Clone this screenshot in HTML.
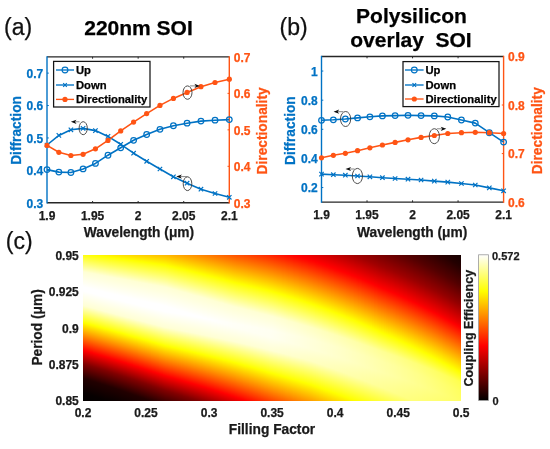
<!DOCTYPE html>
<html><head><meta charset="utf-8"><title>Grating coupler figure</title>
<style>html,body{margin:0;padding:0;background:#fff;}body{width:550px;height:449px;overflow:hidden;font-family:"Liberation Sans", sans-serif;}svg{display:block;will-change:transform;}</style>
</head><body>
<svg width="550" height="449" viewBox="0 0 550 449" font-family='"Liberation Sans", sans-serif'><rect width="550" height="449" fill="#fff"/>
<text x="4.00" y="34.70" font-size="23" font-weight="normal" text-anchor="start" fill="#111" stroke="#111" stroke-width="0.25">(a)</text>
<text x="138.50" y="35.00" font-size="21" font-weight="bold" text-anchor="middle" fill="#000" stroke="#000" stroke-width="0.25">220nm SOI</text>
<text x="279.60" y="34.70" font-size="23" font-weight="normal" text-anchor="start" fill="#111" stroke="#111" stroke-width="0.25">(b)</text>
<text x="411.50" y="22.60" font-size="21" font-weight="bold" text-anchor="middle" fill="#000" stroke="#000" stroke-width="0.25">Polysilicon</text>
<text x="411.00" y="47.20" font-size="21" font-weight="bold" text-anchor="middle" fill="#000" stroke="#000" stroke-width="0.25">overlay&#160; SOI</text>
<text x="5.80" y="248.60" font-size="23" font-weight="normal" text-anchor="start" fill="#111" stroke="#111" stroke-width="0.25">(c)</text>
<line x1="47.00" y1="56.90" x2="229.30" y2="56.90" stroke="#262626" stroke-width="1.4"/>
<line x1="47.00" y1="202.80" x2="229.30" y2="202.80" stroke="#262626" stroke-width="1.4"/>
<line x1="47.00" y1="56.20" x2="47.00" y2="203.50" stroke="#0072C4" stroke-width="1.4"/>
<line x1="229.30" y1="56.20" x2="229.30" y2="203.50" stroke="#FF5414" stroke-width="1.4"/>
<text x="47.00" y="219.70" font-size="12" font-weight="bold" text-anchor="middle" fill="#1a1a1a" stroke="#1a1a1a" stroke-width="0.25">1.9</text>
<line x1="92.58" y1="202.80" x2="92.58" y2="201.00" stroke="#262626" stroke-width="1.0"/>
<line x1="92.58" y1="56.90" x2="92.58" y2="58.70" stroke="#262626" stroke-width="1.0"/>
<text x="92.58" y="219.70" font-size="12" font-weight="bold" text-anchor="middle" fill="#1a1a1a" stroke="#1a1a1a" stroke-width="0.25">1.95</text>
<line x1="138.15" y1="202.80" x2="138.15" y2="201.00" stroke="#262626" stroke-width="1.0"/>
<line x1="138.15" y1="56.90" x2="138.15" y2="58.70" stroke="#262626" stroke-width="1.0"/>
<text x="138.15" y="219.70" font-size="12" font-weight="bold" text-anchor="middle" fill="#1a1a1a" stroke="#1a1a1a" stroke-width="0.25">2</text>
<line x1="183.72" y1="202.80" x2="183.72" y2="201.00" stroke="#262626" stroke-width="1.0"/>
<line x1="183.72" y1="56.90" x2="183.72" y2="58.70" stroke="#262626" stroke-width="1.0"/>
<text x="183.72" y="219.70" font-size="12" font-weight="bold" text-anchor="middle" fill="#1a1a1a" stroke="#1a1a1a" stroke-width="0.25">2.05</text>
<text x="229.30" y="219.70" font-size="12" font-weight="bold" text-anchor="middle" fill="#1a1a1a" stroke="#1a1a1a" stroke-width="0.25">2.1</text>
<text x="43.20" y="207.60" font-size="12" font-weight="bold" text-anchor="end" fill="#0072C4" stroke="#0072C4" stroke-width="0.25">0.3</text>
<line x1="47.00" y1="170.38" x2="48.80" y2="170.38" stroke="#0072C4" stroke-width="1.0"/>
<text x="43.20" y="175.18" font-size="12" font-weight="bold" text-anchor="end" fill="#0072C4" stroke="#0072C4" stroke-width="0.25">0.4</text>
<line x1="47.00" y1="137.96" x2="48.80" y2="137.96" stroke="#0072C4" stroke-width="1.0"/>
<text x="43.20" y="142.76" font-size="12" font-weight="bold" text-anchor="end" fill="#0072C4" stroke="#0072C4" stroke-width="0.25">0.5</text>
<line x1="47.00" y1="105.53" x2="48.80" y2="105.53" stroke="#0072C4" stroke-width="1.0"/>
<text x="43.20" y="110.33" font-size="12" font-weight="bold" text-anchor="end" fill="#0072C4" stroke="#0072C4" stroke-width="0.25">0.6</text>
<line x1="47.00" y1="73.11" x2="48.80" y2="73.11" stroke="#0072C4" stroke-width="1.0"/>
<text x="43.20" y="77.91" font-size="12" font-weight="bold" text-anchor="end" fill="#0072C4" stroke="#0072C4" stroke-width="0.25">0.7</text>
<text x="233.80" y="207.60" font-size="12" font-weight="bold" text-anchor="start" fill="#FF5414" stroke="#FF5414" stroke-width="0.25">0.3</text>
<line x1="229.30" y1="166.32" x2="227.50" y2="166.32" stroke="#FF5414" stroke-width="1.0"/>
<text x="233.80" y="171.12" font-size="12" font-weight="bold" text-anchor="start" fill="#FF5414" stroke="#FF5414" stroke-width="0.25">0.4</text>
<line x1="229.30" y1="129.85" x2="227.50" y2="129.85" stroke="#FF5414" stroke-width="1.0"/>
<text x="233.80" y="134.65" font-size="12" font-weight="bold" text-anchor="start" fill="#FF5414" stroke="#FF5414" stroke-width="0.25">0.5</text>
<line x1="229.30" y1="93.38" x2="227.50" y2="93.38" stroke="#FF5414" stroke-width="1.0"/>
<text x="233.80" y="98.17" font-size="12" font-weight="bold" text-anchor="start" fill="#FF5414" stroke="#FF5414" stroke-width="0.25">0.6</text>
<text x="233.80" y="61.70" font-size="12" font-weight="bold" text-anchor="start" fill="#FF5414" stroke="#FF5414" stroke-width="0.25">0.7</text>
<polyline points="47.00,145.00 58.86,135.40 70.89,129.80 83.08,128.40 95.44,130.60 107.98,136.40 120.70,144.30 133.59,153.20 146.67,161.30 159.95,169.00 173.41,176.80 187.08,183.20 200.94,189.20 215.02,193.50 229.30,197.30" fill="none" stroke="#0072C4" stroke-width="1.6" stroke-linejoin="round"/>
<polyline points="47.00,169.60 58.86,172.10 70.89,172.50 83.08,168.90 95.44,163.40 107.98,155.20 120.70,147.80 133.59,140.30 146.67,134.50 159.95,129.30 173.41,125.70 187.08,123.20 200.94,121.10 215.02,120.20 229.30,119.60" fill="none" stroke="#0072C4" stroke-width="1.6" stroke-linejoin="round"/>
<polyline points="47.00,145.40 58.86,152.30 70.89,155.50 83.08,154.30 95.44,148.80 107.98,140.40 120.70,130.90 133.59,122.10 146.67,113.60 159.95,105.40 173.41,98.40 187.08,92.40 200.94,86.70 215.02,82.50 229.30,79.20" fill="none" stroke="#FF5414" stroke-width="1.6" stroke-linejoin="round"/>
<circle cx="47.00" cy="169.60" r="2.8" fill="none" stroke="#0072C4" stroke-width="1.25"/>
<circle cx="58.86" cy="172.10" r="2.8" fill="none" stroke="#0072C4" stroke-width="1.25"/>
<circle cx="70.89" cy="172.50" r="2.8" fill="none" stroke="#0072C4" stroke-width="1.25"/>
<circle cx="83.08" cy="168.90" r="2.8" fill="none" stroke="#0072C4" stroke-width="1.25"/>
<circle cx="95.44" cy="163.40" r="2.8" fill="none" stroke="#0072C4" stroke-width="1.25"/>
<circle cx="107.98" cy="155.20" r="2.8" fill="none" stroke="#0072C4" stroke-width="1.25"/>
<circle cx="120.70" cy="147.80" r="2.8" fill="none" stroke="#0072C4" stroke-width="1.25"/>
<circle cx="133.59" cy="140.30" r="2.8" fill="none" stroke="#0072C4" stroke-width="1.25"/>
<circle cx="146.67" cy="134.50" r="2.8" fill="none" stroke="#0072C4" stroke-width="1.25"/>
<circle cx="159.95" cy="129.30" r="2.8" fill="none" stroke="#0072C4" stroke-width="1.25"/>
<circle cx="173.41" cy="125.70" r="2.8" fill="none" stroke="#0072C4" stroke-width="1.25"/>
<circle cx="187.08" cy="123.20" r="2.8" fill="none" stroke="#0072C4" stroke-width="1.25"/>
<circle cx="200.94" cy="121.10" r="2.8" fill="none" stroke="#0072C4" stroke-width="1.25"/>
<circle cx="215.02" cy="120.20" r="2.8" fill="none" stroke="#0072C4" stroke-width="1.25"/>
<circle cx="229.30" cy="119.60" r="2.8" fill="none" stroke="#0072C4" stroke-width="1.25"/>
<path d="M44.80 142.80L49.20 147.20M44.80 147.20L49.20 142.80" stroke="#0072C4" stroke-width="1.2" fill="none"/>
<path d="M56.66 133.20L61.06 137.60M56.66 137.60L61.06 133.20" stroke="#0072C4" stroke-width="1.2" fill="none"/>
<path d="M68.69 127.60L73.09 132.00M68.69 132.00L73.09 127.60" stroke="#0072C4" stroke-width="1.2" fill="none"/>
<path d="M80.88 126.20L85.28 130.60M80.88 130.60L85.28 126.20" stroke="#0072C4" stroke-width="1.2" fill="none"/>
<path d="M93.24 128.40L97.64 132.80M93.24 132.80L97.64 128.40" stroke="#0072C4" stroke-width="1.2" fill="none"/>
<path d="M105.78 134.20L110.18 138.60M105.78 138.60L110.18 134.20" stroke="#0072C4" stroke-width="1.2" fill="none"/>
<path d="M118.50 142.10L122.90 146.50M118.50 146.50L122.90 142.10" stroke="#0072C4" stroke-width="1.2" fill="none"/>
<path d="M131.39 151.00L135.79 155.40M131.39 155.40L135.79 151.00" stroke="#0072C4" stroke-width="1.2" fill="none"/>
<path d="M144.47 159.10L148.87 163.50M144.47 163.50L148.87 159.10" stroke="#0072C4" stroke-width="1.2" fill="none"/>
<path d="M157.75 166.80L162.15 171.20M157.75 171.20L162.15 166.80" stroke="#0072C4" stroke-width="1.2" fill="none"/>
<path d="M171.21 174.60L175.61 179.00M171.21 179.00L175.61 174.60" stroke="#0072C4" stroke-width="1.2" fill="none"/>
<path d="M184.88 181.00L189.28 185.40M184.88 185.40L189.28 181.00" stroke="#0072C4" stroke-width="1.2" fill="none"/>
<path d="M198.74 187.00L203.14 191.40M198.74 191.40L203.14 187.00" stroke="#0072C4" stroke-width="1.2" fill="none"/>
<path d="M212.82 191.30L217.22 195.70M212.82 195.70L217.22 191.30" stroke="#0072C4" stroke-width="1.2" fill="none"/>
<path d="M227.10 195.10L231.50 199.50M227.10 199.50L231.50 195.10" stroke="#0072C4" stroke-width="1.2" fill="none"/>
<circle cx="47.00" cy="145.40" r="2.6" fill="#FF5414"/>
<circle cx="58.86" cy="152.30" r="2.6" fill="#FF5414"/>
<circle cx="70.89" cy="155.50" r="2.6" fill="#FF5414"/>
<circle cx="83.08" cy="154.30" r="2.6" fill="#FF5414"/>
<circle cx="95.44" cy="148.80" r="2.6" fill="#FF5414"/>
<circle cx="107.98" cy="140.40" r="2.6" fill="#FF5414"/>
<circle cx="120.70" cy="130.90" r="2.6" fill="#FF5414"/>
<circle cx="133.59" cy="122.10" r="2.6" fill="#FF5414"/>
<circle cx="146.67" cy="113.60" r="2.6" fill="#FF5414"/>
<circle cx="159.95" cy="105.40" r="2.6" fill="#FF5414"/>
<circle cx="173.41" cy="98.40" r="2.6" fill="#FF5414"/>
<circle cx="187.08" cy="92.40" r="2.6" fill="#FF5414"/>
<circle cx="200.94" cy="86.70" r="2.6" fill="#FF5414"/>
<circle cx="215.02" cy="82.50" r="2.6" fill="#FF5414"/>
<circle cx="229.30" cy="79.20" r="2.6" fill="#FF5414"/>
<rect x="53.6" y="61.4" width="96.4" height="45.6" fill="#fff" stroke="#151515" stroke-width="1.25"/>
<line x1="56.00" y1="70.00" x2="74.00" y2="70.00" stroke="#0072C4" stroke-width="1.35"/>
<circle cx="65.00" cy="70.00" r="2.9" fill="none" stroke="#0072C4" stroke-width="1.15"/>
<line x1="56.00" y1="85.00" x2="74.00" y2="85.00" stroke="#0072C4" stroke-width="1.35"/>
<path d="M63.20 83.20L66.80 86.80M63.20 86.80L66.80 83.20" stroke="#0072C4" stroke-width="1.2" fill="none"/>
<line x1="56.00" y1="99.40" x2="74.00" y2="99.40" stroke="#FF5414" stroke-width="1.35"/>
<circle cx="65.00" cy="99.40" r="2.6" fill="#FF5414"/>
<text x="76.00" y="74.00" font-size="11.25" font-weight="bold" text-anchor="start" fill="#000" stroke="#000" stroke-width="0.25">Up</text>
<text x="76.00" y="89.00" font-size="11.25" font-weight="bold" text-anchor="start" fill="#000" stroke="#000" stroke-width="0.25">Down</text>
<text x="76.00" y="103.40" font-size="11.25" font-weight="bold" text-anchor="start" fill="#000" stroke="#000" stroke-width="0.25">Directionality</text>
<ellipse cx="83.2" cy="128.2" rx="4.1" ry="6.5" fill="none" stroke="#3a3a3a" stroke-width="0.9"/>
<line x1="79.50" y1="121.80" x2="74.82" y2="121.80" stroke="#7a7a7a" stroke-width="0.9"/>
<path d="M70.90 121.80L76.50 119.70L74.93 121.80L76.50 123.90Z" fill="#0a0a0a"/>
<ellipse cx="187.5" cy="92.6" rx="4.5" ry="6.7" fill="none" stroke="#3a3a3a" stroke-width="0.9"/>
<line x1="190.00" y1="85.90" x2="196.08" y2="85.90" stroke="#7a7a7a" stroke-width="0.9"/>
<path d="M200.00 85.90L194.40 83.80L195.97 85.90L194.40 88.00Z" fill="#0a0a0a"/>
<ellipse cx="187.5" cy="183.7" rx="4.3" ry="6.9" fill="none" stroke="#3a3a3a" stroke-width="0.9"/>
<line x1="187.50" y1="176.60" x2="180.22" y2="176.60" stroke="#7a7a7a" stroke-width="0.9"/>
<path d="M176.30 176.60L181.90 174.50L180.33 176.60L181.90 178.70Z" fill="#0a0a0a"/>
<text x="139.00" y="236.50" font-size="13.75" font-weight="bold" text-anchor="middle" fill="#1a1a1a" stroke="#1a1a1a" stroke-width="0.25">Wavelength (μm)</text>
<text x="20.70" y="130.45" font-size="13.75" font-weight="bold" text-anchor="middle" fill="#0072C4" stroke="#0072C4" stroke-width="0.25" transform="rotate(-90 20.7 130.45)">Diffraction</text>
<text x="267.50" y="130.90" font-size="13.75" font-weight="bold" text-anchor="middle" fill="#FF5414" stroke="#FF5414" stroke-width="0.25" transform="rotate(-90 267.5 130.9)">Directionality</text>
<line x1="321.50" y1="56.50" x2="503.60" y2="56.50" stroke="#262626" stroke-width="1.4"/>
<line x1="321.50" y1="202.10" x2="503.60" y2="202.10" stroke="#262626" stroke-width="1.4"/>
<line x1="321.50" y1="55.80" x2="321.50" y2="202.80" stroke="#0072C4" stroke-width="1.4"/>
<line x1="503.60" y1="55.80" x2="503.60" y2="202.80" stroke="#FF5414" stroke-width="1.4"/>
<text x="321.50" y="219.00" font-size="12" font-weight="bold" text-anchor="middle" fill="#1a1a1a" stroke="#1a1a1a" stroke-width="0.25">1.9</text>
<line x1="367.03" y1="202.10" x2="367.03" y2="200.30" stroke="#262626" stroke-width="1.0"/>
<line x1="367.03" y1="56.50" x2="367.03" y2="58.30" stroke="#262626" stroke-width="1.0"/>
<text x="367.03" y="219.00" font-size="12" font-weight="bold" text-anchor="middle" fill="#1a1a1a" stroke="#1a1a1a" stroke-width="0.25">1.95</text>
<line x1="412.55" y1="202.10" x2="412.55" y2="200.30" stroke="#262626" stroke-width="1.0"/>
<line x1="412.55" y1="56.50" x2="412.55" y2="58.30" stroke="#262626" stroke-width="1.0"/>
<text x="412.55" y="219.00" font-size="12" font-weight="bold" text-anchor="middle" fill="#1a1a1a" stroke="#1a1a1a" stroke-width="0.25">2</text>
<line x1="458.07" y1="202.10" x2="458.07" y2="200.30" stroke="#262626" stroke-width="1.0"/>
<line x1="458.07" y1="56.50" x2="458.07" y2="58.30" stroke="#262626" stroke-width="1.0"/>
<text x="458.07" y="219.00" font-size="12" font-weight="bold" text-anchor="middle" fill="#1a1a1a" stroke="#1a1a1a" stroke-width="0.25">2.05</text>
<text x="503.60" y="219.00" font-size="12" font-weight="bold" text-anchor="middle" fill="#1a1a1a" stroke="#1a1a1a" stroke-width="0.25">2.1</text>
<line x1="321.50" y1="187.54" x2="323.30" y2="187.54" stroke="#0072C4" stroke-width="1.0"/>
<text x="317.70" y="192.34" font-size="12" font-weight="bold" text-anchor="end" fill="#0072C4" stroke="#0072C4" stroke-width="0.25">0.2</text>
<line x1="321.50" y1="158.42" x2="323.30" y2="158.42" stroke="#0072C4" stroke-width="1.0"/>
<text x="317.70" y="163.22" font-size="12" font-weight="bold" text-anchor="end" fill="#0072C4" stroke="#0072C4" stroke-width="0.25">0.4</text>
<line x1="321.50" y1="129.30" x2="323.30" y2="129.30" stroke="#0072C4" stroke-width="1.0"/>
<text x="317.70" y="134.10" font-size="12" font-weight="bold" text-anchor="end" fill="#0072C4" stroke="#0072C4" stroke-width="0.25">0.6</text>
<line x1="321.50" y1="100.18" x2="323.30" y2="100.18" stroke="#0072C4" stroke-width="1.0"/>
<text x="317.70" y="104.98" font-size="12" font-weight="bold" text-anchor="end" fill="#0072C4" stroke="#0072C4" stroke-width="0.25">0.8</text>
<line x1="321.50" y1="71.06" x2="323.30" y2="71.06" stroke="#0072C4" stroke-width="1.0"/>
<text x="317.70" y="75.86" font-size="12" font-weight="bold" text-anchor="end" fill="#0072C4" stroke="#0072C4" stroke-width="0.25">1</text>
<text x="508.10" y="206.90" font-size="12" font-weight="bold" text-anchor="start" fill="#FF5414" stroke="#FF5414" stroke-width="0.25">0.6</text>
<line x1="503.60" y1="153.57" x2="501.80" y2="153.57" stroke="#FF5414" stroke-width="1.0"/>
<text x="508.10" y="158.37" font-size="12" font-weight="bold" text-anchor="start" fill="#FF5414" stroke="#FF5414" stroke-width="0.25">0.7</text>
<line x1="503.60" y1="105.03" x2="501.80" y2="105.03" stroke="#FF5414" stroke-width="1.0"/>
<text x="508.10" y="109.83" font-size="12" font-weight="bold" text-anchor="start" fill="#FF5414" stroke="#FF5414" stroke-width="0.25">0.8</text>
<text x="508.10" y="61.30" font-size="12" font-weight="bold" text-anchor="start" fill="#FF5414" stroke="#FF5414" stroke-width="0.25">0.9</text>
<polyline points="321.50,174.10 333.35,174.70 345.36,175.20 357.54,176.00 369.89,176.80 382.41,177.70 395.11,178.50 408.00,179.20 421.07,180.00 434.32,181.10 447.77,182.10 461.42,183.50 475.27,185.00 489.33,187.90 503.60,190.80" fill="none" stroke="#0072C4" stroke-width="1.6" stroke-linejoin="round"/>
<polyline points="321.50,120.30 333.35,119.80 345.36,119.00 357.54,117.90 369.89,116.80 382.41,115.90 395.11,115.60 408.00,115.30 421.07,115.60 434.32,115.90 447.77,117.00 461.42,120.00 475.27,123.10 489.33,132.70 503.60,142.10" fill="none" stroke="#0072C4" stroke-width="1.6" stroke-linejoin="round"/>
<polyline points="321.50,157.80 333.35,155.30 345.36,153.30 357.54,150.70 369.89,147.80 382.41,145.00 395.11,142.40 408.00,139.80 421.07,137.40 434.32,135.50 447.77,133.50 461.42,132.70 475.27,132.30 489.33,132.70 503.60,133.50" fill="none" stroke="#FF5414" stroke-width="1.6" stroke-linejoin="round"/>
<circle cx="321.50" cy="120.30" r="2.8" fill="none" stroke="#0072C4" stroke-width="1.25"/>
<circle cx="333.35" cy="119.80" r="2.8" fill="none" stroke="#0072C4" stroke-width="1.25"/>
<circle cx="345.36" cy="119.00" r="2.8" fill="none" stroke="#0072C4" stroke-width="1.25"/>
<circle cx="357.54" cy="117.90" r="2.8" fill="none" stroke="#0072C4" stroke-width="1.25"/>
<circle cx="369.89" cy="116.80" r="2.8" fill="none" stroke="#0072C4" stroke-width="1.25"/>
<circle cx="382.41" cy="115.90" r="2.8" fill="none" stroke="#0072C4" stroke-width="1.25"/>
<circle cx="395.11" cy="115.60" r="2.8" fill="none" stroke="#0072C4" stroke-width="1.25"/>
<circle cx="408.00" cy="115.30" r="2.8" fill="none" stroke="#0072C4" stroke-width="1.25"/>
<circle cx="421.07" cy="115.60" r="2.8" fill="none" stroke="#0072C4" stroke-width="1.25"/>
<circle cx="434.32" cy="115.90" r="2.8" fill="none" stroke="#0072C4" stroke-width="1.25"/>
<circle cx="447.77" cy="117.00" r="2.8" fill="none" stroke="#0072C4" stroke-width="1.25"/>
<circle cx="461.42" cy="120.00" r="2.8" fill="none" stroke="#0072C4" stroke-width="1.25"/>
<circle cx="475.27" cy="123.10" r="2.8" fill="none" stroke="#0072C4" stroke-width="1.25"/>
<circle cx="489.33" cy="132.70" r="2.8" fill="none" stroke="#0072C4" stroke-width="1.25"/>
<circle cx="503.60" cy="142.10" r="2.8" fill="none" stroke="#0072C4" stroke-width="1.25"/>
<path d="M319.30 171.90L323.70 176.30M319.30 176.30L323.70 171.90" stroke="#0072C4" stroke-width="1.2" fill="none"/>
<path d="M331.15 172.50L335.55 176.90M331.15 176.90L335.55 172.50" stroke="#0072C4" stroke-width="1.2" fill="none"/>
<path d="M343.16 173.00L347.56 177.40M343.16 177.40L347.56 173.00" stroke="#0072C4" stroke-width="1.2" fill="none"/>
<path d="M355.34 173.80L359.74 178.20M355.34 178.20L359.74 173.80" stroke="#0072C4" stroke-width="1.2" fill="none"/>
<path d="M367.69 174.60L372.09 179.00M367.69 179.00L372.09 174.60" stroke="#0072C4" stroke-width="1.2" fill="none"/>
<path d="M380.21 175.50L384.61 179.90M380.21 179.90L384.61 175.50" stroke="#0072C4" stroke-width="1.2" fill="none"/>
<path d="M392.91 176.30L397.31 180.70M392.91 180.70L397.31 176.30" stroke="#0072C4" stroke-width="1.2" fill="none"/>
<path d="M405.80 177.00L410.20 181.40M405.80 181.40L410.20 177.00" stroke="#0072C4" stroke-width="1.2" fill="none"/>
<path d="M418.87 177.80L423.27 182.20M418.87 182.20L423.27 177.80" stroke="#0072C4" stroke-width="1.2" fill="none"/>
<path d="M432.12 178.90L436.52 183.30M432.12 183.30L436.52 178.90" stroke="#0072C4" stroke-width="1.2" fill="none"/>
<path d="M445.57 179.90L449.97 184.30M445.57 184.30L449.97 179.90" stroke="#0072C4" stroke-width="1.2" fill="none"/>
<path d="M459.22 181.30L463.62 185.70M459.22 185.70L463.62 181.30" stroke="#0072C4" stroke-width="1.2" fill="none"/>
<path d="M473.07 182.80L477.47 187.20M473.07 187.20L477.47 182.80" stroke="#0072C4" stroke-width="1.2" fill="none"/>
<path d="M487.13 185.70L491.53 190.10M487.13 190.10L491.53 185.70" stroke="#0072C4" stroke-width="1.2" fill="none"/>
<path d="M501.40 188.60L505.80 193.00M501.40 193.00L505.80 188.60" stroke="#0072C4" stroke-width="1.2" fill="none"/>
<circle cx="321.50" cy="157.80" r="2.6" fill="#FF5414"/>
<circle cx="333.35" cy="155.30" r="2.6" fill="#FF5414"/>
<circle cx="345.36" cy="153.30" r="2.6" fill="#FF5414"/>
<circle cx="357.54" cy="150.70" r="2.6" fill="#FF5414"/>
<circle cx="369.89" cy="147.80" r="2.6" fill="#FF5414"/>
<circle cx="382.41" cy="145.00" r="2.6" fill="#FF5414"/>
<circle cx="395.11" cy="142.40" r="2.6" fill="#FF5414"/>
<circle cx="408.00" cy="139.80" r="2.6" fill="#FF5414"/>
<circle cx="421.07" cy="137.40" r="2.6" fill="#FF5414"/>
<circle cx="434.32" cy="135.50" r="2.6" fill="#FF5414"/>
<circle cx="447.77" cy="133.50" r="2.6" fill="#FF5414"/>
<circle cx="461.42" cy="132.70" r="2.6" fill="#FF5414"/>
<circle cx="475.27" cy="132.30" r="2.6" fill="#FF5414"/>
<circle cx="489.33" cy="132.70" r="2.6" fill="#FF5414"/>
<circle cx="503.60" cy="133.50" r="2.6" fill="#FF5414"/>
<rect x="403.0" y="61.6" width="96.0" height="44.99999999999999" fill="#fff" stroke="#151515" stroke-width="1.25"/>
<line x1="405.00" y1="70.00" x2="423.60" y2="70.00" stroke="#0072C4" stroke-width="1.35"/>
<circle cx="414.30" cy="70.00" r="2.9" fill="none" stroke="#0072C4" stroke-width="1.15"/>
<line x1="405.00" y1="85.00" x2="423.60" y2="85.00" stroke="#0072C4" stroke-width="1.35"/>
<path d="M412.50 83.20L416.10 86.80M412.50 86.80L416.10 83.20" stroke="#0072C4" stroke-width="1.2" fill="none"/>
<line x1="405.00" y1="99.00" x2="423.60" y2="99.00" stroke="#FF5414" stroke-width="1.35"/>
<circle cx="414.30" cy="99.00" r="2.6" fill="#FF5414"/>
<text x="425.40" y="74.00" font-size="11.25" font-weight="bold" text-anchor="start" fill="#000" stroke="#000" stroke-width="0.25">Up</text>
<text x="425.40" y="89.00" font-size="11.25" font-weight="bold" text-anchor="start" fill="#000" stroke="#000" stroke-width="0.25">Down</text>
<text x="425.40" y="103.00" font-size="11.25" font-weight="bold" text-anchor="start" fill="#000" stroke="#000" stroke-width="0.25">Directionality</text>
<ellipse cx="345.6" cy="119.0" rx="5.1" ry="7.5" fill="none" stroke="#3a3a3a" stroke-width="0.9"/>
<line x1="343.00" y1="111.70" x2="337.52" y2="111.70" stroke="#7a7a7a" stroke-width="0.9"/>
<path d="M333.60 111.70L339.20 109.60L337.63 111.70L339.20 113.80Z" fill="#0a0a0a"/>
<ellipse cx="434.3" cy="136.2" rx="5.1" ry="7.5" fill="none" stroke="#3a3a3a" stroke-width="0.9"/>
<line x1="436.90" y1="128.80" x2="442.38" y2="128.80" stroke="#7a7a7a" stroke-width="0.9"/>
<path d="M446.30 128.80L440.70 126.70L442.27 128.80L440.70 130.90Z" fill="#0a0a0a"/>
<ellipse cx="357.4" cy="176.0" rx="5.1" ry="7.6" fill="none" stroke="#3a3a3a" stroke-width="0.9"/>
<line x1="354.50" y1="169.00" x2="349.42" y2="169.00" stroke="#7a7a7a" stroke-width="0.9"/>
<path d="M345.50 169.00L351.10 166.90L349.53 169.00L351.10 171.10Z" fill="#0a0a0a"/>
<text x="412.20" y="236.50" font-size="13.75" font-weight="bold" text-anchor="middle" fill="#1a1a1a" stroke="#1a1a1a" stroke-width="0.25">Wavelength (μm)</text>
<text x="294.70" y="130.60" font-size="13.75" font-weight="bold" text-anchor="middle" fill="#0072C4" stroke="#0072C4" stroke-width="0.25" transform="rotate(-90 294.7 130.6)">Diffraction</text>
<text x="541.70" y="130.70" font-size="13.75" font-weight="bold" text-anchor="middle" fill="#FF5414" stroke="#FF5414" stroke-width="0.25" transform="rotate(-90 541.7 130.7)">Directionality</text>
<defs><linearGradient id="g0" x2="0" y2="1"><stop offset="0.000" stop-color="#ffff0b"/><stop offset="0.011" stop-color="#ffff21"/><stop offset="0.116" stop-color="#ffffd4"/><stop offset="0.221" stop-color="#ffffff"/><stop offset="0.249" stop-color="#ffffff"/><stop offset="0.349" stop-color="#ffffd4"/><stop offset="0.449" stop-color="#ffff21"/><stop offset="0.465" stop-color="#ffff00"/><stop offset="0.548" stop-color="#ff9200"/><stop offset="0.655" stop-color="#ff0000"/><stop offset="0.748" stop-color="#810000"/><stop offset="0.848" stop-color="#220000"/><stop offset="0.948" stop-color="#070000"/><stop offset="1.000" stop-color="#030000"/></linearGradient><linearGradient id="g1" x2="0" y2="1"><stop offset="0.000" stop-color="#ffff0a"/><stop offset="0.012" stop-color="#ffff21"/><stop offset="0.118" stop-color="#ffffd4"/><stop offset="0.223" stop-color="#ffffff"/><stop offset="0.251" stop-color="#ffffff"/><stop offset="0.351" stop-color="#ffffd4"/><stop offset="0.451" stop-color="#ffff21"/><stop offset="0.467" stop-color="#ffff00"/><stop offset="0.550" stop-color="#ff9200"/><stop offset="0.657" stop-color="#ff0000"/><stop offset="0.750" stop-color="#810000"/><stop offset="0.850" stop-color="#220000"/><stop offset="0.950" stop-color="#070000"/><stop offset="1.000" stop-color="#030000"/></linearGradient><linearGradient id="g2" x2="0" y2="1"><stop offset="0.000" stop-color="#ffff08"/><stop offset="0.013" stop-color="#ffff21"/><stop offset="0.119" stop-color="#ffffd4"/><stop offset="0.225" stop-color="#ffffff"/><stop offset="0.253" stop-color="#ffffff"/><stop offset="0.353" stop-color="#ffffd4"/><stop offset="0.452" stop-color="#ffff21"/><stop offset="0.469" stop-color="#ffff00"/><stop offset="0.552" stop-color="#ff9200"/><stop offset="0.659" stop-color="#ff0000"/><stop offset="0.752" stop-color="#810000"/><stop offset="0.852" stop-color="#220000"/><stop offset="0.952" stop-color="#070000"/><stop offset="1.000" stop-color="#040000"/></linearGradient><linearGradient id="g3" x2="0" y2="1"><stop offset="0.000" stop-color="#ffff06"/><stop offset="0.014" stop-color="#ffff21"/><stop offset="0.120" stop-color="#ffffd4"/><stop offset="0.227" stop-color="#ffffff"/><stop offset="0.254" stop-color="#ffffff"/><stop offset="0.354" stop-color="#ffffd4"/><stop offset="0.454" stop-color="#ffff21"/><stop offset="0.471" stop-color="#ffff00"/><stop offset="0.554" stop-color="#ff9200"/><stop offset="0.661" stop-color="#ff0000"/><stop offset="0.754" stop-color="#810000"/><stop offset="0.854" stop-color="#220000"/><stop offset="0.954" stop-color="#070000"/><stop offset="1.000" stop-color="#040000"/></linearGradient><linearGradient id="g4" x2="0" y2="1"><stop offset="0.000" stop-color="#ffff05"/><stop offset="0.015" stop-color="#ffff21"/><stop offset="0.122" stop-color="#ffffd4"/><stop offset="0.228" stop-color="#ffffff"/><stop offset="0.256" stop-color="#ffffff"/><stop offset="0.356" stop-color="#ffffd4"/><stop offset="0.456" stop-color="#ffff21"/><stop offset="0.473" stop-color="#ffff00"/><stop offset="0.556" stop-color="#ff9200"/><stop offset="0.663" stop-color="#ff0000"/><stop offset="0.756" stop-color="#810000"/><stop offset="0.856" stop-color="#220000"/><stop offset="0.956" stop-color="#070000"/><stop offset="1.000" stop-color="#040000"/></linearGradient><linearGradient id="g5" x2="0" y2="1"><stop offset="0.000" stop-color="#ffff03"/><stop offset="0.016" stop-color="#ffff21"/><stop offset="0.123" stop-color="#ffffd4"/><stop offset="0.230" stop-color="#ffffff"/><stop offset="0.258" stop-color="#ffffff"/><stop offset="0.358" stop-color="#ffffd4"/><stop offset="0.458" stop-color="#ffff21"/><stop offset="0.475" stop-color="#ffff00"/><stop offset="0.558" stop-color="#ff9200"/><stop offset="0.665" stop-color="#ff0000"/><stop offset="0.758" stop-color="#810000"/><stop offset="0.858" stop-color="#220000"/><stop offset="0.959" stop-color="#070000"/><stop offset="1.000" stop-color="#040000"/></linearGradient><linearGradient id="g6" x2="0" y2="1"><stop offset="0.000" stop-color="#ffff01"/><stop offset="0.017" stop-color="#ffff21"/><stop offset="0.124" stop-color="#ffffd4"/><stop offset="0.232" stop-color="#ffffff"/><stop offset="0.260" stop-color="#ffffff"/><stop offset="0.360" stop-color="#ffffd4"/><stop offset="0.460" stop-color="#ffff21"/><stop offset="0.477" stop-color="#ffff00"/><stop offset="0.560" stop-color="#ff9200"/><stop offset="0.667" stop-color="#ff0000"/><stop offset="0.760" stop-color="#810000"/><stop offset="0.861" stop-color="#220000"/><stop offset="0.961" stop-color="#070000"/><stop offset="1.000" stop-color="#040000"/></linearGradient><linearGradient id="g7" x2="0" y2="1"><stop offset="0.000" stop-color="#ffff00"/><stop offset="0.018" stop-color="#ffff21"/><stop offset="0.126" stop-color="#ffffd4"/><stop offset="0.233" stop-color="#ffffff"/><stop offset="0.262" stop-color="#ffffff"/><stop offset="0.362" stop-color="#ffffd4"/><stop offset="0.462" stop-color="#ffff21"/><stop offset="0.479" stop-color="#ffff00"/><stop offset="0.562" stop-color="#ff9200"/><stop offset="0.669" stop-color="#ff0000"/><stop offset="0.763" stop-color="#810000"/><stop offset="0.863" stop-color="#220000"/><stop offset="0.963" stop-color="#070000"/><stop offset="1.000" stop-color="#040000"/></linearGradient><linearGradient id="g8" x2="0" y2="1"><stop offset="0.000" stop-color="#fffe00"/><stop offset="0.001" stop-color="#ffff00"/><stop offset="0.019" stop-color="#ffff21"/><stop offset="0.127" stop-color="#ffffd4"/><stop offset="0.235" stop-color="#ffffff"/><stop offset="0.263" stop-color="#ffffff"/><stop offset="0.364" stop-color="#ffffd4"/><stop offset="0.464" stop-color="#ffff21"/><stop offset="0.481" stop-color="#ffff00"/><stop offset="0.564" stop-color="#ff9200"/><stop offset="0.671" stop-color="#ff0000"/><stop offset="0.765" stop-color="#810000"/><stop offset="0.865" stop-color="#220000"/><stop offset="0.965" stop-color="#070000"/><stop offset="1.000" stop-color="#040000"/></linearGradient><linearGradient id="g9" x2="0" y2="1"><stop offset="0.000" stop-color="#fffc00"/><stop offset="0.002" stop-color="#ffff00"/><stop offset="0.020" stop-color="#ffff21"/><stop offset="0.128" stop-color="#ffffd4"/><stop offset="0.237" stop-color="#ffffff"/><stop offset="0.265" stop-color="#ffffff"/><stop offset="0.366" stop-color="#ffffd4"/><stop offset="0.466" stop-color="#ffff21"/><stop offset="0.483" stop-color="#ffff00"/><stop offset="0.566" stop-color="#ff9200"/><stop offset="0.673" stop-color="#ff0000"/><stop offset="0.767" stop-color="#810000"/><stop offset="0.867" stop-color="#220000"/><stop offset="0.967" stop-color="#070000"/><stop offset="1.000" stop-color="#050000"/></linearGradient><linearGradient id="g10" x2="0" y2="1"><stop offset="0.000" stop-color="#fffb00"/><stop offset="0.003" stop-color="#ffff00"/><stop offset="0.021" stop-color="#ffff21"/><stop offset="0.130" stop-color="#ffffd4"/><stop offset="0.238" stop-color="#ffffff"/><stop offset="0.267" stop-color="#ffffff"/><stop offset="0.367" stop-color="#ffffd4"/><stop offset="0.468" stop-color="#ffff21"/><stop offset="0.484" stop-color="#ffff00"/><stop offset="0.568" stop-color="#ff9200"/><stop offset="0.676" stop-color="#ff0000"/><stop offset="0.769" stop-color="#810000"/><stop offset="0.869" stop-color="#220000"/><stop offset="0.970" stop-color="#070000"/><stop offset="1.000" stop-color="#050000"/></linearGradient><linearGradient id="g11" x2="0" y2="1"><stop offset="0.000" stop-color="#fffa00"/><stop offset="0.004" stop-color="#ffff00"/><stop offset="0.022" stop-color="#ffff21"/><stop offset="0.131" stop-color="#ffffd4"/><stop offset="0.240" stop-color="#ffffff"/><stop offset="0.269" stop-color="#ffffff"/><stop offset="0.369" stop-color="#ffffd4"/><stop offset="0.470" stop-color="#ffff21"/><stop offset="0.486" stop-color="#ffff00"/><stop offset="0.570" stop-color="#ff9200"/><stop offset="0.678" stop-color="#ff0000"/><stop offset="0.771" stop-color="#810000"/><stop offset="0.871" stop-color="#220000"/><stop offset="0.972" stop-color="#070000"/><stop offset="1.000" stop-color="#050000"/></linearGradient><linearGradient id="g12" x2="0" y2="1"><stop offset="0.000" stop-color="#fff900"/><stop offset="0.005" stop-color="#ffff00"/><stop offset="0.023" stop-color="#ffff21"/><stop offset="0.132" stop-color="#ffffd4"/><stop offset="0.242" stop-color="#ffffff"/><stop offset="0.271" stop-color="#ffffff"/><stop offset="0.371" stop-color="#ffffd4"/><stop offset="0.472" stop-color="#ffff21"/><stop offset="0.488" stop-color="#ffff00"/><stop offset="0.572" stop-color="#ff9200"/><stop offset="0.680" stop-color="#ff0000"/><stop offset="0.773" stop-color="#810000"/><stop offset="0.873" stop-color="#220000"/><stop offset="0.974" stop-color="#070000"/><stop offset="1.000" stop-color="#050000"/></linearGradient><linearGradient id="g13" x2="0" y2="1"><stop offset="0.000" stop-color="#fff800"/><stop offset="0.006" stop-color="#ffff00"/><stop offset="0.024" stop-color="#ffff21"/><stop offset="0.134" stop-color="#ffffd4"/><stop offset="0.243" stop-color="#ffffff"/><stop offset="0.272" stop-color="#ffffff"/><stop offset="0.373" stop-color="#ffffd4"/><stop offset="0.473" stop-color="#ffff21"/><stop offset="0.490" stop-color="#ffff00"/><stop offset="0.574" stop-color="#ff9200"/><stop offset="0.682" stop-color="#ff0000"/><stop offset="0.775" stop-color="#810000"/><stop offset="0.876" stop-color="#220000"/><stop offset="0.976" stop-color="#070000"/><stop offset="1.000" stop-color="#050000"/></linearGradient><linearGradient id="g14" x2="0" y2="1"><stop offset="0.000" stop-color="#fff700"/><stop offset="0.007" stop-color="#ffff00"/><stop offset="0.025" stop-color="#ffff21"/><stop offset="0.135" stop-color="#ffffd4"/><stop offset="0.245" stop-color="#ffffff"/><stop offset="0.274" stop-color="#ffffff"/><stop offset="0.375" stop-color="#ffffd4"/><stop offset="0.475" stop-color="#ffff21"/><stop offset="0.492" stop-color="#ffff00"/><stop offset="0.576" stop-color="#ff9200"/><stop offset="0.684" stop-color="#ff0000"/><stop offset="0.777" stop-color="#810000"/><stop offset="0.878" stop-color="#220000"/><stop offset="0.978" stop-color="#070000"/><stop offset="1.000" stop-color="#050000"/></linearGradient><linearGradient id="g15" x2="0" y2="1"><stop offset="0.000" stop-color="#fff600"/><stop offset="0.008" stop-color="#ffff00"/><stop offset="0.026" stop-color="#ffff21"/><stop offset="0.136" stop-color="#ffffd4"/><stop offset="0.247" stop-color="#ffffff"/><stop offset="0.276" stop-color="#ffffff"/><stop offset="0.377" stop-color="#ffffd4"/><stop offset="0.477" stop-color="#ffff21"/><stop offset="0.494" stop-color="#ffff00"/><stop offset="0.578" stop-color="#ff9200"/><stop offset="0.686" stop-color="#ff0000"/><stop offset="0.779" stop-color="#810000"/><stop offset="0.880" stop-color="#220000"/><stop offset="0.981" stop-color="#070000"/><stop offset="1.000" stop-color="#050000"/></linearGradient><linearGradient id="g16" x2="0" y2="1"><stop offset="0.000" stop-color="#fff500"/><stop offset="0.008" stop-color="#ffff00"/><stop offset="0.027" stop-color="#ffff21"/><stop offset="0.138" stop-color="#ffffd4"/><stop offset="0.248" stop-color="#ffffff"/><stop offset="0.278" stop-color="#ffffff"/><stop offset="0.378" stop-color="#ffffd4"/><stop offset="0.479" stop-color="#ffff21"/><stop offset="0.496" stop-color="#ffff00"/><stop offset="0.580" stop-color="#ff9200"/><stop offset="0.688" stop-color="#ff0000"/><stop offset="0.781" stop-color="#810000"/><stop offset="0.882" stop-color="#220000"/><stop offset="0.983" stop-color="#070000"/><stop offset="1.000" stop-color="#060000"/></linearGradient><linearGradient id="g17" x2="0" y2="1"><stop offset="0.000" stop-color="#fff400"/><stop offset="0.009" stop-color="#ffff00"/><stop offset="0.028" stop-color="#ffff21"/><stop offset="0.139" stop-color="#ffffd4"/><stop offset="0.250" stop-color="#ffffff"/><stop offset="0.280" stop-color="#ffffff"/><stop offset="0.380" stop-color="#ffffd4"/><stop offset="0.481" stop-color="#ffff21"/><stop offset="0.498" stop-color="#ffff00"/><stop offset="0.582" stop-color="#ff9200"/><stop offset="0.690" stop-color="#ff0000"/><stop offset="0.784" stop-color="#810000"/><stop offset="0.884" stop-color="#220000"/><stop offset="0.985" stop-color="#070000"/><stop offset="1.000" stop-color="#060000"/></linearGradient><linearGradient id="g18" x2="0" y2="1"><stop offset="0.000" stop-color="#fff300"/><stop offset="0.010" stop-color="#ffff00"/><stop offset="0.029" stop-color="#ffff21"/><stop offset="0.140" stop-color="#ffffd4"/><stop offset="0.252" stop-color="#ffffff"/><stop offset="0.281" stop-color="#ffffff"/><stop offset="0.382" stop-color="#ffffd4"/><stop offset="0.483" stop-color="#ffff21"/><stop offset="0.500" stop-color="#ffff00"/><stop offset="0.584" stop-color="#ff9200"/><stop offset="0.692" stop-color="#ff0000"/><stop offset="0.786" stop-color="#810000"/><stop offset="0.887" stop-color="#220000"/><stop offset="0.987" stop-color="#070000"/><stop offset="1.000" stop-color="#060000"/></linearGradient><linearGradient id="g19" x2="0" y2="1"><stop offset="0.000" stop-color="#fff200"/><stop offset="0.011" stop-color="#ffff00"/><stop offset="0.030" stop-color="#ffff21"/><stop offset="0.141" stop-color="#ffffd4"/><stop offset="0.253" stop-color="#ffffff"/><stop offset="0.283" stop-color="#ffffff"/><stop offset="0.384" stop-color="#ffffd4"/><stop offset="0.485" stop-color="#ffff21"/><stop offset="0.502" stop-color="#ffff00"/><stop offset="0.586" stop-color="#ff9200"/><stop offset="0.694" stop-color="#ff0000"/><stop offset="0.788" stop-color="#810000"/><stop offset="0.889" stop-color="#220000"/><stop offset="0.990" stop-color="#070000"/><stop offset="1.000" stop-color="#060000"/></linearGradient><linearGradient id="g20" x2="0" y2="1"><stop offset="0.000" stop-color="#fff100"/><stop offset="0.012" stop-color="#ffff00"/><stop offset="0.031" stop-color="#ffff21"/><stop offset="0.143" stop-color="#ffffd4"/><stop offset="0.255" stop-color="#ffffff"/><stop offset="0.285" stop-color="#ffffff"/><stop offset="0.386" stop-color="#ffffd4"/><stop offset="0.487" stop-color="#ffff21"/><stop offset="0.504" stop-color="#ffff00"/><stop offset="0.588" stop-color="#ff9200"/><stop offset="0.696" stop-color="#ff0000"/><stop offset="0.790" stop-color="#810000"/><stop offset="0.891" stop-color="#220000"/><stop offset="0.992" stop-color="#070000"/><stop offset="1.000" stop-color="#060000"/></linearGradient><linearGradient id="g21" x2="0" y2="1"><stop offset="0.000" stop-color="#fff000"/><stop offset="0.013" stop-color="#ffff00"/><stop offset="0.032" stop-color="#ffff21"/><stop offset="0.144" stop-color="#ffffd4"/><stop offset="0.256" stop-color="#ffffff"/><stop offset="0.287" stop-color="#ffffff"/><stop offset="0.388" stop-color="#ffffd4"/><stop offset="0.489" stop-color="#ffff21"/><stop offset="0.506" stop-color="#ffff00"/><stop offset="0.590" stop-color="#ff9200"/><stop offset="0.698" stop-color="#ff0000"/><stop offset="0.792" stop-color="#810000"/><stop offset="0.893" stop-color="#220000"/><stop offset="1.000" stop-color="#060000"/></linearGradient><linearGradient id="g22" x2="0" y2="1"><stop offset="0.000" stop-color="#ffef00"/><stop offset="0.014" stop-color="#ffff00"/><stop offset="0.033" stop-color="#ffff21"/><stop offset="0.145" stop-color="#ffffd4"/><stop offset="0.258" stop-color="#ffffff"/><stop offset="0.288" stop-color="#ffffff"/><stop offset="0.390" stop-color="#ffffd4"/><stop offset="0.491" stop-color="#ffff21"/><stop offset="0.508" stop-color="#ffff00"/><stop offset="0.592" stop-color="#ff9200"/><stop offset="0.700" stop-color="#ff0000"/><stop offset="0.794" stop-color="#810000"/><stop offset="0.895" stop-color="#220000"/><stop offset="1.000" stop-color="#070000"/></linearGradient><linearGradient id="g23" x2="0" y2="1"><stop offset="0.000" stop-color="#ffee00"/><stop offset="0.015" stop-color="#ffff00"/><stop offset="0.034" stop-color="#ffff21"/><stop offset="0.147" stop-color="#ffffd4"/><stop offset="0.260" stop-color="#ffffff"/><stop offset="0.290" stop-color="#ffffff"/><stop offset="0.391" stop-color="#ffffd4"/><stop offset="0.493" stop-color="#ffff21"/><stop offset="0.509" stop-color="#ffff00"/><stop offset="0.594" stop-color="#ff9200"/><stop offset="0.702" stop-color="#ff0000"/><stop offset="0.796" stop-color="#810000"/><stop offset="0.898" stop-color="#220000"/><stop offset="1.000" stop-color="#070000"/></linearGradient><linearGradient id="g24" x2="0" y2="1"><stop offset="0.000" stop-color="#ffed00"/><stop offset="0.016" stop-color="#ffff00"/><stop offset="0.035" stop-color="#ffff21"/><stop offset="0.148" stop-color="#ffffd4"/><stop offset="0.261" stop-color="#ffffff"/><stop offset="0.292" stop-color="#ffffff"/><stop offset="0.393" stop-color="#ffffd4"/><stop offset="0.494" stop-color="#ffff21"/><stop offset="0.511" stop-color="#ffff00"/><stop offset="0.596" stop-color="#ff9200"/><stop offset="0.704" stop-color="#ff0000"/><stop offset="0.798" stop-color="#810000"/><stop offset="0.900" stop-color="#220000"/><stop offset="1.000" stop-color="#070000"/></linearGradient><linearGradient id="g25" x2="0" y2="1"><stop offset="0.000" stop-color="#ffec00"/><stop offset="0.017" stop-color="#ffff00"/><stop offset="0.036" stop-color="#ffff21"/><stop offset="0.149" stop-color="#ffffd4"/><stop offset="0.263" stop-color="#ffffff"/><stop offset="0.294" stop-color="#ffffff"/><stop offset="0.395" stop-color="#ffffd4"/><stop offset="0.496" stop-color="#ffff21"/><stop offset="0.513" stop-color="#ffff00"/><stop offset="0.598" stop-color="#ff9200"/><stop offset="0.706" stop-color="#ff0000"/><stop offset="0.801" stop-color="#810000"/><stop offset="0.902" stop-color="#220000"/><stop offset="1.000" stop-color="#080000"/></linearGradient><linearGradient id="g26" x2="0" y2="1"><stop offset="0.000" stop-color="#ffeb00"/><stop offset="0.018" stop-color="#ffff00"/><stop offset="0.037" stop-color="#ffff21"/><stop offset="0.151" stop-color="#ffffd4"/><stop offset="0.264" stop-color="#ffffff"/><stop offset="0.295" stop-color="#ffffff"/><stop offset="0.397" stop-color="#ffffd4"/><stop offset="0.498" stop-color="#ffff21"/><stop offset="0.515" stop-color="#ffff00"/><stop offset="0.600" stop-color="#ff9200"/><stop offset="0.708" stop-color="#ff0000"/><stop offset="0.803" stop-color="#810000"/><stop offset="0.904" stop-color="#220000"/><stop offset="1.000" stop-color="#080000"/></linearGradient><linearGradient id="g27" x2="0" y2="1"><stop offset="0.000" stop-color="#ffea00"/><stop offset="0.019" stop-color="#ffff00"/><stop offset="0.038" stop-color="#ffff21"/><stop offset="0.152" stop-color="#ffffd4"/><stop offset="0.266" stop-color="#ffffff"/><stop offset="0.297" stop-color="#ffffff"/><stop offset="0.399" stop-color="#ffffd4"/><stop offset="0.500" stop-color="#ffff21"/><stop offset="0.517" stop-color="#ffff00"/><stop offset="0.602" stop-color="#ff9200"/><stop offset="0.711" stop-color="#ff0000"/><stop offset="0.805" stop-color="#810000"/><stop offset="0.907" stop-color="#220000"/><stop offset="1.000" stop-color="#090000"/></linearGradient><linearGradient id="g28" x2="0" y2="1"><stop offset="0.000" stop-color="#ffe900"/><stop offset="0.019" stop-color="#ffff00"/><stop offset="0.038" stop-color="#ffff21"/><stop offset="0.153" stop-color="#ffffd4"/><stop offset="0.268" stop-color="#ffffff"/><stop offset="0.299" stop-color="#ffffff"/><stop offset="0.400" stop-color="#ffffd4"/><stop offset="0.502" stop-color="#ffff21"/><stop offset="0.519" stop-color="#ffff00"/><stop offset="0.604" stop-color="#ff9200"/><stop offset="0.713" stop-color="#ff0000"/><stop offset="0.807" stop-color="#810000"/><stop offset="0.909" stop-color="#220000"/><stop offset="1.000" stop-color="#0a0000"/></linearGradient><linearGradient id="g29" x2="0" y2="1"><stop offset="0.000" stop-color="#ffe800"/><stop offset="0.020" stop-color="#ffff00"/><stop offset="0.040" stop-color="#ffff21"/><stop offset="0.154" stop-color="#ffffd4"/><stop offset="0.269" stop-color="#ffffff"/><stop offset="0.301" stop-color="#ffffff"/><stop offset="0.402" stop-color="#ffffd4"/><stop offset="0.504" stop-color="#ffff21"/><stop offset="0.521" stop-color="#ffff00"/><stop offset="0.606" stop-color="#ff9200"/><stop offset="0.715" stop-color="#ff0000"/><stop offset="0.809" stop-color="#810000"/><stop offset="0.911" stop-color="#220000"/><stop offset="1.000" stop-color="#0a0000"/></linearGradient><linearGradient id="g30" x2="0" y2="1"><stop offset="0.000" stop-color="#ffe700"/><stop offset="0.021" stop-color="#ffff00"/><stop offset="0.040" stop-color="#ffff21"/><stop offset="0.156" stop-color="#ffffd4"/><stop offset="0.271" stop-color="#ffffff"/><stop offset="0.302" stop-color="#ffffff"/><stop offset="0.404" stop-color="#ffffd4"/><stop offset="0.506" stop-color="#ffff21"/><stop offset="0.523" stop-color="#ffff00"/><stop offset="0.608" stop-color="#ff9200"/><stop offset="0.717" stop-color="#ff0000"/><stop offset="0.812" stop-color="#810000"/><stop offset="0.913" stop-color="#220000"/><stop offset="1.000" stop-color="#0b0000"/></linearGradient><linearGradient id="g31" x2="0" y2="1"><stop offset="0.000" stop-color="#ffe600"/><stop offset="0.022" stop-color="#ffff00"/><stop offset="0.041" stop-color="#ffff21"/><stop offset="0.157" stop-color="#ffffd4"/><stop offset="0.273" stop-color="#ffffff"/><stop offset="0.304" stop-color="#ffffff"/><stop offset="0.406" stop-color="#ffffd4"/><stop offset="0.508" stop-color="#ffff21"/><stop offset="0.525" stop-color="#ffff00"/><stop offset="0.610" stop-color="#ff9200"/><stop offset="0.719" stop-color="#ff0000"/><stop offset="0.814" stop-color="#810000"/><stop offset="0.916" stop-color="#220000"/><stop offset="1.000" stop-color="#0b0000"/></linearGradient><linearGradient id="g32" x2="0" y2="1"><stop offset="0.000" stop-color="#ffe500"/><stop offset="0.023" stop-color="#ffff00"/><stop offset="0.042" stop-color="#ffff21"/><stop offset="0.158" stop-color="#ffffd4"/><stop offset="0.274" stop-color="#ffffff"/><stop offset="0.306" stop-color="#ffffff"/><stop offset="0.408" stop-color="#ffffd4"/><stop offset="0.510" stop-color="#ffff21"/><stop offset="0.527" stop-color="#ffff00"/><stop offset="0.612" stop-color="#ff9200"/><stop offset="0.721" stop-color="#ff0000"/><stop offset="0.816" stop-color="#810000"/><stop offset="0.918" stop-color="#220000"/><stop offset="1.000" stop-color="#0c0000"/></linearGradient><linearGradient id="g33" x2="0" y2="1"><stop offset="0.000" stop-color="#ffe400"/><stop offset="0.024" stop-color="#ffff00"/><stop offset="0.043" stop-color="#ffff21"/><stop offset="0.160" stop-color="#ffffd4"/><stop offset="0.276" stop-color="#ffffff"/><stop offset="0.307" stop-color="#ffffff"/><stop offset="0.410" stop-color="#ffffd4"/><stop offset="0.512" stop-color="#ffff21"/><stop offset="0.529" stop-color="#ffff00"/><stop offset="0.614" stop-color="#ff9200"/><stop offset="0.723" stop-color="#ff0000"/><stop offset="0.818" stop-color="#810000"/><stop offset="0.920" stop-color="#220000"/><stop offset="1.000" stop-color="#0d0000"/></linearGradient><linearGradient id="g34" x2="0" y2="1"><stop offset="0.000" stop-color="#ffe300"/><stop offset="0.025" stop-color="#ffff00"/><stop offset="0.044" stop-color="#ffff21"/><stop offset="0.161" stop-color="#ffffd4"/><stop offset="0.277" stop-color="#ffffff"/><stop offset="0.309" stop-color="#ffffff"/><stop offset="0.411" stop-color="#ffffd4"/><stop offset="0.514" stop-color="#ffff21"/><stop offset="0.531" stop-color="#ffff00"/><stop offset="0.616" stop-color="#ff9200"/><stop offset="0.725" stop-color="#ff0000"/><stop offset="0.820" stop-color="#810000"/><stop offset="0.923" stop-color="#220000"/><stop offset="1.000" stop-color="#0d0000"/></linearGradient><linearGradient id="g35" x2="0" y2="1"><stop offset="0.000" stop-color="#ffe200"/><stop offset="0.026" stop-color="#ffff00"/><stop offset="0.045" stop-color="#ffff21"/><stop offset="0.162" stop-color="#ffffd4"/><stop offset="0.279" stop-color="#ffffff"/><stop offset="0.311" stop-color="#ffffff"/><stop offset="0.413" stop-color="#ffffd4"/><stop offset="0.516" stop-color="#ffff21"/><stop offset="0.533" stop-color="#ffff00"/><stop offset="0.618" stop-color="#ff9200"/><stop offset="0.727" stop-color="#ff0000"/><stop offset="0.823" stop-color="#810000"/><stop offset="0.925" stop-color="#220000"/><stop offset="1.000" stop-color="#0e0000"/></linearGradient><linearGradient id="g36" x2="0" y2="1"><stop offset="0.000" stop-color="#ffe100"/><stop offset="0.027" stop-color="#ffff00"/><stop offset="0.046" stop-color="#ffff21"/><stop offset="0.163" stop-color="#ffffd4"/><stop offset="0.281" stop-color="#ffffff"/><stop offset="0.313" stop-color="#ffffff"/><stop offset="0.415" stop-color="#ffffd4"/><stop offset="0.517" stop-color="#ffff21"/><stop offset="0.534" stop-color="#ffff00"/><stop offset="0.620" stop-color="#ff9200"/><stop offset="0.729" stop-color="#ff0000"/><stop offset="0.825" stop-color="#810000"/><stop offset="0.927" stop-color="#220000"/><stop offset="1.000" stop-color="#0f0000"/></linearGradient><linearGradient id="g37" x2="0" y2="1"><stop offset="0.000" stop-color="#ffe000"/><stop offset="0.028" stop-color="#ffff00"/><stop offset="0.047" stop-color="#ffff21"/><stop offset="0.165" stop-color="#ffffd4"/><stop offset="0.282" stop-color="#ffffff"/><stop offset="0.314" stop-color="#ffffff"/><stop offset="0.417" stop-color="#ffffd4"/><stop offset="0.519" stop-color="#ffff21"/><stop offset="0.536" stop-color="#ffff00"/><stop offset="0.622" stop-color="#ff9200"/><stop offset="0.732" stop-color="#ff0000"/><stop offset="0.827" stop-color="#810000"/><stop offset="0.929" stop-color="#220000"/><stop offset="1.000" stop-color="#0f0000"/></linearGradient><linearGradient id="g38" x2="0" y2="1"><stop offset="0.000" stop-color="#ffdf00"/><stop offset="0.029" stop-color="#ffff00"/><stop offset="0.048" stop-color="#ffff21"/><stop offset="0.166" stop-color="#ffffd4"/><stop offset="0.284" stop-color="#ffffff"/><stop offset="0.316" stop-color="#ffffff"/><stop offset="0.419" stop-color="#ffffd4"/><stop offset="0.521" stop-color="#ffff21"/><stop offset="0.538" stop-color="#ffff00"/><stop offset="0.624" stop-color="#ff9200"/><stop offset="0.734" stop-color="#ff0000"/><stop offset="0.829" stop-color="#810000"/><stop offset="0.932" stop-color="#220000"/><stop offset="1.000" stop-color="#100000"/></linearGradient><linearGradient id="g39" x2="0" y2="1"><stop offset="0.000" stop-color="#ffde00"/><stop offset="0.030" stop-color="#ffff00"/><stop offset="0.049" stop-color="#ffff21"/><stop offset="0.167" stop-color="#ffffd4"/><stop offset="0.285" stop-color="#ffffff"/><stop offset="0.318" stop-color="#ffffff"/><stop offset="0.420" stop-color="#ffffd4"/><stop offset="0.523" stop-color="#ffff21"/><stop offset="0.540" stop-color="#ffff00"/><stop offset="0.626" stop-color="#ff9200"/><stop offset="0.736" stop-color="#ff0000"/><stop offset="0.831" stop-color="#810000"/><stop offset="0.934" stop-color="#220000"/><stop offset="1.000" stop-color="#110000"/></linearGradient><linearGradient id="g40" x2="0" y2="1"><stop offset="0.000" stop-color="#ffdd00"/><stop offset="0.030" stop-color="#ffff00"/><stop offset="0.050" stop-color="#ffff21"/><stop offset="0.169" stop-color="#ffffd4"/><stop offset="0.287" stop-color="#ffffff"/><stop offset="0.319" stop-color="#ffffff"/><stop offset="0.422" stop-color="#ffffd4"/><stop offset="0.525" stop-color="#ffff21"/><stop offset="0.542" stop-color="#ffff00"/><stop offset="0.628" stop-color="#ff9200"/><stop offset="0.738" stop-color="#ff0000"/><stop offset="0.834" stop-color="#810000"/><stop offset="0.936" stop-color="#220000"/><stop offset="1.000" stop-color="#110000"/></linearGradient><linearGradient id="g41" x2="0" y2="1"><stop offset="0.000" stop-color="#ffdc00"/><stop offset="0.031" stop-color="#ffff00"/><stop offset="0.051" stop-color="#ffff21"/><stop offset="0.170" stop-color="#ffffd4"/><stop offset="0.289" stop-color="#ffffff"/><stop offset="0.321" stop-color="#ffffff"/><stop offset="0.424" stop-color="#ffffd4"/><stop offset="0.527" stop-color="#ffff21"/><stop offset="0.544" stop-color="#ffff00"/><stop offset="0.630" stop-color="#ff9200"/><stop offset="0.740" stop-color="#ff0000"/><stop offset="0.836" stop-color="#810000"/><stop offset="0.939" stop-color="#220000"/><stop offset="1.000" stop-color="#120000"/></linearGradient><linearGradient id="g42" x2="0" y2="1"><stop offset="0.000" stop-color="#ffdb00"/><stop offset="0.032" stop-color="#ffff00"/><stop offset="0.052" stop-color="#ffff21"/><stop offset="0.171" stop-color="#ffffd4"/><stop offset="0.290" stop-color="#ffffff"/><stop offset="0.323" stop-color="#ffffff"/><stop offset="0.426" stop-color="#ffffd4"/><stop offset="0.529" stop-color="#ffff21"/><stop offset="0.546" stop-color="#ffff00"/><stop offset="0.632" stop-color="#ff9200"/><stop offset="0.742" stop-color="#ff0000"/><stop offset="0.838" stop-color="#810000"/><stop offset="0.941" stop-color="#220000"/><stop offset="1.000" stop-color="#120000"/></linearGradient><linearGradient id="g43" x2="0" y2="1"><stop offset="0.000" stop-color="#ffdb00"/><stop offset="0.033" stop-color="#ffff00"/><stop offset="0.053" stop-color="#ffff21"/><stop offset="0.172" stop-color="#ffffd4"/><stop offset="0.292" stop-color="#ffffff"/><stop offset="0.325" stop-color="#ffffff"/><stop offset="0.428" stop-color="#ffffd4"/><stop offset="0.531" stop-color="#ffff21"/><stop offset="0.548" stop-color="#ffff00"/><stop offset="0.634" stop-color="#ff9200"/><stop offset="0.744" stop-color="#ff0000"/><stop offset="0.840" stop-color="#810000"/><stop offset="0.943" stop-color="#220000"/><stop offset="1.000" stop-color="#130000"/></linearGradient><linearGradient id="g44" x2="0" y2="1"><stop offset="0.000" stop-color="#ffda00"/><stop offset="0.034" stop-color="#ffff00"/><stop offset="0.054" stop-color="#ffff21"/><stop offset="0.174" stop-color="#ffffd4"/><stop offset="0.293" stop-color="#ffffff"/><stop offset="0.326" stop-color="#ffffff"/><stop offset="0.430" stop-color="#ffffd4"/><stop offset="0.533" stop-color="#ffff21"/><stop offset="0.550" stop-color="#ffff00"/><stop offset="0.636" stop-color="#ff9200"/><stop offset="0.747" stop-color="#ff0000"/><stop offset="0.843" stop-color="#810000"/><stop offset="0.946" stop-color="#220000"/><stop offset="1.000" stop-color="#140000"/></linearGradient><linearGradient id="g45" x2="0" y2="1"><stop offset="0.000" stop-color="#ffd900"/><stop offset="0.035" stop-color="#ffff00"/><stop offset="0.055" stop-color="#ffff21"/><stop offset="0.175" stop-color="#ffffd4"/><stop offset="0.295" stop-color="#ffffff"/><stop offset="0.328" stop-color="#ffffff"/><stop offset="0.431" stop-color="#ffffd4"/><stop offset="0.535" stop-color="#ffff21"/><stop offset="0.552" stop-color="#ffff00"/><stop offset="0.638" stop-color="#ff9200"/><stop offset="0.749" stop-color="#ff0000"/><stop offset="0.845" stop-color="#810000"/><stop offset="0.948" stop-color="#220000"/><stop offset="1.000" stop-color="#140000"/></linearGradient><linearGradient id="g46" x2="0" y2="1"><stop offset="0.000" stop-color="#ffd800"/><stop offset="0.036" stop-color="#ffff00"/><stop offset="0.056" stop-color="#ffff21"/><stop offset="0.176" stop-color="#ffffd4"/><stop offset="0.296" stop-color="#ffffff"/><stop offset="0.330" stop-color="#ffffff"/><stop offset="0.433" stop-color="#ffffd4"/><stop offset="0.537" stop-color="#ffff21"/><stop offset="0.554" stop-color="#ffff00"/><stop offset="0.640" stop-color="#ff9200"/><stop offset="0.751" stop-color="#ff0000"/><stop offset="0.847" stop-color="#810000"/><stop offset="0.951" stop-color="#220000"/><stop offset="1.000" stop-color="#150000"/></linearGradient><linearGradient id="g47" x2="0" y2="1"><stop offset="0.000" stop-color="#ffd700"/><stop offset="0.037" stop-color="#ffff00"/><stop offset="0.057" stop-color="#ffff21"/><stop offset="0.177" stop-color="#ffffd4"/><stop offset="0.298" stop-color="#ffffff"/><stop offset="0.331" stop-color="#ffffff"/><stop offset="0.435" stop-color="#ffffd4"/><stop offset="0.539" stop-color="#ffff21"/><stop offset="0.556" stop-color="#ffff00"/><stop offset="0.642" stop-color="#ff9200"/><stop offset="0.753" stop-color="#ff0000"/><stop offset="0.849" stop-color="#810000"/><stop offset="0.953" stop-color="#220000"/><stop offset="1.000" stop-color="#160000"/></linearGradient><linearGradient id="g48" x2="0" y2="1"><stop offset="0.000" stop-color="#ffd600"/><stop offset="0.038" stop-color="#ffff00"/><stop offset="0.058" stop-color="#ffff21"/><stop offset="0.179" stop-color="#ffffd4"/><stop offset="0.299" stop-color="#ffffff"/><stop offset="0.333" stop-color="#ffffff"/><stop offset="0.437" stop-color="#ffffd4"/><stop offset="0.540" stop-color="#ffff21"/><stop offset="0.558" stop-color="#ffff00"/><stop offset="0.644" stop-color="#ff9200"/><stop offset="0.755" stop-color="#ff0000"/><stop offset="0.852" stop-color="#810000"/><stop offset="0.955" stop-color="#220000"/><stop offset="1.000" stop-color="#160000"/></linearGradient><linearGradient id="g49" x2="0" y2="1"><stop offset="0.000" stop-color="#ffd500"/><stop offset="0.039" stop-color="#ffff00"/><stop offset="0.059" stop-color="#ffff21"/><stop offset="0.180" stop-color="#ffffd4"/><stop offset="0.301" stop-color="#ffffff"/><stop offset="0.335" stop-color="#ffffff"/><stop offset="0.439" stop-color="#ffffd4"/><stop offset="0.542" stop-color="#ffff21"/><stop offset="0.560" stop-color="#ffff00"/><stop offset="0.646" stop-color="#ff9200"/><stop offset="0.757" stop-color="#ff0000"/><stop offset="0.854" stop-color="#810000"/><stop offset="0.958" stop-color="#220000"/><stop offset="1.000" stop-color="#170000"/></linearGradient><linearGradient id="g50" x2="0" y2="1"><stop offset="0.000" stop-color="#ffd400"/><stop offset="0.040" stop-color="#ffff00"/><stop offset="0.060" stop-color="#ffff21"/><stop offset="0.181" stop-color="#ffffd4"/><stop offset="0.303" stop-color="#ffffff"/><stop offset="0.336" stop-color="#ffffff"/><stop offset="0.440" stop-color="#ffffd4"/><stop offset="0.544" stop-color="#ffff21"/><stop offset="0.562" stop-color="#ffff00"/><stop offset="0.648" stop-color="#ff9200"/><stop offset="0.760" stop-color="#ff0000"/><stop offset="0.856" stop-color="#810000"/><stop offset="0.960" stop-color="#220000"/><stop offset="1.000" stop-color="#180000"/></linearGradient><linearGradient id="g51" x2="0" y2="1"><stop offset="0.000" stop-color="#ffd300"/><stop offset="0.041" stop-color="#ffff00"/><stop offset="0.061" stop-color="#ffff21"/><stop offset="0.183" stop-color="#ffffd4"/><stop offset="0.304" stop-color="#ffffff"/><stop offset="0.338" stop-color="#ffffff"/><stop offset="0.442" stop-color="#ffffd4"/><stop offset="0.546" stop-color="#ffff21"/><stop offset="0.564" stop-color="#ffff00"/><stop offset="0.650" stop-color="#ff9200"/><stop offset="0.762" stop-color="#ff0000"/><stop offset="0.858" stop-color="#810000"/><stop offset="0.963" stop-color="#220000"/><stop offset="1.000" stop-color="#180000"/></linearGradient><linearGradient id="g52" x2="0" y2="1"><stop offset="0.000" stop-color="#ffd200"/><stop offset="0.042" stop-color="#ffff00"/><stop offset="0.062" stop-color="#ffff21"/><stop offset="0.184" stop-color="#ffffd4"/><stop offset="0.306" stop-color="#ffffff"/><stop offset="0.340" stop-color="#ffffff"/><stop offset="0.444" stop-color="#ffffd4"/><stop offset="0.548" stop-color="#ffff21"/><stop offset="0.566" stop-color="#ffff00"/><stop offset="0.652" stop-color="#ff9200"/><stop offset="0.764" stop-color="#ff0000"/><stop offset="0.861" stop-color="#810000"/><stop offset="0.965" stop-color="#220000"/><stop offset="1.000" stop-color="#190000"/></linearGradient><linearGradient id="g53" x2="0" y2="1"><stop offset="0.000" stop-color="#ffd100"/><stop offset="0.043" stop-color="#ffff00"/><stop offset="0.063" stop-color="#ffff21"/><stop offset="0.185" stop-color="#ffffd4"/><stop offset="0.307" stop-color="#ffffff"/><stop offset="0.341" stop-color="#ffffff"/><stop offset="0.446" stop-color="#ffffd4"/><stop offset="0.550" stop-color="#ffff21"/><stop offset="0.567" stop-color="#ffff00"/><stop offset="0.654" stop-color="#ff9200"/><stop offset="0.766" stop-color="#ff0000"/><stop offset="0.863" stop-color="#810000"/><stop offset="0.967" stop-color="#220000"/><stop offset="1.000" stop-color="#190000"/></linearGradient><linearGradient id="g54" x2="0" y2="1"><stop offset="0.000" stop-color="#ffd000"/><stop offset="0.044" stop-color="#ffff00"/><stop offset="0.064" stop-color="#ffff21"/><stop offset="0.186" stop-color="#ffffd4"/><stop offset="0.309" stop-color="#ffffff"/><stop offset="0.343" stop-color="#ffffff"/><stop offset="0.448" stop-color="#ffffd4"/><stop offset="0.552" stop-color="#ffff21"/><stop offset="0.569" stop-color="#ffff00"/><stop offset="0.656" stop-color="#ff9200"/><stop offset="0.768" stop-color="#ff0000"/><stop offset="0.865" stop-color="#810000"/><stop offset="0.970" stop-color="#220000"/><stop offset="1.000" stop-color="#1a0000"/></linearGradient><linearGradient id="g55" x2="0" y2="1"><stop offset="0.000" stop-color="#ffd000"/><stop offset="0.045" stop-color="#ffff00"/><stop offset="0.065" stop-color="#ffff21"/><stop offset="0.188" stop-color="#ffffd4"/><stop offset="0.310" stop-color="#ffffff"/><stop offset="0.345" stop-color="#ffffff"/><stop offset="0.449" stop-color="#ffffd4"/><stop offset="0.554" stop-color="#ffff21"/><stop offset="0.571" stop-color="#ffff00"/><stop offset="0.659" stop-color="#ff9200"/><stop offset="0.770" stop-color="#ff0000"/><stop offset="0.868" stop-color="#810000"/><stop offset="0.972" stop-color="#220000"/><stop offset="1.000" stop-color="#1b0000"/></linearGradient><linearGradient id="g56" x2="0" y2="1"><stop offset="0.000" stop-color="#ffcf00"/><stop offset="0.046" stop-color="#ffff00"/><stop offset="0.066" stop-color="#ffff21"/><stop offset="0.189" stop-color="#ffffd4"/><stop offset="0.312" stop-color="#ffffff"/><stop offset="0.347" stop-color="#ffffff"/><stop offset="0.451" stop-color="#ffffd4"/><stop offset="0.556" stop-color="#ffff21"/><stop offset="0.573" stop-color="#ffff00"/><stop offset="0.661" stop-color="#ff9200"/><stop offset="0.773" stop-color="#ff0000"/><stop offset="0.870" stop-color="#810000"/><stop offset="0.975" stop-color="#220000"/><stop offset="1.000" stop-color="#1b0000"/></linearGradient><linearGradient id="g57" x2="0" y2="1"><stop offset="0.000" stop-color="#ffce00"/><stop offset="0.047" stop-color="#ffff00"/><stop offset="0.067" stop-color="#ffff21"/><stop offset="0.190" stop-color="#ffffd4"/><stop offset="0.314" stop-color="#ffffff"/><stop offset="0.348" stop-color="#ffffff"/><stop offset="0.453" stop-color="#ffffd4"/><stop offset="0.558" stop-color="#ffff21"/><stop offset="0.575" stop-color="#ffff00"/><stop offset="0.663" stop-color="#ff9200"/><stop offset="0.775" stop-color="#ff0000"/><stop offset="0.872" stop-color="#810000"/><stop offset="0.977" stop-color="#220000"/><stop offset="1.000" stop-color="#1c0000"/></linearGradient><linearGradient id="g58" x2="0" y2="1"><stop offset="0.000" stop-color="#ffcd00"/><stop offset="0.047" stop-color="#ffff00"/><stop offset="0.068" stop-color="#ffff21"/><stop offset="0.192" stop-color="#ffffd4"/><stop offset="0.315" stop-color="#ffffff"/><stop offset="0.350" stop-color="#ffffff"/><stop offset="0.455" stop-color="#ffffd4"/><stop offset="0.560" stop-color="#ffff21"/><stop offset="0.577" stop-color="#ffff00"/><stop offset="0.665" stop-color="#ff9200"/><stop offset="0.777" stop-color="#ff0000"/><stop offset="0.875" stop-color="#810000"/><stop offset="0.980" stop-color="#220000"/><stop offset="1.000" stop-color="#1d0000"/></linearGradient><linearGradient id="g59" x2="0" y2="1"><stop offset="0.000" stop-color="#ffcc00"/><stop offset="0.048" stop-color="#ffff00"/><stop offset="0.069" stop-color="#ffff21"/><stop offset="0.193" stop-color="#ffffd4"/><stop offset="0.317" stop-color="#ffffff"/><stop offset="0.352" stop-color="#ffffff"/><stop offset="0.457" stop-color="#ffffd4"/><stop offset="0.562" stop-color="#ffff21"/><stop offset="0.579" stop-color="#ffff00"/><stop offset="0.667" stop-color="#ff9200"/><stop offset="0.779" stop-color="#ff0000"/><stop offset="0.877" stop-color="#810000"/><stop offset="0.982" stop-color="#220000"/><stop offset="1.000" stop-color="#1d0000"/></linearGradient><linearGradient id="g60" x2="0" y2="1"><stop offset="0.000" stop-color="#ffcb00"/><stop offset="0.049" stop-color="#ffff00"/><stop offset="0.070" stop-color="#ffff21"/><stop offset="0.194" stop-color="#ffffd4"/><stop offset="0.318" stop-color="#ffffff"/><stop offset="0.353" stop-color="#ffffff"/><stop offset="0.458" stop-color="#ffffd4"/><stop offset="0.564" stop-color="#ffff21"/><stop offset="0.581" stop-color="#ffff00"/><stop offset="0.669" stop-color="#ff9200"/><stop offset="0.781" stop-color="#ff0000"/><stop offset="0.879" stop-color="#810000"/><stop offset="0.984" stop-color="#220000"/><stop offset="1.000" stop-color="#1e0000"/></linearGradient><linearGradient id="g61" x2="0" y2="1"><stop offset="0.000" stop-color="#ffca00"/><stop offset="0.050" stop-color="#ffff00"/><stop offset="0.071" stop-color="#ffff21"/><stop offset="0.195" stop-color="#ffffd4"/><stop offset="0.320" stop-color="#ffffff"/><stop offset="0.355" stop-color="#ffffff"/><stop offset="0.460" stop-color="#ffffd4"/><stop offset="0.566" stop-color="#ffff21"/><stop offset="0.583" stop-color="#ffff00"/><stop offset="0.671" stop-color="#ff9200"/><stop offset="0.784" stop-color="#ff0000"/><stop offset="0.882" stop-color="#810000"/><stop offset="0.987" stop-color="#220000"/><stop offset="1.000" stop-color="#1f0000"/></linearGradient><linearGradient id="g62" x2="0" y2="1"><stop offset="0.000" stop-color="#ffc900"/><stop offset="0.051" stop-color="#ffff00"/><stop offset="0.072" stop-color="#ffff21"/><stop offset="0.197" stop-color="#ffffd4"/><stop offset="0.321" stop-color="#ffffff"/><stop offset="0.357" stop-color="#ffffff"/><stop offset="0.462" stop-color="#ffffd4"/><stop offset="0.568" stop-color="#ffff21"/><stop offset="0.585" stop-color="#ffff00"/><stop offset="0.673" stop-color="#ff9200"/><stop offset="0.786" stop-color="#ff0000"/><stop offset="0.884" stop-color="#810000"/><stop offset="0.990" stop-color="#220000"/><stop offset="1.000" stop-color="#1f0000"/></linearGradient><linearGradient id="g63" x2="0" y2="1"><stop offset="0.000" stop-color="#ffc800"/><stop offset="0.052" stop-color="#ffff00"/><stop offset="0.073" stop-color="#ffff21"/><stop offset="0.198" stop-color="#ffffd4"/><stop offset="0.323" stop-color="#ffffff"/><stop offset="0.358" stop-color="#ffffff"/><stop offset="0.464" stop-color="#ffffd4"/><stop offset="0.569" stop-color="#ffff21"/><stop offset="0.587" stop-color="#ffff00"/><stop offset="0.675" stop-color="#ff9200"/><stop offset="0.788" stop-color="#ff0000"/><stop offset="0.886" stop-color="#810000"/><stop offset="0.992" stop-color="#220000"/><stop offset="1.000" stop-color="#200000"/></linearGradient><linearGradient id="g64" x2="0" y2="1"><stop offset="0.000" stop-color="#ffc700"/><stop offset="0.053" stop-color="#ffff00"/><stop offset="0.074" stop-color="#ffff21"/><stop offset="0.199" stop-color="#ffffd4"/><stop offset="0.324" stop-color="#ffffff"/><stop offset="0.360" stop-color="#ffffff"/><stop offset="0.466" stop-color="#ffffd4"/><stop offset="0.571" stop-color="#ffff21"/><stop offset="0.589" stop-color="#ffff00"/><stop offset="0.677" stop-color="#ff9200"/><stop offset="0.790" stop-color="#ff0000"/><stop offset="0.889" stop-color="#810000"/><stop offset="0.995" stop-color="#220000"/><stop offset="1.000" stop-color="#210000"/></linearGradient><linearGradient id="g65" x2="0" y2="1"><stop offset="0.000" stop-color="#ffc700"/><stop offset="0.054" stop-color="#ffff00"/><stop offset="0.075" stop-color="#ffff21"/><stop offset="0.201" stop-color="#ffffd4"/><stop offset="0.326" stop-color="#ffffff"/><stop offset="0.362" stop-color="#ffffff"/><stop offset="0.468" stop-color="#ffffd4"/><stop offset="0.573" stop-color="#ffff21"/><stop offset="0.591" stop-color="#ffff00"/><stop offset="0.679" stop-color="#ff9200"/><stop offset="0.793" stop-color="#ff0000"/><stop offset="0.891" stop-color="#810000"/><stop offset="0.997" stop-color="#220000"/><stop offset="1.000" stop-color="#210000"/></linearGradient><linearGradient id="g66" x2="0" y2="1"><stop offset="0.000" stop-color="#ffc600"/><stop offset="0.055" stop-color="#ffff00"/><stop offset="0.076" stop-color="#ffff21"/><stop offset="0.202" stop-color="#ffffd4"/><stop offset="0.327" stop-color="#ffffff"/><stop offset="0.363" stop-color="#ffffff"/><stop offset="0.469" stop-color="#ffffd4"/><stop offset="0.575" stop-color="#ffff21"/><stop offset="0.593" stop-color="#ffff00"/><stop offset="0.681" stop-color="#ff9200"/><stop offset="0.795" stop-color="#ff0000"/><stop offset="0.893" stop-color="#810000"/><stop offset="1.000" stop-color="#220000"/></linearGradient><linearGradient id="g67" x2="0" y2="1"><stop offset="0.000" stop-color="#ffc500"/><stop offset="0.056" stop-color="#ffff00"/><stop offset="0.077" stop-color="#ffff21"/><stop offset="0.203" stop-color="#ffffd4"/><stop offset="0.329" stop-color="#ffffff"/><stop offset="0.365" stop-color="#ffffff"/><stop offset="0.471" stop-color="#ffffd4"/><stop offset="0.577" stop-color="#ffff21"/><stop offset="0.595" stop-color="#ffff00"/><stop offset="0.683" stop-color="#ff9200"/><stop offset="0.797" stop-color="#ff0000"/><stop offset="0.896" stop-color="#810000"/><stop offset="1.000" stop-color="#240000"/></linearGradient><linearGradient id="g68" x2="0" y2="1"><stop offset="0.000" stop-color="#ffc400"/><stop offset="0.057" stop-color="#ffff00"/><stop offset="0.078" stop-color="#ffff21"/><stop offset="0.204" stop-color="#ffffd4"/><stop offset="0.331" stop-color="#ffffff"/><stop offset="0.367" stop-color="#ffffff"/><stop offset="0.473" stop-color="#ffffd4"/><stop offset="0.579" stop-color="#ffff21"/><stop offset="0.597" stop-color="#ffff00"/><stop offset="0.686" stop-color="#ff9200"/><stop offset="0.799" stop-color="#ff0000"/><stop offset="0.898" stop-color="#810000"/><stop offset="1.000" stop-color="#260000"/></linearGradient><linearGradient id="g69" x2="0" y2="1"><stop offset="0.000" stop-color="#ffc300"/><stop offset="0.058" stop-color="#ffff00"/><stop offset="0.079" stop-color="#ffff21"/><stop offset="0.206" stop-color="#ffffd4"/><stop offset="0.332" stop-color="#ffffff"/><stop offset="0.368" stop-color="#ffffff"/><stop offset="0.475" stop-color="#ffffd4"/><stop offset="0.581" stop-color="#ffff21"/><stop offset="0.599" stop-color="#ffff00"/><stop offset="0.688" stop-color="#ff9200"/><stop offset="0.802" stop-color="#ff0000"/><stop offset="0.901" stop-color="#810000"/><stop offset="1.000" stop-color="#280000"/></linearGradient><linearGradient id="g70" x2="0" y2="1"><stop offset="0.000" stop-color="#ffc200"/><stop offset="0.059" stop-color="#ffff00"/><stop offset="0.080" stop-color="#ffff21"/><stop offset="0.207" stop-color="#ffffd4"/><stop offset="0.334" stop-color="#ffffff"/><stop offset="0.370" stop-color="#ffffff"/><stop offset="0.477" stop-color="#ffffd4"/><stop offset="0.583" stop-color="#ffff21"/><stop offset="0.601" stop-color="#ffff00"/><stop offset="0.690" stop-color="#ff9200"/><stop offset="0.804" stop-color="#ff0000"/><stop offset="0.903" stop-color="#810000"/><stop offset="1.000" stop-color="#2b0000"/></linearGradient><linearGradient id="g71" x2="0" y2="1"><stop offset="0.000" stop-color="#ffc100"/><stop offset="0.060" stop-color="#ffff00"/><stop offset="0.081" stop-color="#ffff21"/><stop offset="0.208" stop-color="#ffffd4"/><stop offset="0.335" stop-color="#ffffff"/><stop offset="0.372" stop-color="#ffffff"/><stop offset="0.478" stop-color="#ffffd4"/><stop offset="0.585" stop-color="#ffff21"/><stop offset="0.603" stop-color="#ffff00"/><stop offset="0.692" stop-color="#ff9200"/><stop offset="0.806" stop-color="#ff0000"/><stop offset="0.905" stop-color="#810000"/><stop offset="1.000" stop-color="#2d0000"/></linearGradient><linearGradient id="g72" x2="0" y2="1"><stop offset="0.000" stop-color="#ffc000"/><stop offset="0.061" stop-color="#ffff00"/><stop offset="0.082" stop-color="#ffff21"/><stop offset="0.209" stop-color="#ffffd4"/><stop offset="0.337" stop-color="#ffffff"/><stop offset="0.373" stop-color="#ffffff"/><stop offset="0.480" stop-color="#ffffd4"/><stop offset="0.587" stop-color="#ffff21"/><stop offset="0.605" stop-color="#ffff00"/><stop offset="0.694" stop-color="#ff9200"/><stop offset="0.808" stop-color="#ff0000"/><stop offset="0.908" stop-color="#810000"/><stop offset="1.000" stop-color="#2f0000"/></linearGradient><linearGradient id="g73" x2="0" y2="1"><stop offset="0.000" stop-color="#ffbf00"/><stop offset="0.062" stop-color="#ffff00"/><stop offset="0.083" stop-color="#ffff21"/><stop offset="0.211" stop-color="#ffffd4"/><stop offset="0.338" stop-color="#ffffff"/><stop offset="0.375" stop-color="#ffffff"/><stop offset="0.482" stop-color="#ffffd4"/><stop offset="0.589" stop-color="#ffff21"/><stop offset="0.607" stop-color="#ffff00"/><stop offset="0.696" stop-color="#ff9200"/><stop offset="0.811" stop-color="#ff0000"/><stop offset="0.910" stop-color="#810000"/><stop offset="1.000" stop-color="#310000"/></linearGradient><linearGradient id="g74" x2="0" y2="1"><stop offset="0.000" stop-color="#ffbf00"/><stop offset="0.063" stop-color="#ffff00"/><stop offset="0.084" stop-color="#ffff21"/><stop offset="0.212" stop-color="#ffffd4"/><stop offset="0.340" stop-color="#ffffff"/><stop offset="0.377" stop-color="#ffffff"/><stop offset="0.484" stop-color="#ffffd4"/><stop offset="0.591" stop-color="#ffff21"/><stop offset="0.609" stop-color="#ffff00"/><stop offset="0.698" stop-color="#ff9200"/><stop offset="0.813" stop-color="#ff0000"/><stop offset="0.913" stop-color="#810000"/><stop offset="1.000" stop-color="#340000"/></linearGradient><linearGradient id="g75" x2="0" y2="1"><stop offset="0.000" stop-color="#ffbe00"/><stop offset="0.064" stop-color="#ffff00"/><stop offset="0.085" stop-color="#ffff21"/><stop offset="0.213" stop-color="#ffffd4"/><stop offset="0.341" stop-color="#ffffff"/><stop offset="0.378" stop-color="#ffffff"/><stop offset="0.486" stop-color="#ffffd4"/><stop offset="0.593" stop-color="#ffff21"/><stop offset="0.611" stop-color="#ffff00"/><stop offset="0.700" stop-color="#ff9200"/><stop offset="0.815" stop-color="#ff0000"/><stop offset="0.915" stop-color="#810000"/><stop offset="1.000" stop-color="#360000"/></linearGradient><linearGradient id="g76" x2="0" y2="1"><stop offset="0.000" stop-color="#ffbd00"/><stop offset="0.065" stop-color="#ffff00"/><stop offset="0.086" stop-color="#ffff21"/><stop offset="0.215" stop-color="#ffffd4"/><stop offset="0.343" stop-color="#ffffff"/><stop offset="0.380" stop-color="#ffffff"/><stop offset="0.487" stop-color="#ffffd4"/><stop offset="0.595" stop-color="#ffff21"/><stop offset="0.613" stop-color="#ffff00"/><stop offset="0.703" stop-color="#ff9200"/><stop offset="0.818" stop-color="#ff0000"/><stop offset="0.918" stop-color="#810000"/><stop offset="1.000" stop-color="#380000"/></linearGradient><linearGradient id="g77" x2="0" y2="1"><stop offset="0.000" stop-color="#ffbc00"/><stop offset="0.066" stop-color="#ffff00"/><stop offset="0.087" stop-color="#ffff21"/><stop offset="0.216" stop-color="#ffffd4"/><stop offset="0.344" stop-color="#ffffff"/><stop offset="0.382" stop-color="#ffffff"/><stop offset="0.489" stop-color="#ffffd4"/><stop offset="0.597" stop-color="#ffff21"/><stop offset="0.615" stop-color="#ffff00"/><stop offset="0.705" stop-color="#ff9200"/><stop offset="0.820" stop-color="#ff0000"/><stop offset="0.920" stop-color="#810000"/><stop offset="1.000" stop-color="#3b0000"/></linearGradient><linearGradient id="g78" x2="0" y2="1"><stop offset="0.000" stop-color="#ffbb00"/><stop offset="0.067" stop-color="#ffff00"/><stop offset="0.089" stop-color="#ffff21"/><stop offset="0.217" stop-color="#ffffd4"/><stop offset="0.346" stop-color="#ffffff"/><stop offset="0.383" stop-color="#ffffff"/><stop offset="0.491" stop-color="#ffffd4"/><stop offset="0.599" stop-color="#ffff21"/><stop offset="0.617" stop-color="#ffff00"/><stop offset="0.707" stop-color="#ff9200"/><stop offset="0.822" stop-color="#ff0000"/><stop offset="0.922" stop-color="#810000"/><stop offset="1.000" stop-color="#3d0000"/></linearGradient><linearGradient id="g79" x2="0" y2="1"><stop offset="0.000" stop-color="#ffba00"/><stop offset="0.068" stop-color="#ffff00"/><stop offset="0.090" stop-color="#ffff21"/><stop offset="0.218" stop-color="#ffffd4"/><stop offset="0.347" stop-color="#ffffff"/><stop offset="0.385" stop-color="#ffffff"/><stop offset="0.493" stop-color="#ffffd4"/><stop offset="0.601" stop-color="#ffff21"/><stop offset="0.619" stop-color="#ffff00"/><stop offset="0.709" stop-color="#ff9200"/><stop offset="0.824" stop-color="#ff0000"/><stop offset="0.925" stop-color="#810000"/><stop offset="1.000" stop-color="#3f0000"/></linearGradient><linearGradient id="g80" x2="0" y2="1"><stop offset="0.000" stop-color="#ffb900"/><stop offset="0.069" stop-color="#ffff00"/><stop offset="0.091" stop-color="#ffff21"/><stop offset="0.220" stop-color="#ffffd4"/><stop offset="0.349" stop-color="#ffffff"/><stop offset="0.387" stop-color="#ffffff"/><stop offset="0.495" stop-color="#ffffd4"/><stop offset="0.603" stop-color="#ffff21"/><stop offset="0.621" stop-color="#ffff00"/><stop offset="0.711" stop-color="#ff9200"/><stop offset="0.827" stop-color="#ff0000"/><stop offset="0.927" stop-color="#810000"/><stop offset="1.000" stop-color="#410000"/></linearGradient><linearGradient id="g81" x2="0" y2="1"><stop offset="0.000" stop-color="#ffb800"/><stop offset="0.070" stop-color="#ffff00"/><stop offset="0.092" stop-color="#ffff21"/><stop offset="0.221" stop-color="#ffffd4"/><stop offset="0.351" stop-color="#ffffff"/><stop offset="0.388" stop-color="#ffffff"/><stop offset="0.497" stop-color="#ffffd4"/><stop offset="0.605" stop-color="#ffff21"/><stop offset="0.623" stop-color="#ffff00"/><stop offset="0.713" stop-color="#ff9200"/><stop offset="0.829" stop-color="#ff0000"/><stop offset="0.930" stop-color="#810000"/><stop offset="1.000" stop-color="#440000"/></linearGradient><linearGradient id="g82" x2="0" y2="1"><stop offset="0.000" stop-color="#ffb700"/><stop offset="0.071" stop-color="#ffff00"/><stop offset="0.093" stop-color="#ffff21"/><stop offset="0.223" stop-color="#ffffd4"/><stop offset="0.352" stop-color="#ffffff"/><stop offset="0.390" stop-color="#ffffff"/><stop offset="0.498" stop-color="#ffffd4"/><stop offset="0.607" stop-color="#ffff21"/><stop offset="0.625" stop-color="#ffff00"/><stop offset="0.715" stop-color="#ff9200"/><stop offset="0.831" stop-color="#ff0000"/><stop offset="0.932" stop-color="#810000"/><stop offset="1.000" stop-color="#460000"/></linearGradient><linearGradient id="g83" x2="0" y2="1"><stop offset="0.000" stop-color="#ffb600"/><stop offset="0.073" stop-color="#ffff00"/><stop offset="0.095" stop-color="#ffff21"/><stop offset="0.224" stop-color="#ffffd4"/><stop offset="0.354" stop-color="#ffffff"/><stop offset="0.391" stop-color="#ffffff"/><stop offset="0.499" stop-color="#ffffd4"/><stop offset="0.608" stop-color="#ffff21"/><stop offset="0.626" stop-color="#ffff00"/><stop offset="0.717" stop-color="#ff9200"/><stop offset="0.833" stop-color="#ff0000"/><stop offset="0.934" stop-color="#810000"/><stop offset="1.000" stop-color="#480000"/></linearGradient><linearGradient id="g84" x2="0" y2="1"><stop offset="0.000" stop-color="#ffb400"/><stop offset="0.075" stop-color="#ffff00"/><stop offset="0.096" stop-color="#ffff21"/><stop offset="0.226" stop-color="#ffffd4"/><stop offset="0.357" stop-color="#ffffff"/><stop offset="0.392" stop-color="#ffffff"/><stop offset="0.501" stop-color="#ffffd4"/><stop offset="0.610" stop-color="#ffff21"/><stop offset="0.628" stop-color="#ffff00"/><stop offset="0.718" stop-color="#ff9200"/><stop offset="0.835" stop-color="#ff0000"/><stop offset="0.936" stop-color="#810000"/><stop offset="1.000" stop-color="#490000"/></linearGradient><linearGradient id="g85" x2="0" y2="1"><stop offset="0.000" stop-color="#ffb300"/><stop offset="0.076" stop-color="#ffff00"/><stop offset="0.098" stop-color="#ffff21"/><stop offset="0.228" stop-color="#ffffd4"/><stop offset="0.359" stop-color="#ffffff"/><stop offset="0.393" stop-color="#ffffff"/><stop offset="0.502" stop-color="#ffffd4"/><stop offset="0.611" stop-color="#ffff21"/><stop offset="0.629" stop-color="#ffff00"/><stop offset="0.720" stop-color="#ff9200"/><stop offset="0.837" stop-color="#ff0000"/><stop offset="0.938" stop-color="#810000"/><stop offset="1.000" stop-color="#4b0000"/></linearGradient><linearGradient id="g86" x2="0" y2="1"><stop offset="0.000" stop-color="#ffb100"/><stop offset="0.078" stop-color="#ffff00"/><stop offset="0.100" stop-color="#ffff21"/><stop offset="0.230" stop-color="#ffffd4"/><stop offset="0.361" stop-color="#ffffff"/><stop offset="0.394" stop-color="#ffffff"/><stop offset="0.504" stop-color="#ffffd4"/><stop offset="0.613" stop-color="#ffff21"/><stop offset="0.631" stop-color="#ffff00"/><stop offset="0.722" stop-color="#ff9200"/><stop offset="0.839" stop-color="#ff0000"/><stop offset="0.940" stop-color="#810000"/><stop offset="1.000" stop-color="#4d0000"/></linearGradient><linearGradient id="g87" x2="0" y2="1"><stop offset="0.000" stop-color="#ffb000"/><stop offset="0.079" stop-color="#ffff00"/><stop offset="0.101" stop-color="#ffff21"/><stop offset="0.232" stop-color="#ffffd4"/><stop offset="0.363" stop-color="#ffffff"/><stop offset="0.396" stop-color="#ffffff"/><stop offset="0.505" stop-color="#ffffd4"/><stop offset="0.614" stop-color="#ffff21"/><stop offset="0.632" stop-color="#ffff00"/><stop offset="0.724" stop-color="#ff9200"/><stop offset="0.841" stop-color="#ff0000"/><stop offset="0.942" stop-color="#810000"/><stop offset="1.000" stop-color="#4f0000"/></linearGradient><linearGradient id="g88" x2="0" y2="1"><stop offset="0.000" stop-color="#ffae00"/><stop offset="0.081" stop-color="#ffff00"/><stop offset="0.103" stop-color="#ffff21"/><stop offset="0.234" stop-color="#ffffd4"/><stop offset="0.365" stop-color="#ffffff"/><stop offset="0.397" stop-color="#ffffff"/><stop offset="0.506" stop-color="#ffffd4"/><stop offset="0.616" stop-color="#ffff21"/><stop offset="0.634" stop-color="#ffff00"/><stop offset="0.725" stop-color="#ff9200"/><stop offset="0.843" stop-color="#ff0000"/><stop offset="0.944" stop-color="#810000"/><stop offset="1.000" stop-color="#510000"/></linearGradient><linearGradient id="g89" x2="0" y2="1"><stop offset="0.000" stop-color="#ffad00"/><stop offset="0.083" stop-color="#ffff00"/><stop offset="0.104" stop-color="#ffff21"/><stop offset="0.236" stop-color="#ffffd4"/><stop offset="0.367" stop-color="#ffffff"/><stop offset="0.398" stop-color="#ffffff"/><stop offset="0.508" stop-color="#ffffd4"/><stop offset="0.617" stop-color="#ffff21"/><stop offset="0.636" stop-color="#ffff00"/><stop offset="0.727" stop-color="#ff9200"/><stop offset="0.844" stop-color="#ff0000"/><stop offset="0.946" stop-color="#810000"/><stop offset="1.000" stop-color="#530000"/></linearGradient><linearGradient id="g90" x2="0" y2="1"><stop offset="0.000" stop-color="#ffab00"/><stop offset="0.084" stop-color="#ffff00"/><stop offset="0.106" stop-color="#ffff21"/><stop offset="0.238" stop-color="#ffffd4"/><stop offset="0.369" stop-color="#ffffff"/><stop offset="0.399" stop-color="#ffffff"/><stop offset="0.509" stop-color="#ffffd4"/><stop offset="0.619" stop-color="#ffff21"/><stop offset="0.637" stop-color="#ffff00"/><stop offset="0.729" stop-color="#ff9200"/><stop offset="0.846" stop-color="#ff0000"/><stop offset="0.948" stop-color="#810000"/><stop offset="1.000" stop-color="#550000"/></linearGradient><linearGradient id="g91" x2="0" y2="1"><stop offset="0.000" stop-color="#ffaa00"/><stop offset="0.086" stop-color="#ffff00"/><stop offset="0.108" stop-color="#ffff21"/><stop offset="0.240" stop-color="#ffffd4"/><stop offset="0.371" stop-color="#ffffff"/><stop offset="0.400" stop-color="#ffffff"/><stop offset="0.510" stop-color="#ffffd4"/><stop offset="0.620" stop-color="#ffff21"/><stop offset="0.639" stop-color="#ffff00"/><stop offset="0.730" stop-color="#ff9200"/><stop offset="0.848" stop-color="#ff0000"/><stop offset="0.951" stop-color="#810000"/><stop offset="1.000" stop-color="#560000"/></linearGradient><linearGradient id="g92" x2="0" y2="1"><stop offset="0.000" stop-color="#ffa800"/><stop offset="0.088" stop-color="#ffff00"/><stop offset="0.110" stop-color="#ffff21"/><stop offset="0.242" stop-color="#ffffd4"/><stop offset="0.373" stop-color="#ffffff"/><stop offset="0.401" stop-color="#ffffff"/><stop offset="0.512" stop-color="#ffffd4"/><stop offset="0.622" stop-color="#ffff21"/><stop offset="0.640" stop-color="#ffff00"/><stop offset="0.732" stop-color="#ff9200"/><stop offset="0.850" stop-color="#ff0000"/><stop offset="0.953" stop-color="#810000"/><stop offset="1.000" stop-color="#580000"/></linearGradient><linearGradient id="g93" x2="0" y2="1"><stop offset="0.000" stop-color="#ffa700"/><stop offset="0.089" stop-color="#ffff00"/><stop offset="0.111" stop-color="#ffff21"/><stop offset="0.243" stop-color="#ffffd4"/><stop offset="0.376" stop-color="#ffffff"/><stop offset="0.403" stop-color="#ffffff"/><stop offset="0.513" stop-color="#ffffd4"/><stop offset="0.623" stop-color="#ffff21"/><stop offset="0.642" stop-color="#ffff00"/><stop offset="0.734" stop-color="#ff9200"/><stop offset="0.852" stop-color="#ff0000"/><stop offset="0.955" stop-color="#810000"/><stop offset="1.000" stop-color="#5a0000"/></linearGradient><linearGradient id="g94" x2="0" y2="1"><stop offset="0.000" stop-color="#ffa500"/><stop offset="0.091" stop-color="#ffff00"/><stop offset="0.113" stop-color="#ffff21"/><stop offset="0.245" stop-color="#ffffd4"/><stop offset="0.378" stop-color="#ffffff"/><stop offset="0.404" stop-color="#ffffff"/><stop offset="0.514" stop-color="#ffffd4"/><stop offset="0.625" stop-color="#ffff21"/><stop offset="0.643" stop-color="#ffff00"/><stop offset="0.736" stop-color="#ff9200"/><stop offset="0.854" stop-color="#ff0000"/><stop offset="0.957" stop-color="#810000"/><stop offset="1.000" stop-color="#5c0000"/></linearGradient><linearGradient id="g95" x2="0" y2="1"><stop offset="0.000" stop-color="#ffa400"/><stop offset="0.092" stop-color="#ffff00"/><stop offset="0.115" stop-color="#ffff21"/><stop offset="0.247" stop-color="#ffffd4"/><stop offset="0.380" stop-color="#ffffff"/><stop offset="0.405" stop-color="#ffffff"/><stop offset="0.516" stop-color="#ffffd4"/><stop offset="0.627" stop-color="#ffff21"/><stop offset="0.645" stop-color="#ffff00"/><stop offset="0.737" stop-color="#ff9200"/><stop offset="0.856" stop-color="#ff0000"/><stop offset="0.959" stop-color="#810000"/><stop offset="1.000" stop-color="#5e0000"/></linearGradient><linearGradient id="g96" x2="0" y2="1"><stop offset="0.000" stop-color="#ffa300"/><stop offset="0.094" stop-color="#ffff00"/><stop offset="0.116" stop-color="#ffff21"/><stop offset="0.249" stop-color="#ffffd4"/><stop offset="0.382" stop-color="#ffffff"/><stop offset="0.406" stop-color="#ffffff"/><stop offset="0.517" stop-color="#ffffd4"/><stop offset="0.628" stop-color="#ffff21"/><stop offset="0.647" stop-color="#ffff00"/><stop offset="0.739" stop-color="#ff9200"/><stop offset="0.858" stop-color="#ff0000"/><stop offset="0.961" stop-color="#810000"/><stop offset="1.000" stop-color="#600000"/></linearGradient><linearGradient id="g97" x2="0" y2="1"><stop offset="0.000" stop-color="#ffa100"/><stop offset="0.096" stop-color="#ffff00"/><stop offset="0.118" stop-color="#ffff21"/><stop offset="0.251" stop-color="#ffffd4"/><stop offset="0.384" stop-color="#ffffff"/><stop offset="0.407" stop-color="#ffffff"/><stop offset="0.518" stop-color="#ffffd4"/><stop offset="0.630" stop-color="#ffff21"/><stop offset="0.648" stop-color="#ffff00"/><stop offset="0.741" stop-color="#ff9200"/><stop offset="0.860" stop-color="#ff0000"/><stop offset="0.963" stop-color="#810000"/><stop offset="1.000" stop-color="#620000"/></linearGradient><linearGradient id="g98" x2="0" y2="1"><stop offset="0.000" stop-color="#ffa000"/><stop offset="0.097" stop-color="#ffff00"/><stop offset="0.120" stop-color="#ffff21"/><stop offset="0.253" stop-color="#ffffd4"/><stop offset="0.386" stop-color="#ffffff"/><stop offset="0.409" stop-color="#ffffff"/><stop offset="0.520" stop-color="#ffffd4"/><stop offset="0.631" stop-color="#ffff21"/><stop offset="0.650" stop-color="#ffff00"/><stop offset="0.743" stop-color="#ff9200"/><stop offset="0.862" stop-color="#ff0000"/><stop offset="0.965" stop-color="#810000"/><stop offset="1.000" stop-color="#630000"/></linearGradient><linearGradient id="g99" x2="0" y2="1"><stop offset="0.000" stop-color="#ff9e00"/><stop offset="0.099" stop-color="#ffff00"/><stop offset="0.121" stop-color="#ffff21"/><stop offset="0.255" stop-color="#ffffd4"/><stop offset="0.388" stop-color="#ffffff"/><stop offset="0.410" stop-color="#ffffff"/><stop offset="0.521" stop-color="#ffffd4"/><stop offset="0.633" stop-color="#ffff21"/><stop offset="0.651" stop-color="#ffff00"/><stop offset="0.744" stop-color="#ff9200"/><stop offset="0.864" stop-color="#ff0000"/><stop offset="0.967" stop-color="#810000"/><stop offset="1.000" stop-color="#650000"/></linearGradient><linearGradient id="g100" x2="0" y2="1"><stop offset="0.000" stop-color="#ff9d00"/><stop offset="0.101" stop-color="#ffff00"/><stop offset="0.123" stop-color="#ffff21"/><stop offset="0.257" stop-color="#ffffd4"/><stop offset="0.390" stop-color="#ffffff"/><stop offset="0.411" stop-color="#ffffff"/><stop offset="0.523" stop-color="#ffffd4"/><stop offset="0.634" stop-color="#ffff21"/><stop offset="0.653" stop-color="#ffff00"/><stop offset="0.746" stop-color="#ff9200"/><stop offset="0.866" stop-color="#ff0000"/><stop offset="0.970" stop-color="#810000"/><stop offset="1.000" stop-color="#670000"/></linearGradient><linearGradient id="g101" x2="0" y2="1"><stop offset="0.000" stop-color="#ff9b00"/><stop offset="0.102" stop-color="#ffff00"/><stop offset="0.125" stop-color="#ffff21"/><stop offset="0.259" stop-color="#ffffd4"/><stop offset="0.392" stop-color="#ffffff"/><stop offset="0.412" stop-color="#ffffff"/><stop offset="0.524" stop-color="#ffffd4"/><stop offset="0.636" stop-color="#ffff21"/><stop offset="0.655" stop-color="#ffff00"/><stop offset="0.748" stop-color="#ff9200"/><stop offset="0.868" stop-color="#ff0000"/><stop offset="0.972" stop-color="#810000"/><stop offset="1.000" stop-color="#690000"/></linearGradient><linearGradient id="g102" x2="0" y2="1"><stop offset="0.000" stop-color="#ff9a00"/><stop offset="0.104" stop-color="#ffff00"/><stop offset="0.126" stop-color="#ffff21"/><stop offset="0.260" stop-color="#ffffd4"/><stop offset="0.395" stop-color="#ffffff"/><stop offset="0.413" stop-color="#ffffff"/><stop offset="0.525" stop-color="#ffffd4"/><stop offset="0.637" stop-color="#ffff21"/><stop offset="0.656" stop-color="#ffff00"/><stop offset="0.750" stop-color="#ff9200"/><stop offset="0.870" stop-color="#ff0000"/><stop offset="0.974" stop-color="#810000"/><stop offset="1.000" stop-color="#6b0000"/></linearGradient><linearGradient id="g103" x2="0" y2="1"><stop offset="0.000" stop-color="#ff9800"/><stop offset="0.106" stop-color="#ffff00"/><stop offset="0.128" stop-color="#ffff21"/><stop offset="0.262" stop-color="#ffffd4"/><stop offset="0.397" stop-color="#ffffff"/><stop offset="0.414" stop-color="#ffffff"/><stop offset="0.527" stop-color="#ffffd4"/><stop offset="0.639" stop-color="#ffff21"/><stop offset="0.658" stop-color="#ffff00"/><stop offset="0.751" stop-color="#ff9200"/><stop offset="0.872" stop-color="#ff0000"/><stop offset="0.976" stop-color="#810000"/><stop offset="1.000" stop-color="#6d0000"/></linearGradient><linearGradient id="g104" x2="0" y2="1"><stop offset="0.000" stop-color="#ff9700"/><stop offset="0.107" stop-color="#ffff00"/><stop offset="0.130" stop-color="#ffff21"/><stop offset="0.264" stop-color="#ffffd4"/><stop offset="0.399" stop-color="#ffffff"/><stop offset="0.416" stop-color="#ffffff"/><stop offset="0.528" stop-color="#ffffd4"/><stop offset="0.641" stop-color="#ffff21"/><stop offset="0.659" stop-color="#ffff00"/><stop offset="0.753" stop-color="#ff9200"/><stop offset="0.874" stop-color="#ff0000"/><stop offset="0.978" stop-color="#810000"/><stop offset="1.000" stop-color="#6f0000"/></linearGradient><linearGradient id="g105" x2="0" y2="1"><stop offset="0.000" stop-color="#ff9500"/><stop offset="0.109" stop-color="#ffff00"/><stop offset="0.131" stop-color="#ffff21"/><stop offset="0.266" stop-color="#ffffd4"/><stop offset="0.401" stop-color="#ffffff"/><stop offset="0.417" stop-color="#ffffff"/><stop offset="0.529" stop-color="#ffffd4"/><stop offset="0.642" stop-color="#ffff21"/><stop offset="0.661" stop-color="#ffff00"/><stop offset="0.755" stop-color="#ff9200"/><stop offset="0.876" stop-color="#ff0000"/><stop offset="0.980" stop-color="#810000"/><stop offset="1.000" stop-color="#710000"/></linearGradient><linearGradient id="g106" x2="0" y2="1"><stop offset="0.000" stop-color="#ff9400"/><stop offset="0.111" stop-color="#ffff00"/><stop offset="0.133" stop-color="#ffff21"/><stop offset="0.268" stop-color="#ffffd4"/><stop offset="0.403" stop-color="#ffffff"/><stop offset="0.418" stop-color="#ffffff"/><stop offset="0.531" stop-color="#ffffd4"/><stop offset="0.644" stop-color="#ffff21"/><stop offset="0.663" stop-color="#ffff00"/><stop offset="0.757" stop-color="#ff9200"/><stop offset="0.878" stop-color="#ff0000"/><stop offset="0.983" stop-color="#810000"/><stop offset="1.000" stop-color="#720000"/></linearGradient><linearGradient id="g107" x2="0" y2="1"><stop offset="0.000" stop-color="#ff9200"/><stop offset="0.112" stop-color="#ffff00"/><stop offset="0.135" stop-color="#ffff21"/><stop offset="0.270" stop-color="#ffffd4"/><stop offset="0.405" stop-color="#ffffff"/><stop offset="0.419" stop-color="#ffffff"/><stop offset="0.532" stop-color="#ffffd4"/><stop offset="0.645" stop-color="#ffff21"/><stop offset="0.664" stop-color="#ffff00"/><stop offset="0.758" stop-color="#ff9200"/><stop offset="0.880" stop-color="#ff0000"/><stop offset="0.985" stop-color="#810000"/><stop offset="1.000" stop-color="#740000"/></linearGradient><linearGradient id="g108" x2="0" y2="1"><stop offset="0.000" stop-color="#ff9100"/><stop offset="0.114" stop-color="#ffff00"/><stop offset="0.137" stop-color="#ffff21"/><stop offset="0.272" stop-color="#ffffd4"/><stop offset="0.407" stop-color="#ffffff"/><stop offset="0.420" stop-color="#ffffff"/><stop offset="0.534" stop-color="#ffffd4"/><stop offset="0.647" stop-color="#ffff21"/><stop offset="0.666" stop-color="#ffff00"/><stop offset="0.760" stop-color="#ff9200"/><stop offset="0.882" stop-color="#ff0000"/><stop offset="0.987" stop-color="#810000"/><stop offset="1.000" stop-color="#760000"/></linearGradient><linearGradient id="g109" x2="0" y2="1"><stop offset="0.000" stop-color="#ff9000"/><stop offset="0.116" stop-color="#ffff00"/><stop offset="0.138" stop-color="#ffff21"/><stop offset="0.274" stop-color="#ffffd4"/><stop offset="0.409" stop-color="#ffffff"/><stop offset="0.422" stop-color="#ffffff"/><stop offset="0.535" stop-color="#ffffd4"/><stop offset="0.649" stop-color="#ffff21"/><stop offset="0.667" stop-color="#ffff00"/><stop offset="0.762" stop-color="#ff9200"/><stop offset="0.884" stop-color="#ff0000"/><stop offset="0.989" stop-color="#810000"/><stop offset="1.000" stop-color="#780000"/></linearGradient><linearGradient id="g110" x2="0" y2="1"><stop offset="0.000" stop-color="#ff8e00"/><stop offset="0.117" stop-color="#ffff00"/><stop offset="0.140" stop-color="#ffff21"/><stop offset="0.276" stop-color="#ffffd4"/><stop offset="0.412" stop-color="#ffffff"/><stop offset="0.423" stop-color="#ffffff"/><stop offset="0.536" stop-color="#ffffd4"/><stop offset="0.650" stop-color="#ffff21"/><stop offset="0.669" stop-color="#ffff00"/><stop offset="0.764" stop-color="#ff9200"/><stop offset="0.886" stop-color="#ff0000"/><stop offset="0.991" stop-color="#810000"/><stop offset="1.000" stop-color="#7a0000"/></linearGradient><linearGradient id="g111" x2="0" y2="1"><stop offset="0.000" stop-color="#ff8d00"/><stop offset="0.119" stop-color="#ffff00"/><stop offset="0.142" stop-color="#ffff21"/><stop offset="0.278" stop-color="#ffffd4"/><stop offset="0.414" stop-color="#ffffff"/><stop offset="0.424" stop-color="#ffffff"/><stop offset="0.538" stop-color="#ffffd4"/><stop offset="0.652" stop-color="#ffff21"/><stop offset="0.671" stop-color="#ffff00"/><stop offset="0.766" stop-color="#ff9200"/><stop offset="0.888" stop-color="#ff0000"/><stop offset="0.994" stop-color="#810000"/><stop offset="1.000" stop-color="#7c0000"/></linearGradient><linearGradient id="g112" x2="0" y2="1"><stop offset="0.000" stop-color="#ff8b00"/><stop offset="0.121" stop-color="#ffff00"/><stop offset="0.144" stop-color="#ffff21"/><stop offset="0.280" stop-color="#ffffd4"/><stop offset="0.416" stop-color="#ffffff"/><stop offset="0.425" stop-color="#ffffff"/><stop offset="0.539" stop-color="#ffffd4"/><stop offset="0.653" stop-color="#ffff21"/><stop offset="0.672" stop-color="#ffff00"/><stop offset="0.767" stop-color="#ff9200"/><stop offset="0.890" stop-color="#ff0000"/><stop offset="0.996" stop-color="#810000"/><stop offset="1.000" stop-color="#7e0000"/></linearGradient><linearGradient id="g113" x2="0" y2="1"><stop offset="0.000" stop-color="#ff8a00"/><stop offset="0.123" stop-color="#ffff00"/><stop offset="0.145" stop-color="#ffff21"/><stop offset="0.282" stop-color="#ffffd4"/><stop offset="0.418" stop-color="#ffffff"/><stop offset="0.426" stop-color="#ffffff"/><stop offset="0.541" stop-color="#ffffd4"/><stop offset="0.655" stop-color="#ffff21"/><stop offset="0.674" stop-color="#ffff00"/><stop offset="0.769" stop-color="#ff9200"/><stop offset="0.892" stop-color="#ff0000"/><stop offset="0.998" stop-color="#810000"/><stop offset="1.000" stop-color="#800000"/></linearGradient><linearGradient id="g114" x2="0" y2="1"><stop offset="0.000" stop-color="#ff8800"/><stop offset="0.124" stop-color="#ffff00"/><stop offset="0.147" stop-color="#ffff21"/><stop offset="0.283" stop-color="#ffffd4"/><stop offset="0.420" stop-color="#ffffff"/><stop offset="0.427" stop-color="#ffffff"/><stop offset="0.542" stop-color="#ffffd4"/><stop offset="0.657" stop-color="#ffff21"/><stop offset="0.676" stop-color="#ffff00"/><stop offset="0.771" stop-color="#ff9200"/><stop offset="0.894" stop-color="#ff0000"/><stop offset="1.000" stop-color="#810000"/></linearGradient><linearGradient id="g115" x2="0" y2="1"><stop offset="0.000" stop-color="#ff8700"/><stop offset="0.126" stop-color="#ffff00"/><stop offset="0.149" stop-color="#ffff21"/><stop offset="0.285" stop-color="#ffffd4"/><stop offset="0.422" stop-color="#ffffff"/><stop offset="0.429" stop-color="#ffffff"/><stop offset="0.543" stop-color="#ffffd4"/><stop offset="0.658" stop-color="#ffff21"/><stop offset="0.677" stop-color="#ffff00"/><stop offset="0.773" stop-color="#ff9200"/><stop offset="0.896" stop-color="#ff0000"/><stop offset="1.000" stop-color="#840000"/></linearGradient><linearGradient id="g116" x2="0" y2="1"><stop offset="0.000" stop-color="#ff8500"/><stop offset="0.128" stop-color="#ffff00"/><stop offset="0.150" stop-color="#ffff21"/><stop offset="0.287" stop-color="#ffffd4"/><stop offset="0.424" stop-color="#ffffff"/><stop offset="0.430" stop-color="#ffffff"/><stop offset="0.545" stop-color="#ffffd4"/><stop offset="0.660" stop-color="#ffff21"/><stop offset="0.679" stop-color="#ffff00"/><stop offset="0.775" stop-color="#ff9200"/><stop offset="0.898" stop-color="#ff0000"/><stop offset="1.000" stop-color="#870000"/></linearGradient><linearGradient id="g117" x2="0" y2="1"><stop offset="0.000" stop-color="#ff8400"/><stop offset="0.129" stop-color="#ffff00"/><stop offset="0.152" stop-color="#ffff21"/><stop offset="0.289" stop-color="#ffffd4"/><stop offset="0.426" stop-color="#ffffff"/><stop offset="0.431" stop-color="#ffffff"/><stop offset="0.546" stop-color="#ffffd4"/><stop offset="0.661" stop-color="#ffff21"/><stop offset="0.681" stop-color="#ffff00"/><stop offset="0.777" stop-color="#ff9200"/><stop offset="0.900" stop-color="#ff0000"/><stop offset="1.000" stop-color="#890000"/></linearGradient><linearGradient id="g118" x2="0" y2="1"><stop offset="0.000" stop-color="#ff8200"/><stop offset="0.131" stop-color="#ffff00"/><stop offset="0.154" stop-color="#ffff21"/><stop offset="0.291" stop-color="#ffffd4"/><stop offset="0.428" stop-color="#ffffff"/><stop offset="0.432" stop-color="#ffffff"/><stop offset="0.548" stop-color="#ffffd4"/><stop offset="0.663" stop-color="#ffff21"/><stop offset="0.682" stop-color="#ffff00"/><stop offset="0.778" stop-color="#ff9200"/><stop offset="0.902" stop-color="#ff0000"/><stop offset="1.000" stop-color="#8c0000"/></linearGradient><linearGradient id="g119" x2="0" y2="1"><stop offset="0.000" stop-color="#ff8100"/><stop offset="0.133" stop-color="#ffff00"/><stop offset="0.156" stop-color="#ffff21"/><stop offset="0.293" stop-color="#ffffd4"/><stop offset="0.433" stop-color="#ffffff"/><stop offset="0.549" stop-color="#ffffd4"/><stop offset="0.665" stop-color="#ffff21"/><stop offset="0.684" stop-color="#ffff00"/><stop offset="0.780" stop-color="#ff9200"/><stop offset="0.904" stop-color="#ff0000"/><stop offset="1.000" stop-color="#8f0000"/></linearGradient><linearGradient id="g120" x2="0" y2="1"><stop offset="0.000" stop-color="#ff8000"/><stop offset="0.135" stop-color="#ffff00"/><stop offset="0.158" stop-color="#ffff21"/><stop offset="0.295" stop-color="#ffffd4"/><stop offset="0.435" stop-color="#ffffff"/><stop offset="0.550" stop-color="#ffffd4"/><stop offset="0.666" stop-color="#ffff21"/><stop offset="0.686" stop-color="#ffff00"/><stop offset="0.782" stop-color="#ff9200"/><stop offset="0.906" stop-color="#ff0000"/><stop offset="1.000" stop-color="#910000"/></linearGradient><linearGradient id="g121" x2="0" y2="1"><stop offset="0.000" stop-color="#ff7e00"/><stop offset="0.136" stop-color="#ffff00"/><stop offset="0.159" stop-color="#ffff21"/><stop offset="0.297" stop-color="#ffffd4"/><stop offset="0.436" stop-color="#ffffff"/><stop offset="0.552" stop-color="#ffffd4"/><stop offset="0.668" stop-color="#ffff21"/><stop offset="0.687" stop-color="#ffff00"/><stop offset="0.784" stop-color="#ff9200"/><stop offset="0.908" stop-color="#ff0000"/><stop offset="1.000" stop-color="#940000"/></linearGradient><linearGradient id="g122" x2="0" y2="1"><stop offset="0.000" stop-color="#ff7d00"/><stop offset="0.138" stop-color="#ffff00"/><stop offset="0.161" stop-color="#ffff21"/><stop offset="0.299" stop-color="#ffffd4"/><stop offset="0.437" stop-color="#ffffff"/><stop offset="0.553" stop-color="#ffffd4"/><stop offset="0.670" stop-color="#ffff21"/><stop offset="0.689" stop-color="#ffff00"/><stop offset="0.786" stop-color="#ff9200"/><stop offset="0.910" stop-color="#ff0000"/><stop offset="1.000" stop-color="#970000"/></linearGradient><linearGradient id="g123" x2="0" y2="1"><stop offset="0.000" stop-color="#ff7b00"/><stop offset="0.140" stop-color="#ffff00"/><stop offset="0.163" stop-color="#ffff21"/><stop offset="0.301" stop-color="#ffffd4"/><stop offset="0.439" stop-color="#ffffff"/><stop offset="0.555" stop-color="#ffffd4"/><stop offset="0.671" stop-color="#ffff21"/><stop offset="0.691" stop-color="#ffff00"/><stop offset="0.788" stop-color="#ff9200"/><stop offset="0.912" stop-color="#ff0000"/><stop offset="1.000" stop-color="#990000"/></linearGradient><linearGradient id="g124" x2="0" y2="1"><stop offset="0.000" stop-color="#ff7a00"/><stop offset="0.142" stop-color="#ffff00"/><stop offset="0.165" stop-color="#ffff21"/><stop offset="0.303" stop-color="#ffffd4"/><stop offset="0.441" stop-color="#fffffe"/><stop offset="0.556" stop-color="#ffffd4"/><stop offset="0.673" stop-color="#ffff21"/><stop offset="0.692" stop-color="#ffff00"/><stop offset="0.790" stop-color="#ff9200"/><stop offset="0.915" stop-color="#ff0000"/><stop offset="1.000" stop-color="#9c0000"/></linearGradient><linearGradient id="g125" x2="0" y2="1"><stop offset="0.000" stop-color="#ff7800"/><stop offset="0.143" stop-color="#ffff00"/><stop offset="0.166" stop-color="#ffff21"/><stop offset="0.305" stop-color="#ffffd4"/><stop offset="0.443" stop-color="#fffffe"/><stop offset="0.558" stop-color="#ffffd4"/><stop offset="0.675" stop-color="#ffff21"/><stop offset="0.694" stop-color="#ffff00"/><stop offset="0.791" stop-color="#ff9200"/><stop offset="0.917" stop-color="#ff0000"/><stop offset="1.000" stop-color="#9f0000"/></linearGradient><linearGradient id="g126" x2="0" y2="1"><stop offset="0.000" stop-color="#ff7700"/><stop offset="0.145" stop-color="#ffff00"/><stop offset="0.168" stop-color="#ffff21"/><stop offset="0.307" stop-color="#ffffd4"/><stop offset="0.442" stop-color="#fffffe"/><stop offset="0.445" stop-color="#fffffe"/><stop offset="0.559" stop-color="#ffffd4"/><stop offset="0.676" stop-color="#ffff21"/><stop offset="0.696" stop-color="#ffff00"/><stop offset="0.793" stop-color="#ff9200"/><stop offset="0.919" stop-color="#ff0000"/><stop offset="1.000" stop-color="#a10000"/></linearGradient><linearGradient id="g127" x2="0" y2="1"><stop offset="0.000" stop-color="#ff7500"/><stop offset="0.147" stop-color="#ffff00"/><stop offset="0.170" stop-color="#ffff21"/><stop offset="0.309" stop-color="#ffffd4"/><stop offset="0.443" stop-color="#fffffe"/><stop offset="0.560" stop-color="#ffffd4"/><stop offset="0.678" stop-color="#ffff21"/><stop offset="0.697" stop-color="#ffff00"/><stop offset="0.795" stop-color="#ff9200"/><stop offset="0.921" stop-color="#ff0000"/><stop offset="1.000" stop-color="#a40000"/></linearGradient><linearGradient id="g128" x2="0" y2="1"><stop offset="0.000" stop-color="#ff7400"/><stop offset="0.149" stop-color="#ffff00"/><stop offset="0.172" stop-color="#ffff21"/><stop offset="0.311" stop-color="#ffffd4"/><stop offset="0.444" stop-color="#fffffd"/><stop offset="0.450" stop-color="#fffffd"/><stop offset="0.562" stop-color="#ffffd4"/><stop offset="0.680" stop-color="#ffff21"/><stop offset="0.699" stop-color="#ffff00"/><stop offset="0.797" stop-color="#ff9200"/><stop offset="0.923" stop-color="#ff0000"/><stop offset="1.000" stop-color="#a70000"/></linearGradient><linearGradient id="g129" x2="0" y2="1"><stop offset="0.000" stop-color="#ff7200"/><stop offset="0.150" stop-color="#ffff00"/><stop offset="0.174" stop-color="#ffff21"/><stop offset="0.313" stop-color="#ffffd4"/><stop offset="0.445" stop-color="#fffffd"/><stop offset="0.452" stop-color="#fffffd"/><stop offset="0.563" stop-color="#ffffd4"/><stop offset="0.681" stop-color="#ffff21"/><stop offset="0.701" stop-color="#ffff00"/><stop offset="0.799" stop-color="#ff9200"/><stop offset="0.925" stop-color="#ff0000"/><stop offset="1.000" stop-color="#a90000"/></linearGradient><linearGradient id="g130" x2="0" y2="1"><stop offset="0.000" stop-color="#ff7100"/><stop offset="0.152" stop-color="#ffff00"/><stop offset="0.175" stop-color="#ffff21"/><stop offset="0.315" stop-color="#ffffd4"/><stop offset="0.447" stop-color="#fffffd"/><stop offset="0.454" stop-color="#fffffc"/><stop offset="0.565" stop-color="#ffffd4"/><stop offset="0.683" stop-color="#ffff21"/><stop offset="0.703" stop-color="#ffff00"/><stop offset="0.801" stop-color="#ff9200"/><stop offset="0.927" stop-color="#ff0000"/><stop offset="1.000" stop-color="#ac0000"/></linearGradient><linearGradient id="g131" x2="0" y2="1"><stop offset="0.000" stop-color="#ff6f00"/><stop offset="0.154" stop-color="#ffff00"/><stop offset="0.177" stop-color="#ffff21"/><stop offset="0.317" stop-color="#ffffd4"/><stop offset="0.448" stop-color="#fffffc"/><stop offset="0.456" stop-color="#fffffc"/><stop offset="0.566" stop-color="#ffffd4"/><stop offset="0.685" stop-color="#ffff21"/><stop offset="0.704" stop-color="#ffff00"/><stop offset="0.803" stop-color="#ff9200"/><stop offset="0.930" stop-color="#ff0000"/><stop offset="1.000" stop-color="#af0000"/></linearGradient><linearGradient id="g132" x2="0" y2="1"><stop offset="0.000" stop-color="#ff6e00"/><stop offset="0.156" stop-color="#ffff00"/><stop offset="0.179" stop-color="#ffff21"/><stop offset="0.319" stop-color="#ffffd4"/><stop offset="0.449" stop-color="#fffffc"/><stop offset="0.458" stop-color="#fffffc"/><stop offset="0.568" stop-color="#ffffd4"/><stop offset="0.686" stop-color="#ffff21"/><stop offset="0.706" stop-color="#ffff00"/><stop offset="0.805" stop-color="#ff9200"/><stop offset="0.932" stop-color="#ff0000"/><stop offset="1.000" stop-color="#b10000"/></linearGradient><linearGradient id="g133" x2="0" y2="1"><stop offset="0.000" stop-color="#ff6c00"/><stop offset="0.157" stop-color="#ffff00"/><stop offset="0.181" stop-color="#ffff21"/><stop offset="0.321" stop-color="#ffffd4"/><stop offset="0.450" stop-color="#fffffc"/><stop offset="0.460" stop-color="#fffffb"/><stop offset="0.569" stop-color="#ffffd4"/><stop offset="0.688" stop-color="#ffff21"/><stop offset="0.708" stop-color="#ffff00"/><stop offset="0.807" stop-color="#ff9200"/><stop offset="0.934" stop-color="#ff0000"/><stop offset="1.000" stop-color="#b40000"/></linearGradient><linearGradient id="g134" x2="0" y2="1"><stop offset="0.000" stop-color="#ff6b00"/><stop offset="0.159" stop-color="#ffff00"/><stop offset="0.183" stop-color="#ffff21"/><stop offset="0.323" stop-color="#ffffd4"/><stop offset="0.451" stop-color="#fffffc"/><stop offset="0.463" stop-color="#fffffb"/><stop offset="0.570" stop-color="#ffffd4"/><stop offset="0.690" stop-color="#ffff21"/><stop offset="0.709" stop-color="#ffff00"/><stop offset="0.809" stop-color="#ff9200"/><stop offset="0.936" stop-color="#ff0000"/><stop offset="1.000" stop-color="#b60000"/></linearGradient><linearGradient id="g135" x2="0" y2="1"><stop offset="0.000" stop-color="#ff6900"/><stop offset="0.161" stop-color="#ffff00"/><stop offset="0.184" stop-color="#ffff21"/><stop offset="0.325" stop-color="#ffffd4"/><stop offset="0.453" stop-color="#fffffb"/><stop offset="0.465" stop-color="#fffffb"/><stop offset="0.572" stop-color="#ffffd4"/><stop offset="0.691" stop-color="#ffff21"/><stop offset="0.711" stop-color="#ffff00"/><stop offset="0.811" stop-color="#ff9200"/><stop offset="0.938" stop-color="#ff0000"/><stop offset="1.000" stop-color="#b90000"/></linearGradient><linearGradient id="g136" x2="0" y2="1"><stop offset="0.000" stop-color="#ff6800"/><stop offset="0.163" stop-color="#ffff00"/><stop offset="0.186" stop-color="#ffff21"/><stop offset="0.327" stop-color="#ffffd4"/><stop offset="0.454" stop-color="#fffffb"/><stop offset="0.467" stop-color="#fffffa"/><stop offset="0.573" stop-color="#ffffd4"/><stop offset="0.693" stop-color="#ffff21"/><stop offset="0.713" stop-color="#ffff00"/><stop offset="0.813" stop-color="#ff9200"/><stop offset="0.941" stop-color="#ff0000"/><stop offset="1.000" stop-color="#bc0000"/></linearGradient><linearGradient id="g137" x2="0" y2="1"><stop offset="0.000" stop-color="#ff6600"/><stop offset="0.165" stop-color="#ffff00"/><stop offset="0.188" stop-color="#ffff21"/><stop offset="0.329" stop-color="#ffffd4"/><stop offset="0.455" stop-color="#fffffb"/><stop offset="0.469" stop-color="#fffffa"/><stop offset="0.575" stop-color="#ffffd4"/><stop offset="0.695" stop-color="#ffff21"/><stop offset="0.715" stop-color="#ffff00"/><stop offset="0.814" stop-color="#ff9200"/><stop offset="0.943" stop-color="#ff0000"/><stop offset="1.000" stop-color="#be0000"/></linearGradient><linearGradient id="g138" x2="0" y2="1"><stop offset="0.000" stop-color="#ff6500"/><stop offset="0.167" stop-color="#ffff00"/><stop offset="0.190" stop-color="#ffff21"/><stop offset="0.330" stop-color="#ffffd4"/><stop offset="0.456" stop-color="#fffffa"/><stop offset="0.471" stop-color="#fffffa"/><stop offset="0.576" stop-color="#ffffd4"/><stop offset="0.696" stop-color="#ffff21"/><stop offset="0.716" stop-color="#ffff00"/><stop offset="0.816" stop-color="#ff9200"/><stop offset="0.945" stop-color="#ff0000"/><stop offset="1.000" stop-color="#c10000"/></linearGradient><linearGradient id="g139" x2="0" y2="1"><stop offset="0.000" stop-color="#ff6300"/><stop offset="0.168" stop-color="#ffff00"/><stop offset="0.192" stop-color="#ffff21"/><stop offset="0.332" stop-color="#ffffd4"/><stop offset="0.457" stop-color="#fffffa"/><stop offset="0.473" stop-color="#fffff9"/><stop offset="0.578" stop-color="#ffffd4"/><stop offset="0.698" stop-color="#ffff21"/><stop offset="0.718" stop-color="#ffff00"/><stop offset="0.818" stop-color="#ff9200"/><stop offset="0.947" stop-color="#ff0000"/><stop offset="1.000" stop-color="#c40000"/></linearGradient><linearGradient id="g140" x2="0" y2="1"><stop offset="0.000" stop-color="#ff6200"/><stop offset="0.170" stop-color="#ffff00"/><stop offset="0.194" stop-color="#ffff21"/><stop offset="0.334" stop-color="#ffffd4"/><stop offset="0.459" stop-color="#fffffa"/><stop offset="0.475" stop-color="#fffff9"/><stop offset="0.579" stop-color="#ffffd4"/><stop offset="0.700" stop-color="#ffff21"/><stop offset="0.720" stop-color="#ffff00"/><stop offset="0.820" stop-color="#ff9200"/><stop offset="0.949" stop-color="#ff0000"/><stop offset="1.000" stop-color="#c60000"/></linearGradient><linearGradient id="g141" x2="0" y2="1"><stop offset="0.000" stop-color="#ff6000"/><stop offset="0.172" stop-color="#ffff00"/><stop offset="0.195" stop-color="#ffff21"/><stop offset="0.337" stop-color="#ffffd4"/><stop offset="0.460" stop-color="#fffffa"/><stop offset="0.478" stop-color="#fffff9"/><stop offset="0.581" stop-color="#ffffd4"/><stop offset="0.702" stop-color="#ffff21"/><stop offset="0.722" stop-color="#ffff00"/><stop offset="0.822" stop-color="#ff9200"/><stop offset="0.952" stop-color="#ff0000"/><stop offset="1.000" stop-color="#c90000"/></linearGradient><linearGradient id="g142" x2="0" y2="1"><stop offset="0.000" stop-color="#ff5f00"/><stop offset="0.174" stop-color="#ffff00"/><stop offset="0.197" stop-color="#ffff21"/><stop offset="0.339" stop-color="#ffffd4"/><stop offset="0.461" stop-color="#fffff9"/><stop offset="0.480" stop-color="#fffff8"/><stop offset="0.582" stop-color="#ffffd4"/><stop offset="0.703" stop-color="#ffff21"/><stop offset="0.723" stop-color="#ffff00"/><stop offset="0.824" stop-color="#ff9200"/><stop offset="0.954" stop-color="#ff0000"/><stop offset="1.000" stop-color="#cb0000"/></linearGradient><linearGradient id="g143" x2="0" y2="1"><stop offset="0.000" stop-color="#ff5d00"/><stop offset="0.176" stop-color="#ffff00"/><stop offset="0.199" stop-color="#ffff21"/><stop offset="0.341" stop-color="#ffffd4"/><stop offset="0.462" stop-color="#fffff9"/><stop offset="0.482" stop-color="#fffff8"/><stop offset="0.584" stop-color="#ffffd4"/><stop offset="0.705" stop-color="#ffff21"/><stop offset="0.725" stop-color="#ffff00"/><stop offset="0.826" stop-color="#ff9200"/><stop offset="0.956" stop-color="#ff0000"/><stop offset="1.000" stop-color="#ce0000"/></linearGradient><linearGradient id="g144" x2="0" y2="1"><stop offset="0.000" stop-color="#ff5c00"/><stop offset="0.177" stop-color="#ffff00"/><stop offset="0.201" stop-color="#ffff21"/><stop offset="0.343" stop-color="#ffffd4"/><stop offset="0.464" stop-color="#fffff9"/><stop offset="0.484" stop-color="#fffff8"/><stop offset="0.585" stop-color="#ffffd4"/><stop offset="0.707" stop-color="#ffff21"/><stop offset="0.727" stop-color="#ffff00"/><stop offset="0.828" stop-color="#ff9200"/><stop offset="0.958" stop-color="#ff0000"/><stop offset="1.000" stop-color="#d10000"/></linearGradient><linearGradient id="g145" x2="0" y2="1"><stop offset="0.000" stop-color="#ff5a00"/><stop offset="0.179" stop-color="#ffff00"/><stop offset="0.203" stop-color="#ffff21"/><stop offset="0.345" stop-color="#ffffd4"/><stop offset="0.465" stop-color="#fffff9"/><stop offset="0.486" stop-color="#fffff7"/><stop offset="0.587" stop-color="#ffffd4"/><stop offset="0.708" stop-color="#ffff21"/><stop offset="0.729" stop-color="#ffff00"/><stop offset="0.830" stop-color="#ff9200"/><stop offset="0.961" stop-color="#ff0000"/><stop offset="1.000" stop-color="#d30000"/></linearGradient><linearGradient id="g146" x2="0" y2="1"><stop offset="0.000" stop-color="#ff5900"/><stop offset="0.181" stop-color="#ffff00"/><stop offset="0.205" stop-color="#ffff21"/><stop offset="0.347" stop-color="#ffffd4"/><stop offset="0.466" stop-color="#fffff8"/><stop offset="0.488" stop-color="#fffff7"/><stop offset="0.588" stop-color="#ffffd4"/><stop offset="0.710" stop-color="#ffff21"/><stop offset="0.730" stop-color="#ffff00"/><stop offset="0.832" stop-color="#ff9200"/><stop offset="0.963" stop-color="#ff0000"/><stop offset="1.000" stop-color="#d60000"/></linearGradient><linearGradient id="g147" x2="0" y2="1"><stop offset="0.000" stop-color="#ff5700"/><stop offset="0.183" stop-color="#ffff00"/><stop offset="0.207" stop-color="#ffff21"/><stop offset="0.349" stop-color="#ffffd4"/><stop offset="0.467" stop-color="#fffff8"/><stop offset="0.490" stop-color="#fffff7"/><stop offset="0.590" stop-color="#ffffd4"/><stop offset="0.712" stop-color="#ffff21"/><stop offset="0.732" stop-color="#ffff00"/><stop offset="0.834" stop-color="#ff9200"/><stop offset="0.965" stop-color="#ff0000"/><stop offset="1.000" stop-color="#d90000"/></linearGradient><linearGradient id="g148" x2="0" y2="1"><stop offset="0.000" stop-color="#ff5600"/><stop offset="0.185" stop-color="#ffff00"/><stop offset="0.209" stop-color="#ffff21"/><stop offset="0.351" stop-color="#ffffd4"/><stop offset="0.468" stop-color="#fffff8"/><stop offset="0.493" stop-color="#fffff7"/><stop offset="0.591" stop-color="#ffffd4"/><stop offset="0.714" stop-color="#ffff21"/><stop offset="0.734" stop-color="#ffff00"/><stop offset="0.836" stop-color="#ff9200"/><stop offset="0.968" stop-color="#ff0000"/><stop offset="1.000" stop-color="#db0000"/></linearGradient><linearGradient id="g149" x2="0" y2="1"><stop offset="0.000" stop-color="#ff5400"/><stop offset="0.187" stop-color="#ffff00"/><stop offset="0.210" stop-color="#ffff21"/><stop offset="0.353" stop-color="#ffffd4"/><stop offset="0.470" stop-color="#fffff7"/><stop offset="0.495" stop-color="#fffff6"/><stop offset="0.593" stop-color="#ffffd4"/><stop offset="0.715" stop-color="#ffff21"/><stop offset="0.736" stop-color="#ffff00"/><stop offset="0.838" stop-color="#ff9200"/><stop offset="0.970" stop-color="#ff0000"/><stop offset="1.000" stop-color="#de0000"/></linearGradient><linearGradient id="g150" x2="0" y2="1"><stop offset="0.000" stop-color="#ff5300"/><stop offset="0.189" stop-color="#ffff00"/><stop offset="0.212" stop-color="#ffff21"/><stop offset="0.355" stop-color="#ffffd4"/><stop offset="0.471" stop-color="#fffff7"/><stop offset="0.497" stop-color="#fffff6"/><stop offset="0.594" stop-color="#ffffd4"/><stop offset="0.717" stop-color="#ffff21"/><stop offset="0.738" stop-color="#ffff00"/><stop offset="0.840" stop-color="#ff9200"/><stop offset="0.972" stop-color="#ff0000"/><stop offset="1.000" stop-color="#e00000"/></linearGradient><linearGradient id="g151" x2="0" y2="1"><stop offset="0.000" stop-color="#ff5100"/><stop offset="0.191" stop-color="#ffff00"/><stop offset="0.214" stop-color="#ffff21"/><stop offset="0.357" stop-color="#ffffd4"/><stop offset="0.472" stop-color="#fffff7"/><stop offset="0.499" stop-color="#fffff6"/><stop offset="0.596" stop-color="#ffffd4"/><stop offset="0.719" stop-color="#ffff21"/><stop offset="0.740" stop-color="#ffff00"/><stop offset="0.842" stop-color="#ff9200"/><stop offset="0.974" stop-color="#ff0000"/><stop offset="1.000" stop-color="#e30000"/></linearGradient><linearGradient id="g152" x2="0" y2="1"><stop offset="0.000" stop-color="#ff5000"/><stop offset="0.192" stop-color="#ffff00"/><stop offset="0.216" stop-color="#ffff21"/><stop offset="0.359" stop-color="#ffffd4"/><stop offset="0.473" stop-color="#fffff7"/><stop offset="0.501" stop-color="#fffff5"/><stop offset="0.597" stop-color="#ffffd4"/><stop offset="0.721" stop-color="#ffff21"/><stop offset="0.741" stop-color="#ffff00"/><stop offset="0.844" stop-color="#ff9200"/><stop offset="0.977" stop-color="#ff0000"/><stop offset="1.000" stop-color="#e60000"/></linearGradient><linearGradient id="g153" x2="0" y2="1"><stop offset="0.000" stop-color="#ff4e00"/><stop offset="0.194" stop-color="#ffff00"/><stop offset="0.218" stop-color="#ffff21"/><stop offset="0.360" stop-color="#ffffd4"/><stop offset="0.475" stop-color="#fffff7"/><stop offset="0.503" stop-color="#fffff5"/><stop offset="0.599" stop-color="#ffffd4"/><stop offset="0.723" stop-color="#ffff21"/><stop offset="0.743" stop-color="#ffff00"/><stop offset="0.847" stop-color="#ff9200"/><stop offset="0.979" stop-color="#ff0000"/><stop offset="1.000" stop-color="#e80000"/></linearGradient><linearGradient id="g154" x2="0" y2="1"><stop offset="0.000" stop-color="#ff4d00"/><stop offset="0.195" stop-color="#ffff00"/><stop offset="0.219" stop-color="#ffff21"/><stop offset="0.362" stop-color="#ffffd4"/><stop offset="0.476" stop-color="#fffff6"/><stop offset="0.505" stop-color="#fffff5"/><stop offset="0.600" stop-color="#ffffd4"/><stop offset="0.724" stop-color="#ffff21"/><stop offset="0.745" stop-color="#ffff00"/><stop offset="0.849" stop-color="#ff9200"/><stop offset="0.982" stop-color="#ff0000"/><stop offset="1.000" stop-color="#eb0000"/></linearGradient><linearGradient id="g155" x2="0" y2="1"><stop offset="0.000" stop-color="#ff4c00"/><stop offset="0.197" stop-color="#ffff00"/><stop offset="0.221" stop-color="#ffff21"/><stop offset="0.364" stop-color="#ffffd4"/><stop offset="0.477" stop-color="#fffff6"/><stop offset="0.507" stop-color="#fffff5"/><stop offset="0.602" stop-color="#ffffd4"/><stop offset="0.726" stop-color="#ffff21"/><stop offset="0.747" stop-color="#ffff00"/><stop offset="0.851" stop-color="#ff9200"/><stop offset="0.984" stop-color="#ff0000"/><stop offset="1.000" stop-color="#ee0000"/></linearGradient><linearGradient id="g156" x2="0" y2="1"><stop offset="0.000" stop-color="#ff4b00"/><stop offset="0.198" stop-color="#ffff00"/><stop offset="0.222" stop-color="#ffff21"/><stop offset="0.365" stop-color="#ffffd4"/><stop offset="0.479" stop-color="#fffff6"/><stop offset="0.508" stop-color="#fffff5"/><stop offset="0.603" stop-color="#ffffd4"/><stop offset="0.728" stop-color="#ffff21"/><stop offset="0.749" stop-color="#ffff00"/><stop offset="0.853" stop-color="#ff9200"/><stop offset="0.986" stop-color="#ff0000"/><stop offset="1.000" stop-color="#f00000"/></linearGradient><linearGradient id="g157" x2="0" y2="1"><stop offset="0.000" stop-color="#ff4900"/><stop offset="0.200" stop-color="#ffff00"/><stop offset="0.224" stop-color="#ffff21"/><stop offset="0.367" stop-color="#ffffd4"/><stop offset="0.480" stop-color="#fffff6"/><stop offset="0.510" stop-color="#fffff5"/><stop offset="0.605" stop-color="#ffffd4"/><stop offset="0.730" stop-color="#ffff21"/><stop offset="0.751" stop-color="#ffff00"/><stop offset="0.855" stop-color="#ff9200"/><stop offset="0.989" stop-color="#ff0000"/><stop offset="1.000" stop-color="#f30000"/></linearGradient><linearGradient id="g158" x2="0" y2="1"><stop offset="0.000" stop-color="#ff4800"/><stop offset="0.202" stop-color="#ffff00"/><stop offset="0.225" stop-color="#ffff21"/><stop offset="0.369" stop-color="#ffffd4"/><stop offset="0.481" stop-color="#fffff6"/><stop offset="0.512" stop-color="#fffff5"/><stop offset="0.607" stop-color="#ffffd4"/><stop offset="0.732" stop-color="#ffff21"/><stop offset="0.753" stop-color="#ffff00"/><stop offset="0.857" stop-color="#ff9200"/><stop offset="0.991" stop-color="#ff0000"/><stop offset="1.000" stop-color="#f60000"/></linearGradient><linearGradient id="g159" x2="0" y2="1"><stop offset="0.000" stop-color="#ff4700"/><stop offset="0.203" stop-color="#ffff00"/><stop offset="0.227" stop-color="#ffff21"/><stop offset="0.370" stop-color="#ffffd4"/><stop offset="0.483" stop-color="#fffff6"/><stop offset="0.514" stop-color="#fffff4"/><stop offset="0.608" stop-color="#ffffd4"/><stop offset="0.734" stop-color="#ffff21"/><stop offset="0.755" stop-color="#ffff00"/><stop offset="0.859" stop-color="#ff9200"/><stop offset="0.994" stop-color="#ff0000"/><stop offset="1.000" stop-color="#f80000"/></linearGradient><linearGradient id="g160" x2="0" y2="1"><stop offset="0.000" stop-color="#ff4600"/><stop offset="0.205" stop-color="#ffff00"/><stop offset="0.229" stop-color="#ffff21"/><stop offset="0.372" stop-color="#ffffd4"/><stop offset="0.484" stop-color="#fffff6"/><stop offset="0.516" stop-color="#fffff4"/><stop offset="0.610" stop-color="#ffffd4"/><stop offset="0.736" stop-color="#ffff21"/><stop offset="0.757" stop-color="#ffff00"/><stop offset="0.862" stop-color="#ff9200"/><stop offset="0.996" stop-color="#ff0000"/><stop offset="1.000" stop-color="#fb0000"/></linearGradient><linearGradient id="g161" x2="0" y2="1"><stop offset="0.000" stop-color="#ff4400"/><stop offset="0.206" stop-color="#ffff00"/><stop offset="0.230" stop-color="#ffff21"/><stop offset="0.374" stop-color="#ffffd4"/><stop offset="0.485" stop-color="#fffff5"/><stop offset="0.517" stop-color="#fffff4"/><stop offset="0.611" stop-color="#ffffd4"/><stop offset="0.738" stop-color="#ffff21"/><stop offset="0.759" stop-color="#ffff00"/><stop offset="0.864" stop-color="#ff9200"/><stop offset="0.999" stop-color="#ff0000"/><stop offset="1.000" stop-color="#fe0000"/></linearGradient><linearGradient id="g162" x2="0" y2="1"><stop offset="0.000" stop-color="#ff4300"/><stop offset="0.208" stop-color="#ffff00"/><stop offset="0.232" stop-color="#ffff21"/><stop offset="0.376" stop-color="#ffffd4"/><stop offset="0.487" stop-color="#fffff5"/><stop offset="0.519" stop-color="#fffff4"/><stop offset="0.613" stop-color="#ffffd4"/><stop offset="0.739" stop-color="#ffff21"/><stop offset="0.761" stop-color="#ffff00"/><stop offset="0.866" stop-color="#ff9200"/><stop offset="1.000" stop-color="#ff0100"/></linearGradient><linearGradient id="g163" x2="0" y2="1"><stop offset="0.000" stop-color="#ff4200"/><stop offset="0.209" stop-color="#ffff00"/><stop offset="0.233" stop-color="#ffff21"/><stop offset="0.377" stop-color="#ffffd4"/><stop offset="0.488" stop-color="#fffff5"/><stop offset="0.521" stop-color="#fffff4"/><stop offset="0.615" stop-color="#ffffd4"/><stop offset="0.741" stop-color="#ffff21"/><stop offset="0.762" stop-color="#ffff00"/><stop offset="0.868" stop-color="#ff9200"/><stop offset="1.000" stop-color="#ff0400"/></linearGradient><linearGradient id="g164" x2="0" y2="1"><stop offset="0.000" stop-color="#ff4100"/><stop offset="0.211" stop-color="#ffff00"/><stop offset="0.235" stop-color="#ffff21"/><stop offset="0.379" stop-color="#ffffd4"/><stop offset="0.489" stop-color="#fffff5"/><stop offset="0.523" stop-color="#fffff4"/><stop offset="0.616" stop-color="#ffffd4"/><stop offset="0.743" stop-color="#ffff21"/><stop offset="0.764" stop-color="#ffff00"/><stop offset="0.870" stop-color="#ff9200"/><stop offset="1.000" stop-color="#ff0700"/></linearGradient><linearGradient id="g165" x2="0" y2="1"><stop offset="0.000" stop-color="#ff3f00"/><stop offset="0.213" stop-color="#ffff00"/><stop offset="0.237" stop-color="#ffff21"/><stop offset="0.381" stop-color="#ffffd4"/><stop offset="0.491" stop-color="#fffff5"/><stop offset="0.525" stop-color="#fffff3"/><stop offset="0.618" stop-color="#ffffd4"/><stop offset="0.745" stop-color="#ffff21"/><stop offset="0.766" stop-color="#ffff00"/><stop offset="0.872" stop-color="#ff9200"/><stop offset="1.000" stop-color="#ff0900"/></linearGradient><linearGradient id="g166" x2="0" y2="1"><stop offset="0.000" stop-color="#ff3e00"/><stop offset="0.214" stop-color="#ffff00"/><stop offset="0.238" stop-color="#ffff21"/><stop offset="0.382" stop-color="#ffffd4"/><stop offset="0.492" stop-color="#fffff5"/><stop offset="0.527" stop-color="#fffff3"/><stop offset="0.619" stop-color="#ffffd4"/><stop offset="0.747" stop-color="#ffff21"/><stop offset="0.768" stop-color="#ffff00"/><stop offset="0.875" stop-color="#ff9200"/><stop offset="1.000" stop-color="#ff0c00"/></linearGradient><linearGradient id="g167" x2="0" y2="1"><stop offset="0.000" stop-color="#ff3d00"/><stop offset="0.216" stop-color="#ffff00"/><stop offset="0.240" stop-color="#ffff21"/><stop offset="0.384" stop-color="#ffffd4"/><stop offset="0.493" stop-color="#fffff5"/><stop offset="0.529" stop-color="#fffff3"/><stop offset="0.621" stop-color="#ffffd4"/><stop offset="0.749" stop-color="#ffff21"/><stop offset="0.770" stop-color="#ffff00"/><stop offset="0.877" stop-color="#ff9200"/><stop offset="1.000" stop-color="#ff0f00"/></linearGradient><linearGradient id="g168" x2="0" y2="1"><stop offset="0.000" stop-color="#ff3b00"/><stop offset="0.217" stop-color="#ffff00"/><stop offset="0.241" stop-color="#ffff21"/><stop offset="0.386" stop-color="#ffffd4"/><stop offset="0.495" stop-color="#fffff4"/><stop offset="0.530" stop-color="#fffff3"/><stop offset="0.623" stop-color="#ffffd4"/><stop offset="0.751" stop-color="#ffff21"/><stop offset="0.772" stop-color="#ffff00"/><stop offset="0.879" stop-color="#ff9200"/><stop offset="1.000" stop-color="#ff1100"/></linearGradient><linearGradient id="g169" x2="0" y2="1"><stop offset="0.000" stop-color="#ff3a00"/><stop offset="0.219" stop-color="#ffff00"/><stop offset="0.243" stop-color="#ffff21"/><stop offset="0.388" stop-color="#ffffd4"/><stop offset="0.496" stop-color="#fffff4"/><stop offset="0.532" stop-color="#fffff3"/><stop offset="0.624" stop-color="#ffffd4"/><stop offset="0.753" stop-color="#ffff21"/><stop offset="0.774" stop-color="#ffff00"/><stop offset="0.881" stop-color="#ff9200"/><stop offset="1.000" stop-color="#ff1400"/></linearGradient><linearGradient id="g170" x2="0" y2="1"><stop offset="0.000" stop-color="#ff3900"/><stop offset="0.221" stop-color="#ffff00"/><stop offset="0.245" stop-color="#ffff21"/><stop offset="0.389" stop-color="#ffffd4"/><stop offset="0.497" stop-color="#fffff4"/><stop offset="0.534" stop-color="#fffff3"/><stop offset="0.626" stop-color="#ffffd4"/><stop offset="0.755" stop-color="#ffff21"/><stop offset="0.776" stop-color="#ffff00"/><stop offset="0.883" stop-color="#ff9200"/><stop offset="1.000" stop-color="#ff1700"/></linearGradient><linearGradient id="g171" x2="0" y2="1"><stop offset="0.000" stop-color="#ff3700"/><stop offset="0.222" stop-color="#ffff00"/><stop offset="0.246" stop-color="#ffff21"/><stop offset="0.391" stop-color="#ffffd4"/><stop offset="0.499" stop-color="#fffff4"/><stop offset="0.536" stop-color="#fffff3"/><stop offset="0.628" stop-color="#ffffd4"/><stop offset="0.757" stop-color="#ffff21"/><stop offset="0.778" stop-color="#ffff00"/><stop offset="0.886" stop-color="#ff9200"/><stop offset="1.000" stop-color="#ff1900"/></linearGradient><linearGradient id="g172" x2="0" y2="1"><stop offset="0.000" stop-color="#ff3600"/><stop offset="0.224" stop-color="#ffff00"/><stop offset="0.248" stop-color="#ffff21"/><stop offset="0.393" stop-color="#ffffd4"/><stop offset="0.500" stop-color="#fffff4"/><stop offset="0.538" stop-color="#fffff2"/><stop offset="0.629" stop-color="#ffffd4"/><stop offset="0.759" stop-color="#ffff21"/><stop offset="0.780" stop-color="#ffff00"/><stop offset="0.888" stop-color="#ff9200"/><stop offset="1.000" stop-color="#ff1c00"/></linearGradient><linearGradient id="g173" x2="0" y2="1"><stop offset="0.000" stop-color="#ff3500"/><stop offset="0.226" stop-color="#ffff00"/><stop offset="0.250" stop-color="#ffff21"/><stop offset="0.395" stop-color="#ffffd4"/><stop offset="0.501" stop-color="#fffff4"/><stop offset="0.540" stop-color="#fffff2"/><stop offset="0.631" stop-color="#ffffd4"/><stop offset="0.761" stop-color="#ffff21"/><stop offset="0.782" stop-color="#ffff00"/><stop offset="0.890" stop-color="#ff9200"/><stop offset="1.000" stop-color="#ff1e00"/></linearGradient><linearGradient id="g174" x2="0" y2="1"><stop offset="0.000" stop-color="#ff3300"/><stop offset="0.227" stop-color="#ffff00"/><stop offset="0.251" stop-color="#ffff21"/><stop offset="0.396" stop-color="#ffffd4"/><stop offset="0.503" stop-color="#fffff4"/><stop offset="0.541" stop-color="#fffff2"/><stop offset="0.633" stop-color="#ffffd4"/><stop offset="0.763" stop-color="#ffff21"/><stop offset="0.784" stop-color="#ffff00"/><stop offset="0.892" stop-color="#ff9200"/><stop offset="1.000" stop-color="#ff2100"/></linearGradient><linearGradient id="g175" x2="0" y2="1"><stop offset="0.000" stop-color="#ff3200"/><stop offset="0.229" stop-color="#ffff00"/><stop offset="0.253" stop-color="#ffff21"/><stop offset="0.398" stop-color="#ffffd4"/><stop offset="0.504" stop-color="#fffff3"/><stop offset="0.543" stop-color="#fffff2"/><stop offset="0.634" stop-color="#ffffd4"/><stop offset="0.765" stop-color="#ffff21"/><stop offset="0.786" stop-color="#ffff00"/><stop offset="0.895" stop-color="#ff9200"/><stop offset="1.000" stop-color="#ff2400"/></linearGradient><linearGradient id="g176" x2="0" y2="1"><stop offset="0.000" stop-color="#ff3100"/><stop offset="0.231" stop-color="#ffff00"/><stop offset="0.255" stop-color="#ffff21"/><stop offset="0.400" stop-color="#ffffd4"/><stop offset="0.505" stop-color="#fffff3"/><stop offset="0.545" stop-color="#fffff2"/><stop offset="0.636" stop-color="#ffffd4"/><stop offset="0.767" stop-color="#ffff21"/><stop offset="0.788" stop-color="#ffff00"/><stop offset="0.897" stop-color="#ff9200"/><stop offset="1.000" stop-color="#ff2600"/></linearGradient><linearGradient id="g177" x2="0" y2="1"><stop offset="0.000" stop-color="#ff2f00"/><stop offset="0.232" stop-color="#ffff00"/><stop offset="0.256" stop-color="#ffff21"/><stop offset="0.402" stop-color="#ffffd4"/><stop offset="0.507" stop-color="#fffff3"/><stop offset="0.547" stop-color="#fffff2"/><stop offset="0.638" stop-color="#ffffd4"/><stop offset="0.769" stop-color="#ffff21"/><stop offset="0.790" stop-color="#ffff00"/><stop offset="0.899" stop-color="#ff9200"/><stop offset="1.000" stop-color="#ff2900"/></linearGradient><linearGradient id="g178" x2="0" y2="1"><stop offset="0.000" stop-color="#ff2e00"/><stop offset="0.234" stop-color="#ffff00"/><stop offset="0.258" stop-color="#ffff21"/><stop offset="0.404" stop-color="#ffffd4"/><stop offset="0.508" stop-color="#fffff3"/><stop offset="0.549" stop-color="#fffff2"/><stop offset="0.639" stop-color="#ffffd4"/><stop offset="0.770" stop-color="#ffff21"/><stop offset="0.792" stop-color="#ffff00"/><stop offset="0.902" stop-color="#ff9200"/><stop offset="1.000" stop-color="#ff2c00"/></linearGradient><linearGradient id="g179" x2="0" y2="1"><stop offset="0.000" stop-color="#ff2d00"/><stop offset="0.236" stop-color="#ffff00"/><stop offset="0.260" stop-color="#ffff21"/><stop offset="0.405" stop-color="#ffffd4"/><stop offset="0.510" stop-color="#fffff3"/><stop offset="0.551" stop-color="#fffff2"/><stop offset="0.641" stop-color="#ffffd4"/><stop offset="0.772" stop-color="#ffff21"/><stop offset="0.794" stop-color="#ffff00"/><stop offset="0.904" stop-color="#ff9200"/><stop offset="1.000" stop-color="#ff2e00"/></linearGradient><linearGradient id="g180" x2="0" y2="1"><stop offset="0.000" stop-color="#ff2b00"/><stop offset="0.237" stop-color="#ffff00"/><stop offset="0.262" stop-color="#ffff21"/><stop offset="0.407" stop-color="#ffffd4"/><stop offset="0.511" stop-color="#fffff3"/><stop offset="0.553" stop-color="#fffff1"/><stop offset="0.643" stop-color="#ffffd4"/><stop offset="0.774" stop-color="#ffff21"/><stop offset="0.796" stop-color="#ffff00"/><stop offset="0.906" stop-color="#ff9200"/><stop offset="1.000" stop-color="#ff3100"/></linearGradient><linearGradient id="g181" x2="0" y2="1"><stop offset="0.000" stop-color="#ff2a00"/><stop offset="0.239" stop-color="#ffff00"/><stop offset="0.263" stop-color="#ffff21"/><stop offset="0.409" stop-color="#ffffd4"/><stop offset="0.512" stop-color="#fffff3"/><stop offset="0.555" stop-color="#fffff1"/><stop offset="0.644" stop-color="#ffffd4"/><stop offset="0.776" stop-color="#ffff21"/><stop offset="0.798" stop-color="#ffff00"/><stop offset="0.909" stop-color="#ff9200"/><stop offset="1.000" stop-color="#ff3400"/></linearGradient><linearGradient id="g182" x2="0" y2="1"><stop offset="0.000" stop-color="#ff2900"/><stop offset="0.241" stop-color="#ffff00"/><stop offset="0.265" stop-color="#ffff21"/><stop offset="0.411" stop-color="#ffffd4"/><stop offset="0.514" stop-color="#fffff2"/><stop offset="0.557" stop-color="#fffff1"/><stop offset="0.646" stop-color="#ffffd4"/><stop offset="0.778" stop-color="#ffff21"/><stop offset="0.800" stop-color="#ffff00"/><stop offset="0.911" stop-color="#ff9200"/><stop offset="1.000" stop-color="#ff3600"/></linearGradient><linearGradient id="g183" x2="0" y2="1"><stop offset="0.000" stop-color="#ff2700"/><stop offset="0.242" stop-color="#ffff00"/><stop offset="0.267" stop-color="#ffff21"/><stop offset="0.412" stop-color="#ffffd4"/><stop offset="0.515" stop-color="#fffff2"/><stop offset="0.558" stop-color="#fffff1"/><stop offset="0.648" stop-color="#ffffd4"/><stop offset="0.780" stop-color="#ffff21"/><stop offset="0.803" stop-color="#ffff00"/><stop offset="0.913" stop-color="#ff9200"/><stop offset="1.000" stop-color="#ff3900"/></linearGradient><linearGradient id="g184" x2="0" y2="1"><stop offset="0.000" stop-color="#ff2600"/><stop offset="0.244" stop-color="#ffff00"/><stop offset="0.268" stop-color="#ffff21"/><stop offset="0.414" stop-color="#ffffd4"/><stop offset="0.516" stop-color="#fffff2"/><stop offset="0.560" stop-color="#fffff1"/><stop offset="0.649" stop-color="#ffffd4"/><stop offset="0.783" stop-color="#ffff21"/><stop offset="0.805" stop-color="#ffff00"/><stop offset="0.915" stop-color="#ff9200"/><stop offset="1.000" stop-color="#ff3b00"/></linearGradient><linearGradient id="g185" x2="0" y2="1"><stop offset="0.000" stop-color="#ff2400"/><stop offset="0.246" stop-color="#ffff00"/><stop offset="0.270" stop-color="#ffff21"/><stop offset="0.416" stop-color="#ffffd4"/><stop offset="0.518" stop-color="#fffff2"/><stop offset="0.562" stop-color="#fffff1"/><stop offset="0.651" stop-color="#ffffd4"/><stop offset="0.784" stop-color="#ffff21"/><stop offset="0.807" stop-color="#ffff00"/><stop offset="0.918" stop-color="#ff9200"/><stop offset="1.000" stop-color="#ff3e00"/></linearGradient><linearGradient id="g186" x2="0" y2="1"><stop offset="0.000" stop-color="#ff2300"/><stop offset="0.248" stop-color="#ffff00"/><stop offset="0.272" stop-color="#ffff21"/><stop offset="0.418" stop-color="#ffffd4"/><stop offset="0.519" stop-color="#fffff2"/><stop offset="0.564" stop-color="#fffff1"/><stop offset="0.653" stop-color="#ffffd4"/><stop offset="0.787" stop-color="#ffff21"/><stop offset="0.809" stop-color="#ffff00"/><stop offset="0.920" stop-color="#ff9200"/><stop offset="1.000" stop-color="#ff4100"/></linearGradient><linearGradient id="g187" x2="0" y2="1"><stop offset="0.000" stop-color="#ff2200"/><stop offset="0.127" stop-color="#ff9200"/><stop offset="0.249" stop-color="#ffff00"/><stop offset="0.274" stop-color="#ffff21"/><stop offset="0.420" stop-color="#ffffd4"/><stop offset="0.521" stop-color="#fffff2"/><stop offset="0.566" stop-color="#fffff1"/><stop offset="0.655" stop-color="#ffffd4"/><stop offset="0.789" stop-color="#ffff21"/><stop offset="0.811" stop-color="#ffff00"/><stop offset="0.923" stop-color="#ff9200"/><stop offset="1.000" stop-color="#ff4300"/></linearGradient><linearGradient id="g188" x2="0" y2="1"><stop offset="0.000" stop-color="#ff2000"/><stop offset="0.251" stop-color="#ffff00"/><stop offset="0.275" stop-color="#ffff21"/><stop offset="0.422" stop-color="#ffffd4"/><stop offset="0.522" stop-color="#fffff2"/><stop offset="0.568" stop-color="#fffff0"/><stop offset="0.656" stop-color="#ffffd4"/><stop offset="0.791" stop-color="#ffff21"/><stop offset="0.813" stop-color="#ffff00"/><stop offset="0.925" stop-color="#ff9200"/><stop offset="1.000" stop-color="#ff4600"/></linearGradient><linearGradient id="g189" x2="0" y2="1"><stop offset="0.000" stop-color="#ff1f00"/><stop offset="0.253" stop-color="#ffff00"/><stop offset="0.277" stop-color="#ffff20"/><stop offset="0.423" stop-color="#ffffd4"/><stop offset="0.523" stop-color="#fffff1"/><stop offset="0.570" stop-color="#fffff0"/><stop offset="0.658" stop-color="#ffffd4"/><stop offset="0.793" stop-color="#ffff20"/><stop offset="0.815" stop-color="#ffff00"/><stop offset="0.927" stop-color="#ff9200"/><stop offset="1.000" stop-color="#ff4800"/></linearGradient><linearGradient id="g190" x2="0" y2="1"><stop offset="0.000" stop-color="#ff1d00"/><stop offset="0.255" stop-color="#ffff00"/><stop offset="0.279" stop-color="#ffff20"/><stop offset="0.425" stop-color="#ffffd4"/><stop offset="0.525" stop-color="#fffff1"/><stop offset="0.572" stop-color="#ffffef"/><stop offset="0.660" stop-color="#ffffd4"/><stop offset="0.795" stop-color="#ffff20"/><stop offset="0.817" stop-color="#ffff00"/><stop offset="0.930" stop-color="#ff9200"/><stop offset="1.000" stop-color="#ff4b00"/></linearGradient><linearGradient id="g191" x2="0" y2="1"><stop offset="0.000" stop-color="#ff1b00"/><stop offset="0.257" stop-color="#ffff00"/><stop offset="0.281" stop-color="#ffff20"/><stop offset="0.427" stop-color="#ffffd3"/><stop offset="0.526" stop-color="#fffff0"/><stop offset="0.574" stop-color="#ffffef"/><stop offset="0.662" stop-color="#ffffd3"/><stop offset="0.797" stop-color="#ffff20"/><stop offset="0.819" stop-color="#ffff00"/><stop offset="0.932" stop-color="#ff9200"/><stop offset="1.000" stop-color="#ff4d00"/></linearGradient><linearGradient id="g192" x2="0" y2="1"><stop offset="0.000" stop-color="#ff1a00"/><stop offset="0.259" stop-color="#ffff00"/><stop offset="0.282" stop-color="#ffff1f"/><stop offset="0.429" stop-color="#ffffd3"/><stop offset="0.528" stop-color="#fffff0"/><stop offset="0.576" stop-color="#ffffee"/><stop offset="0.663" stop-color="#ffffd3"/><stop offset="0.799" stop-color="#ffff1f"/><stop offset="0.821" stop-color="#ffff00"/><stop offset="0.934" stop-color="#ff9200"/><stop offset="1.000" stop-color="#ff5000"/></linearGradient><linearGradient id="g193" x2="0" y2="1"><stop offset="0.000" stop-color="#ff1800"/><stop offset="0.261" stop-color="#ffff00"/><stop offset="0.284" stop-color="#ffff1f"/><stop offset="0.431" stop-color="#ffffd2"/><stop offset="0.529" stop-color="#ffffef"/><stop offset="0.577" stop-color="#ffffee"/><stop offset="0.665" stop-color="#ffffd2"/><stop offset="0.801" stop-color="#ffff1f"/><stop offset="0.823" stop-color="#ffff00"/><stop offset="0.937" stop-color="#ff9100"/><stop offset="1.000" stop-color="#ff5200"/></linearGradient><linearGradient id="g194" x2="0" y2="1"><stop offset="0.000" stop-color="#ff1700"/><stop offset="0.139" stop-color="#ff9100"/><stop offset="0.263" stop-color="#ffff00"/><stop offset="0.286" stop-color="#ffff1f"/><stop offset="0.433" stop-color="#ffffd2"/><stop offset="0.530" stop-color="#ffffee"/><stop offset="0.579" stop-color="#ffffed"/><stop offset="0.667" stop-color="#ffffd2"/><stop offset="0.803" stop-color="#ffff1f"/><stop offset="0.824" stop-color="#ffff00"/><stop offset="0.939" stop-color="#ff9100"/><stop offset="1.000" stop-color="#ff5400"/></linearGradient><linearGradient id="g195" x2="0" y2="1"><stop offset="0.000" stop-color="#ff1500"/><stop offset="0.265" stop-color="#ffff00"/><stop offset="0.288" stop-color="#ffff1e"/><stop offset="0.435" stop-color="#ffffd2"/><stop offset="0.532" stop-color="#ffffee"/><stop offset="0.581" stop-color="#ffffed"/><stop offset="0.669" stop-color="#ffffd2"/><stop offset="0.805" stop-color="#ffff1f"/><stop offset="0.826" stop-color="#ffff00"/><stop offset="0.942" stop-color="#ff9100"/><stop offset="1.000" stop-color="#ff5700"/></linearGradient><linearGradient id="g196" x2="0" y2="1"><stop offset="0.000" stop-color="#ff1400"/><stop offset="0.267" stop-color="#ffff00"/><stop offset="0.290" stop-color="#ffff1e"/><stop offset="0.436" stop-color="#ffffd1"/><stop offset="0.533" stop-color="#ffffed"/><stop offset="0.583" stop-color="#ffffec"/><stop offset="0.670" stop-color="#ffffd1"/><stop offset="0.807" stop-color="#ffff1e"/><stop offset="0.828" stop-color="#ffff00"/><stop offset="0.944" stop-color="#ff9100"/><stop offset="1.000" stop-color="#ff5900"/></linearGradient><linearGradient id="g197" x2="0" y2="1"><stop offset="0.000" stop-color="#ff1200"/><stop offset="0.269" stop-color="#ffff00"/><stop offset="0.291" stop-color="#ffff1e"/><stop offset="0.438" stop-color="#ffffd1"/><stop offset="0.535" stop-color="#ffffed"/><stop offset="0.585" stop-color="#ffffec"/><stop offset="0.672" stop-color="#ffffd1"/><stop offset="0.809" stop-color="#ffff1e"/><stop offset="0.830" stop-color="#ffff00"/><stop offset="0.946" stop-color="#ff9100"/><stop offset="1.000" stop-color="#ff5c00"/></linearGradient><linearGradient id="g198" x2="0" y2="1"><stop offset="0.000" stop-color="#ff1000"/><stop offset="0.271" stop-color="#ffff00"/><stop offset="0.293" stop-color="#ffff1e"/><stop offset="0.440" stop-color="#ffffd0"/><stop offset="0.536" stop-color="#ffffec"/><stop offset="0.587" stop-color="#ffffeb"/><stop offset="0.674" stop-color="#ffffd0"/><stop offset="0.811" stop-color="#ffff1d"/><stop offset="0.832" stop-color="#ffff00"/><stop offset="0.949" stop-color="#ff9100"/><stop offset="1.000" stop-color="#ff5e00"/></linearGradient><linearGradient id="g199" x2="0" y2="1"><stop offset="0.000" stop-color="#ff0f00"/><stop offset="0.148" stop-color="#ff9000"/><stop offset="0.273" stop-color="#ffff00"/><stop offset="0.295" stop-color="#ffff1d"/><stop offset="0.442" stop-color="#ffffd0"/><stop offset="0.538" stop-color="#ffffec"/><stop offset="0.589" stop-color="#ffffeb"/><stop offset="0.676" stop-color="#ffffd0"/><stop offset="0.814" stop-color="#ffff1d"/><stop offset="0.834" stop-color="#ffff00"/><stop offset="0.951" stop-color="#ff9000"/><stop offset="1.000" stop-color="#ff6000"/></linearGradient><linearGradient id="g200" x2="0" y2="1"><stop offset="0.000" stop-color="#ff0e00"/><stop offset="0.150" stop-color="#ff9000"/><stop offset="0.275" stop-color="#ffff00"/><stop offset="0.297" stop-color="#ffff1d"/><stop offset="0.444" stop-color="#ffffd0"/><stop offset="0.539" stop-color="#ffffeb"/><stop offset="0.591" stop-color="#ffffea"/><stop offset="0.677" stop-color="#ffffcf"/><stop offset="0.816" stop-color="#ffff1d"/><stop offset="0.836" stop-color="#ffff00"/><stop offset="0.954" stop-color="#ff9000"/><stop offset="1.000" stop-color="#ff6300"/></linearGradient><linearGradient id="g201" x2="0" y2="1"><stop offset="0.000" stop-color="#ff0c00"/><stop offset="0.277" stop-color="#ffff00"/><stop offset="0.299" stop-color="#ffff1c"/><stop offset="0.446" stop-color="#ffffcf"/><stop offset="0.541" stop-color="#ffffeb"/><stop offset="0.593" stop-color="#ffffea"/><stop offset="0.679" stop-color="#ffffcf"/><stop offset="0.818" stop-color="#ffff1c"/><stop offset="0.838" stop-color="#ffff00"/><stop offset="0.956" stop-color="#ff9000"/><stop offset="1.000" stop-color="#ff6500"/></linearGradient><linearGradient id="g202" x2="0" y2="1"><stop offset="0.000" stop-color="#ff0b00"/><stop offset="0.006" stop-color="#ff0f00"/><stop offset="0.279" stop-color="#ffff00"/><stop offset="0.301" stop-color="#ffff1c"/><stop offset="0.448" stop-color="#ffffcf"/><stop offset="0.542" stop-color="#ffffea"/><stop offset="0.595" stop-color="#ffffe9"/><stop offset="0.681" stop-color="#ffffcf"/><stop offset="0.820" stop-color="#ffff1c"/><stop offset="0.840" stop-color="#ffff00"/><stop offset="0.959" stop-color="#ff9000"/><stop offset="1.000" stop-color="#ff6800"/></linearGradient><linearGradient id="g203" x2="0" y2="1"><stop offset="0.000" stop-color="#ff0a00"/><stop offset="0.008" stop-color="#ff0f00"/><stop offset="0.282" stop-color="#ffff00"/><stop offset="0.303" stop-color="#ffff1c"/><stop offset="0.450" stop-color="#ffffce"/><stop offset="0.544" stop-color="#ffffe9"/><stop offset="0.597" stop-color="#ffffe8"/><stop offset="0.683" stop-color="#ffffce"/><stop offset="0.822" stop-color="#ffff1c"/><stop offset="0.842" stop-color="#ffff00"/><stop offset="0.961" stop-color="#ff9000"/><stop offset="1.000" stop-color="#ff6a00"/></linearGradient><linearGradient id="g204" x2="0" y2="1"><stop offset="0.000" stop-color="#ff0800"/><stop offset="0.010" stop-color="#ff0f00"/><stop offset="0.284" stop-color="#ffff00"/><stop offset="0.304" stop-color="#ffff1b"/><stop offset="0.452" stop-color="#ffffce"/><stop offset="0.545" stop-color="#ffffe9"/><stop offset="0.599" stop-color="#ffffe8"/><stop offset="0.685" stop-color="#ffffce"/><stop offset="0.824" stop-color="#ffff1b"/><stop offset="0.844" stop-color="#ffff00"/><stop offset="0.964" stop-color="#ff9000"/><stop offset="1.000" stop-color="#ff6c00"/></linearGradient><linearGradient id="g205" x2="0" y2="1"><stop offset="0.000" stop-color="#ff0700"/><stop offset="0.012" stop-color="#ff0f00"/><stop offset="0.159" stop-color="#ff8f00"/><stop offset="0.286" stop-color="#ffff00"/><stop offset="0.306" stop-color="#ffff1b"/><stop offset="0.454" stop-color="#ffffcd"/><stop offset="0.546" stop-color="#ffffe8"/><stop offset="0.601" stop-color="#ffffe7"/><stop offset="0.686" stop-color="#ffffcd"/><stop offset="0.826" stop-color="#ffff1b"/><stop offset="0.846" stop-color="#ffff00"/><stop offset="1.000" stop-color="#ff6f00"/></linearGradient><linearGradient id="g206" x2="0" y2="1"><stop offset="0.000" stop-color="#ff0600"/><stop offset="0.013" stop-color="#ff0f00"/><stop offset="0.288" stop-color="#ffff00"/><stop offset="0.308" stop-color="#ffff1b"/><stop offset="0.455" stop-color="#ffffcd"/><stop offset="0.548" stop-color="#ffffe8"/><stop offset="0.603" stop-color="#ffffe7"/><stop offset="0.688" stop-color="#ffffcd"/><stop offset="0.828" stop-color="#ffff1b"/><stop offset="0.848" stop-color="#ffff00"/><stop offset="1.000" stop-color="#ff7100"/></linearGradient><linearGradient id="g207" x2="0" y2="1"><stop offset="0.000" stop-color="#ff0400"/><stop offset="0.015" stop-color="#ff0f00"/><stop offset="0.290" stop-color="#ffff00"/><stop offset="0.310" stop-color="#ffff1a"/><stop offset="0.457" stop-color="#ffffcc"/><stop offset="0.549" stop-color="#ffffe7"/><stop offset="0.605" stop-color="#ffffe6"/><stop offset="0.690" stop-color="#ffffcc"/><stop offset="0.831" stop-color="#ffff1a"/><stop offset="0.850" stop-color="#ffff00"/><stop offset="0.971" stop-color="#ff8f00"/><stop offset="1.000" stop-color="#ff7300"/></linearGradient><linearGradient id="g208" x2="0" y2="1"><stop offset="0.000" stop-color="#ff0300"/><stop offset="0.017" stop-color="#ff0f00"/><stop offset="0.292" stop-color="#ffff00"/><stop offset="0.312" stop-color="#ffff1a"/><stop offset="0.459" stop-color="#ffffcc"/><stop offset="0.551" stop-color="#ffffe6"/><stop offset="0.607" stop-color="#ffffe6"/><stop offset="0.692" stop-color="#ffffcc"/><stop offset="0.833" stop-color="#ffff1a"/><stop offset="0.852" stop-color="#ffff00"/><stop offset="1.000" stop-color="#ff7600"/></linearGradient><linearGradient id="g209" x2="0" y2="1"><stop offset="0.000" stop-color="#ff0200"/><stop offset="0.019" stop-color="#ff0f00"/><stop offset="0.294" stop-color="#ffff00"/><stop offset="0.314" stop-color="#ffff1a"/><stop offset="0.461" stop-color="#ffffcc"/><stop offset="0.552" stop-color="#ffffe6"/><stop offset="0.609" stop-color="#ffffe5"/><stop offset="0.694" stop-color="#ffffcc"/><stop offset="0.835" stop-color="#ffff1a"/><stop offset="0.854" stop-color="#ffff00"/><stop offset="0.976" stop-color="#ff8f00"/><stop offset="1.000" stop-color="#ff7800"/></linearGradient><linearGradient id="g210" x2="0" y2="1"><stop offset="0.000" stop-color="#ff0000"/><stop offset="0.021" stop-color="#ff0e00"/><stop offset="0.296" stop-color="#ffff00"/><stop offset="0.316" stop-color="#ffff19"/><stop offset="0.463" stop-color="#ffffcb"/><stop offset="0.554" stop-color="#ffffe5"/><stop offset="0.611" stop-color="#ffffe5"/><stop offset="0.696" stop-color="#ffffcb"/><stop offset="0.837" stop-color="#ffff19"/><stop offset="0.856" stop-color="#ffff00"/><stop offset="0.979" stop-color="#ff8f00"/><stop offset="1.000" stop-color="#ff7a00"/></linearGradient><linearGradient id="g211" x2="0" y2="1"><stop offset="0.000" stop-color="#fe0000"/><stop offset="0.023" stop-color="#ff0e00"/><stop offset="0.299" stop-color="#ffff00"/><stop offset="0.318" stop-color="#ffff19"/><stop offset="0.465" stop-color="#ffffcb"/><stop offset="0.555" stop-color="#ffffe5"/><stop offset="0.613" stop-color="#ffffe4"/><stop offset="0.697" stop-color="#ffffcb"/><stop offset="0.839" stop-color="#ffff19"/><stop offset="0.858" stop-color="#ffff00"/><stop offset="1.000" stop-color="#ff7d00"/></linearGradient><linearGradient id="g212" x2="0" y2="1"><stop offset="0.000" stop-color="#fd0000"/><stop offset="0.003" stop-color="#ff0000"/><stop offset="0.024" stop-color="#ff0e00"/><stop offset="0.301" stop-color="#ffff00"/><stop offset="0.320" stop-color="#ffff19"/><stop offset="0.467" stop-color="#ffffca"/><stop offset="0.557" stop-color="#ffffe4"/><stop offset="0.615" stop-color="#ffffe3"/><stop offset="0.699" stop-color="#ffffca"/><stop offset="0.842" stop-color="#ffff19"/><stop offset="0.860" stop-color="#ffff00"/><stop offset="1.000" stop-color="#ff7f00"/></linearGradient><linearGradient id="g213" x2="0" y2="1"><stop offset="0.000" stop-color="#fb0000"/><stop offset="0.006" stop-color="#ff0000"/><stop offset="0.026" stop-color="#ff0e00"/><stop offset="0.303" stop-color="#ffff00"/><stop offset="0.321" stop-color="#ffff18"/><stop offset="0.469" stop-color="#ffffca"/><stop offset="0.558" stop-color="#ffffe3"/><stop offset="0.617" stop-color="#ffffe3"/><stop offset="0.701" stop-color="#ffffca"/><stop offset="0.844" stop-color="#ffff18"/><stop offset="0.862" stop-color="#ffff00"/><stop offset="1.000" stop-color="#ff8100"/></linearGradient><linearGradient id="g214" x2="0" y2="1"><stop offset="0.000" stop-color="#fa0000"/><stop offset="0.008" stop-color="#ff0000"/><stop offset="0.028" stop-color="#ff0e00"/><stop offset="0.305" stop-color="#ffff00"/><stop offset="0.323" stop-color="#ffff18"/><stop offset="0.471" stop-color="#ffffc9"/><stop offset="0.560" stop-color="#ffffe3"/><stop offset="0.619" stop-color="#ffffe2"/><stop offset="0.703" stop-color="#ffffc9"/><stop offset="0.846" stop-color="#ffff18"/><stop offset="0.864" stop-color="#ffff00"/><stop offset="0.989" stop-color="#ff8e00"/><stop offset="1.000" stop-color="#ff8300"/></linearGradient><linearGradient id="g215" x2="0" y2="1"><stop offset="0.000" stop-color="#f80000"/><stop offset="0.010" stop-color="#ff0000"/><stop offset="0.030" stop-color="#ff0e00"/><stop offset="0.307" stop-color="#ffff00"/><stop offset="0.325" stop-color="#ffff17"/><stop offset="0.473" stop-color="#ffffc9"/><stop offset="0.561" stop-color="#ffffe2"/><stop offset="0.621" stop-color="#ffffe2"/><stop offset="0.705" stop-color="#ffffc9"/><stop offset="0.848" stop-color="#ffff17"/><stop offset="0.866" stop-color="#ffff00"/><stop offset="1.000" stop-color="#ff8600"/></linearGradient><linearGradient id="g216" x2="0" y2="1"><stop offset="0.000" stop-color="#f70000"/><stop offset="0.012" stop-color="#ff0000"/><stop offset="0.032" stop-color="#ff0e00"/><stop offset="0.180" stop-color="#ff8d00"/><stop offset="0.310" stop-color="#ffff00"/><stop offset="0.327" stop-color="#ffff17"/><stop offset="0.475" stop-color="#ffffc8"/><stop offset="0.563" stop-color="#ffffe2"/><stop offset="0.623" stop-color="#ffffe1"/><stop offset="0.707" stop-color="#ffffc8"/><stop offset="0.850" stop-color="#ffff17"/><stop offset="0.868" stop-color="#ffff00"/><stop offset="1.000" stop-color="#ff8800"/></linearGradient><linearGradient id="g217" x2="0" y2="1"><stop offset="0.000" stop-color="#f60000"/><stop offset="0.014" stop-color="#ff0000"/><stop offset="0.034" stop-color="#ff0e00"/><stop offset="0.312" stop-color="#ffff00"/><stop offset="0.329" stop-color="#ffff17"/><stop offset="0.477" stop-color="#ffffc8"/><stop offset="0.564" stop-color="#ffffe1"/><stop offset="0.625" stop-color="#ffffe0"/><stop offset="0.709" stop-color="#ffffc8"/><stop offset="0.853" stop-color="#ffff17"/><stop offset="0.870" stop-color="#ffff00"/><stop offset="1.000" stop-color="#ff8a00"/></linearGradient><linearGradient id="g218" x2="0" y2="1"><stop offset="0.000" stop-color="#f40000"/><stop offset="0.016" stop-color="#ff0000"/><stop offset="0.036" stop-color="#ff0d00"/><stop offset="0.314" stop-color="#ffff00"/><stop offset="0.331" stop-color="#ffff16"/><stop offset="0.479" stop-color="#ffffc7"/><stop offset="0.566" stop-color="#ffffe0"/><stop offset="0.627" stop-color="#ffffe0"/><stop offset="0.710" stop-color="#ffffc7"/><stop offset="0.855" stop-color="#ffff16"/><stop offset="0.872" stop-color="#ffff00"/><stop offset="1.000" stop-color="#ff8d00"/></linearGradient><linearGradient id="g219" x2="0" y2="1"><stop offset="0.000" stop-color="#f30000"/><stop offset="0.018" stop-color="#ff0000"/><stop offset="0.038" stop-color="#ff0d00"/><stop offset="0.316" stop-color="#ffff00"/><stop offset="0.333" stop-color="#ffff16"/><stop offset="0.481" stop-color="#ffffc7"/><stop offset="0.567" stop-color="#ffffe0"/><stop offset="0.629" stop-color="#ffffdf"/><stop offset="0.712" stop-color="#ffffc7"/><stop offset="0.857" stop-color="#ffff16"/><stop offset="0.874" stop-color="#ffff00"/><stop offset="1.000" stop-color="#ff8f00"/></linearGradient><linearGradient id="g220" x2="0" y2="1"><stop offset="0.000" stop-color="#f10000"/><stop offset="0.020" stop-color="#ff0000"/><stop offset="0.039" stop-color="#ff0d00"/><stop offset="0.319" stop-color="#ffff00"/><stop offset="0.335" stop-color="#ffff15"/><stop offset="0.483" stop-color="#ffffc6"/><stop offset="0.569" stop-color="#ffffdf"/><stop offset="0.631" stop-color="#ffffdf"/><stop offset="0.714" stop-color="#ffffc6"/><stop offset="0.859" stop-color="#ffff15"/><stop offset="0.876" stop-color="#ffff00"/><stop offset="1.000" stop-color="#ff9100"/></linearGradient><linearGradient id="g221" x2="0" y2="1"><stop offset="0.000" stop-color="#f00000"/><stop offset="0.022" stop-color="#ff0000"/><stop offset="0.041" stop-color="#ff0d00"/><stop offset="0.321" stop-color="#ffff00"/><stop offset="0.337" stop-color="#ffff15"/><stop offset="0.485" stop-color="#ffffc6"/><stop offset="0.570" stop-color="#ffffde"/><stop offset="0.633" stop-color="#ffffde"/><stop offset="0.716" stop-color="#ffffc6"/><stop offset="0.862" stop-color="#ffff15"/><stop offset="0.878" stop-color="#ffff00"/><stop offset="1.000" stop-color="#ff9300"/></linearGradient><linearGradient id="g222" x2="0" y2="1"><stop offset="0.000" stop-color="#ee0000"/><stop offset="0.024" stop-color="#ff0000"/><stop offset="0.043" stop-color="#ff0d00"/><stop offset="0.323" stop-color="#ffff00"/><stop offset="0.339" stop-color="#ffff15"/><stop offset="0.487" stop-color="#ffffc5"/><stop offset="0.572" stop-color="#ffffde"/><stop offset="0.635" stop-color="#ffffdd"/><stop offset="0.718" stop-color="#ffffc5"/><stop offset="0.864" stop-color="#ffff15"/><stop offset="0.880" stop-color="#ffff00"/><stop offset="1.000" stop-color="#ff9500"/></linearGradient><linearGradient id="g223" x2="0" y2="1"><stop offset="0.000" stop-color="#ed0000"/><stop offset="0.026" stop-color="#ff0000"/><stop offset="0.045" stop-color="#ff0d00"/><stop offset="0.326" stop-color="#ffff00"/><stop offset="0.341" stop-color="#ffff14"/><stop offset="0.489" stop-color="#ffffc5"/><stop offset="0.574" stop-color="#ffffdd"/><stop offset="0.637" stop-color="#ffffdd"/><stop offset="0.720" stop-color="#ffffc5"/><stop offset="0.866" stop-color="#ffff14"/><stop offset="0.882" stop-color="#ffff00"/><stop offset="1.000" stop-color="#ff9700"/></linearGradient><linearGradient id="g224" x2="0" y2="1"><stop offset="0.000" stop-color="#ec0000"/><stop offset="0.029" stop-color="#ff0000"/><stop offset="0.047" stop-color="#ff0d00"/><stop offset="0.328" stop-color="#ffff00"/><stop offset="0.343" stop-color="#ffff14"/><stop offset="0.491" stop-color="#ffffc4"/><stop offset="0.575" stop-color="#ffffdc"/><stop offset="0.639" stop-color="#ffffdc"/><stop offset="0.722" stop-color="#ffffc4"/><stop offset="0.869" stop-color="#ffff14"/><stop offset="0.884" stop-color="#ffff00"/><stop offset="1.000" stop-color="#ff9900"/></linearGradient><linearGradient id="g225" x2="0" y2="1"><stop offset="0.000" stop-color="#ea0000"/><stop offset="0.031" stop-color="#ff0000"/><stop offset="0.049" stop-color="#ff0c00"/><stop offset="0.330" stop-color="#ffff00"/><stop offset="0.345" stop-color="#ffff13"/><stop offset="0.493" stop-color="#ffffc4"/><stop offset="0.577" stop-color="#ffffdc"/><stop offset="0.641" stop-color="#ffffdc"/><stop offset="0.724" stop-color="#ffffc4"/><stop offset="0.871" stop-color="#ffff13"/><stop offset="0.886" stop-color="#ffff00"/><stop offset="1.000" stop-color="#ff9b00"/></linearGradient><linearGradient id="g226" x2="0" y2="1"><stop offset="0.000" stop-color="#e90000"/><stop offset="0.033" stop-color="#ff0000"/><stop offset="0.051" stop-color="#ff0c00"/><stop offset="0.333" stop-color="#ffff00"/><stop offset="0.347" stop-color="#ffff13"/><stop offset="0.495" stop-color="#ffffc3"/><stop offset="0.578" stop-color="#ffffdb"/><stop offset="0.643" stop-color="#ffffdb"/><stop offset="0.726" stop-color="#ffffc3"/><stop offset="0.873" stop-color="#ffff13"/><stop offset="0.888" stop-color="#ffff00"/><stop offset="1.000" stop-color="#ff9d00"/></linearGradient><linearGradient id="g227" x2="0" y2="1"><stop offset="0.000" stop-color="#e70000"/><stop offset="0.035" stop-color="#ff0000"/><stop offset="0.053" stop-color="#ff0c00"/><stop offset="0.335" stop-color="#ffff00"/><stop offset="0.349" stop-color="#ffff13"/><stop offset="0.497" stop-color="#ffffc3"/><stop offset="0.580" stop-color="#ffffda"/><stop offset="0.645" stop-color="#ffffda"/><stop offset="0.728" stop-color="#ffffc3"/><stop offset="0.876" stop-color="#ffff13"/><stop offset="0.890" stop-color="#ffff00"/><stop offset="1.000" stop-color="#ffa000"/></linearGradient><linearGradient id="g228" x2="0" y2="1"><stop offset="0.000" stop-color="#e60000"/><stop offset="0.037" stop-color="#ff0000"/><stop offset="0.055" stop-color="#ff0c00"/><stop offset="0.337" stop-color="#ffff00"/><stop offset="0.351" stop-color="#ffff12"/><stop offset="0.499" stop-color="#ffffc2"/><stop offset="0.582" stop-color="#ffffda"/><stop offset="0.647" stop-color="#ffffda"/><stop offset="0.730" stop-color="#ffffc2"/><stop offset="0.878" stop-color="#ffff12"/><stop offset="0.892" stop-color="#ffff00"/><stop offset="1.000" stop-color="#ffa200"/></linearGradient><linearGradient id="g229" x2="0" y2="1"><stop offset="0.000" stop-color="#e40000"/><stop offset="0.040" stop-color="#ff0000"/><stop offset="0.057" stop-color="#ff0c00"/><stop offset="0.340" stop-color="#ffff00"/><stop offset="0.353" stop-color="#ffff12"/><stop offset="0.501" stop-color="#ffffc2"/><stop offset="0.584" stop-color="#ffffd9"/><stop offset="0.649" stop-color="#ffffd9"/><stop offset="0.732" stop-color="#ffffc2"/><stop offset="0.881" stop-color="#ffff12"/><stop offset="0.895" stop-color="#ffff00"/><stop offset="1.000" stop-color="#ffa400"/></linearGradient><linearGradient id="g230" x2="0" y2="1"><stop offset="0.000" stop-color="#e30000"/><stop offset="0.042" stop-color="#ff0000"/><stop offset="0.059" stop-color="#ff0c00"/><stop offset="0.207" stop-color="#ff8a00"/><stop offset="0.342" stop-color="#ffff00"/><stop offset="0.355" stop-color="#ffff11"/><stop offset="0.503" stop-color="#ffffc1"/><stop offset="0.586" stop-color="#ffffd9"/><stop offset="0.651" stop-color="#ffffd9"/><stop offset="0.735" stop-color="#ffffc1"/><stop offset="0.884" stop-color="#ffff11"/><stop offset="0.897" stop-color="#ffff00"/><stop offset="1.000" stop-color="#ffa700"/></linearGradient><linearGradient id="g231" x2="0" y2="1"><stop offset="0.000" stop-color="#e10000"/><stop offset="0.044" stop-color="#ff0000"/><stop offset="0.061" stop-color="#ff0c00"/><stop offset="0.209" stop-color="#ff8a00"/><stop offset="0.344" stop-color="#ffff00"/><stop offset="0.357" stop-color="#ffff11"/><stop offset="0.506" stop-color="#ffffc1"/><stop offset="0.588" stop-color="#ffffd8"/><stop offset="0.654" stop-color="#ffffd8"/><stop offset="0.737" stop-color="#ffffc1"/><stop offset="0.887" stop-color="#ffff11"/><stop offset="0.900" stop-color="#ffff00"/><stop offset="1.000" stop-color="#ffa900"/></linearGradient><linearGradient id="g232" x2="0" y2="1"><stop offset="0.000" stop-color="#e00000"/><stop offset="0.047" stop-color="#ff0000"/><stop offset="0.063" stop-color="#ff0b00"/><stop offset="0.347" stop-color="#ffff00"/><stop offset="0.508" stop-color="#ffffc0"/><stop offset="0.590" stop-color="#ffffd8"/><stop offset="0.656" stop-color="#ffffd8"/><stop offset="0.739" stop-color="#ffffc0"/><stop offset="0.902" stop-color="#ffff00"/><stop offset="1.000" stop-color="#ffab00"/></linearGradient><linearGradient id="g233" x2="0" y2="1"><stop offset="0.000" stop-color="#de0000"/><stop offset="0.049" stop-color="#ff0000"/><stop offset="0.066" stop-color="#ff0b00"/><stop offset="0.349" stop-color="#ffff00"/><stop offset="0.362" stop-color="#ffff10"/><stop offset="0.510" stop-color="#ffffc0"/><stop offset="0.592" stop-color="#ffffd7"/><stop offset="0.658" stop-color="#ffffd7"/><stop offset="0.742" stop-color="#ffffc0"/><stop offset="0.892" stop-color="#ffff10"/><stop offset="0.904" stop-color="#ffff00"/><stop offset="1.000" stop-color="#ffae00"/></linearGradient><linearGradient id="g234" x2="0" y2="1"><stop offset="0.000" stop-color="#dd0000"/><stop offset="0.051" stop-color="#ff0000"/><stop offset="0.068" stop-color="#ff0b00"/><stop offset="0.352" stop-color="#ffff00"/><stop offset="0.364" stop-color="#ffff10"/><stop offset="0.512" stop-color="#ffffbf"/><stop offset="0.594" stop-color="#ffffd6"/><stop offset="0.660" stop-color="#ffffd7"/><stop offset="0.744" stop-color="#ffffbf"/><stop offset="0.907" stop-color="#ffff00"/><stop offset="1.000" stop-color="#ffb000"/></linearGradient><linearGradient id="g235" x2="0" y2="1"><stop offset="0.000" stop-color="#db0000"/><stop offset="0.053" stop-color="#ff0000"/><stop offset="0.070" stop-color="#ff0b00"/><stop offset="0.218" stop-color="#ff8900"/><stop offset="0.354" stop-color="#ffff00"/><stop offset="0.366" stop-color="#ffff0f"/><stop offset="0.514" stop-color="#ffffbf"/><stop offset="0.596" stop-color="#ffffd6"/><stop offset="0.662" stop-color="#ffffd6"/><stop offset="0.747" stop-color="#ffffbf"/><stop offset="0.897" stop-color="#ffff0f"/><stop offset="0.909" stop-color="#ffff00"/><stop offset="1.000" stop-color="#ffb200"/></linearGradient><linearGradient id="g236" x2="0" y2="1"><stop offset="0.000" stop-color="#d90000"/><stop offset="0.056" stop-color="#ff0000"/><stop offset="0.072" stop-color="#ff0b00"/><stop offset="0.357" stop-color="#ffff00"/><stop offset="0.368" stop-color="#ffff0f"/><stop offset="0.516" stop-color="#ffffbe"/><stop offset="0.598" stop-color="#ffffd5"/><stop offset="0.664" stop-color="#ffffd6"/><stop offset="0.749" stop-color="#ffffbe"/><stop offset="0.900" stop-color="#ffff0f"/><stop offset="0.912" stop-color="#ffff00"/><stop offset="1.000" stop-color="#ffb500"/></linearGradient><linearGradient id="g237" x2="0" y2="1"><stop offset="0.000" stop-color="#d80000"/><stop offset="0.058" stop-color="#ff0000"/><stop offset="0.074" stop-color="#ff0b00"/><stop offset="0.359" stop-color="#ffff00"/><stop offset="0.518" stop-color="#ffffbe"/><stop offset="0.600" stop-color="#ffffd5"/><stop offset="0.666" stop-color="#ffffd5"/><stop offset="0.751" stop-color="#ffffbe"/><stop offset="0.914" stop-color="#ffff00"/><stop offset="1.000" stop-color="#ffb700"/></linearGradient><linearGradient id="g238" x2="0" y2="1"><stop offset="0.000" stop-color="#d60000"/><stop offset="0.061" stop-color="#ff0000"/><stop offset="0.076" stop-color="#ff0b00"/><stop offset="0.362" stop-color="#ffff00"/><stop offset="0.372" stop-color="#ffff0e"/><stop offset="0.520" stop-color="#ffffbd"/><stop offset="0.602" stop-color="#ffffd4"/><stop offset="0.668" stop-color="#ffffd4"/><stop offset="0.754" stop-color="#ffffbd"/><stop offset="0.906" stop-color="#ffff0e"/><stop offset="0.917" stop-color="#ffff00"/><stop offset="1.000" stop-color="#ffb900"/></linearGradient><linearGradient id="g239" x2="0" y2="1"><stop offset="0.000" stop-color="#d50000"/><stop offset="0.063" stop-color="#ff0000"/><stop offset="0.078" stop-color="#ff0a00"/><stop offset="0.364" stop-color="#ffff00"/><stop offset="0.522" stop-color="#ffffbc"/><stop offset="0.603" stop-color="#ffffd3"/><stop offset="0.671" stop-color="#ffffd4"/><stop offset="0.756" stop-color="#ffffbc"/><stop offset="0.919" stop-color="#ffff00"/><stop offset="1.000" stop-color="#ffbb00"/></linearGradient><linearGradient id="g240" x2="0" y2="1"><stop offset="0.000" stop-color="#d30000"/><stop offset="0.065" stop-color="#ff0000"/><stop offset="0.080" stop-color="#ff0a00"/><stop offset="0.367" stop-color="#ffff00"/><stop offset="0.377" stop-color="#ffff0d"/><stop offset="0.525" stop-color="#ffffbc"/><stop offset="0.605" stop-color="#ffffd3"/><stop offset="0.673" stop-color="#ffffd3"/><stop offset="0.758" stop-color="#ffffbc"/><stop offset="0.911" stop-color="#ffff0d"/><stop offset="0.922" stop-color="#ffff00"/><stop offset="1.000" stop-color="#ffbe00"/></linearGradient><linearGradient id="g241" x2="0" y2="1"><stop offset="0.000" stop-color="#d20000"/><stop offset="0.068" stop-color="#ff0000"/><stop offset="0.083" stop-color="#ff0a00"/><stop offset="0.369" stop-color="#ffff00"/><stop offset="0.527" stop-color="#ffffbb"/><stop offset="0.608" stop-color="#ffffd2"/><stop offset="0.675" stop-color="#ffffd3"/><stop offset="0.761" stop-color="#ffffbb"/><stop offset="0.924" stop-color="#ffff00"/><stop offset="1.000" stop-color="#ffc000"/></linearGradient><linearGradient id="g242" x2="0" y2="1"><stop offset="0.000" stop-color="#d00000"/><stop offset="0.070" stop-color="#ff0000"/><stop offset="0.085" stop-color="#ff0a00"/><stop offset="0.372" stop-color="#ffff00"/><stop offset="0.529" stop-color="#ffffbb"/><stop offset="0.610" stop-color="#ffffd1"/><stop offset="0.677" stop-color="#ffffd2"/><stop offset="0.763" stop-color="#ffffbb"/><stop offset="0.917" stop-color="#ffff0c"/><stop offset="0.927" stop-color="#ffff00"/><stop offset="1.000" stop-color="#ffc200"/></linearGradient><linearGradient id="g243" x2="0" y2="1"><stop offset="0.000" stop-color="#ce0000"/><stop offset="0.073" stop-color="#ff0000"/><stop offset="0.087" stop-color="#ff0a00"/><stop offset="0.374" stop-color="#ffff00"/><stop offset="0.531" stop-color="#ffffba"/><stop offset="0.612" stop-color="#ffffd1"/><stop offset="0.679" stop-color="#ffffd2"/><stop offset="0.766" stop-color="#ffffba"/><stop offset="0.929" stop-color="#ffff00"/><stop offset="1.000" stop-color="#ffc400"/></linearGradient><linearGradient id="g244" x2="0" y2="1"><stop offset="0.000" stop-color="#cd0000"/><stop offset="0.075" stop-color="#ff0000"/><stop offset="0.089" stop-color="#ff0a00"/><stop offset="0.237" stop-color="#ff8700"/><stop offset="0.377" stop-color="#ffff00"/><stop offset="0.533" stop-color="#ffffba"/><stop offset="0.614" stop-color="#ffffd0"/><stop offset="0.681" stop-color="#ffffd1"/><stop offset="0.768" stop-color="#ffffba"/><stop offset="0.931" stop-color="#ffff00"/><stop offset="1.000" stop-color="#ffc700"/></linearGradient><linearGradient id="g245" x2="0" y2="1"><stop offset="0.000" stop-color="#cb0000"/><stop offset="0.077" stop-color="#ff0000"/><stop offset="0.091" stop-color="#ff0900"/><stop offset="0.379" stop-color="#ffff00"/><stop offset="0.388" stop-color="#ffff0b"/><stop offset="0.536" stop-color="#ffffb9"/><stop offset="0.616" stop-color="#ffffd0"/><stop offset="0.683" stop-color="#ffffd0"/><stop offset="0.770" stop-color="#ffffb9"/><stop offset="0.934" stop-color="#ffff00"/><stop offset="1.000" stop-color="#ffc900"/></linearGradient><linearGradient id="g246" x2="0" y2="1"><stop offset="0.000" stop-color="#ca0000"/><stop offset="0.080" stop-color="#ff0000"/><stop offset="0.094" stop-color="#ff0900"/><stop offset="0.382" stop-color="#ffff00"/><stop offset="0.538" stop-color="#ffffb8"/><stop offset="0.618" stop-color="#ffffcf"/><stop offset="0.686" stop-color="#ffffd0"/><stop offset="0.773" stop-color="#ffffb8"/><stop offset="0.936" stop-color="#ffff00"/><stop offset="1.000" stop-color="#ffcb00"/></linearGradient><linearGradient id="g247" x2="0" y2="1"><stop offset="0.000" stop-color="#c80000"/><stop offset="0.082" stop-color="#ff0000"/><stop offset="0.096" stop-color="#ff0900"/><stop offset="0.384" stop-color="#ffff00"/><stop offset="0.392" stop-color="#ffff0a"/><stop offset="0.540" stop-color="#ffffb8"/><stop offset="0.620" stop-color="#ffffce"/><stop offset="0.688" stop-color="#ffffcf"/><stop offset="0.775" stop-color="#ffffb8"/><stop offset="0.931" stop-color="#ffff0a"/><stop offset="0.939" stop-color="#ffff00"/><stop offset="1.000" stop-color="#ffcd00"/></linearGradient><linearGradient id="g248" x2="0" y2="1"><stop offset="0.000" stop-color="#c60000"/><stop offset="0.085" stop-color="#ff0000"/><stop offset="0.098" stop-color="#ff0900"/><stop offset="0.246" stop-color="#ff8600"/><stop offset="0.387" stop-color="#ffff00"/><stop offset="0.542" stop-color="#ffffb7"/><stop offset="0.622" stop-color="#ffffce"/><stop offset="0.690" stop-color="#ffffcf"/><stop offset="0.778" stop-color="#ffffb7"/><stop offset="0.941" stop-color="#ffff00"/><stop offset="1.000" stop-color="#ffcf00"/></linearGradient><linearGradient id="g249" x2="0" y2="1"><stop offset="0.000" stop-color="#c50000"/><stop offset="0.087" stop-color="#ff0000"/><stop offset="0.100" stop-color="#ff0900"/><stop offset="0.390" stop-color="#ffff00"/><stop offset="0.396" stop-color="#ffff09"/><stop offset="0.544" stop-color="#ffffb7"/><stop offset="0.624" stop-color="#ffffcd"/><stop offset="0.692" stop-color="#ffffce"/><stop offset="0.780" stop-color="#ffffb7"/><stop offset="0.937" stop-color="#ffff09"/><stop offset="0.944" stop-color="#ffff00"/><stop offset="1.000" stop-color="#ffd200"/></linearGradient><linearGradient id="g250" x2="0" y2="1"><stop offset="0.000" stop-color="#c30000"/><stop offset="0.090" stop-color="#ff0000"/><stop offset="0.103" stop-color="#ff0900"/><stop offset="0.392" stop-color="#ffff00"/><stop offset="0.546" stop-color="#ffffb6"/><stop offset="0.626" stop-color="#ffffcc"/><stop offset="0.694" stop-color="#ffffcd"/><stop offset="0.783" stop-color="#ffffb6"/><stop offset="0.946" stop-color="#ffff00"/><stop offset="1.000" stop-color="#ffd400"/></linearGradient><linearGradient id="g251" x2="0" y2="1"><stop offset="0.000" stop-color="#c10000"/><stop offset="0.092" stop-color="#ff0000"/><stop offset="0.105" stop-color="#ff0800"/><stop offset="0.395" stop-color="#ffff00"/><stop offset="0.401" stop-color="#ffff08"/><stop offset="0.549" stop-color="#ffffb5"/><stop offset="0.628" stop-color="#ffffcc"/><stop offset="0.697" stop-color="#ffffcd"/><stop offset="0.785" stop-color="#ffffb5"/><stop offset="0.943" stop-color="#ffff08"/><stop offset="0.949" stop-color="#ffff00"/><stop offset="1.000" stop-color="#ffd600"/></linearGradient><linearGradient id="g252" x2="0" y2="1"><stop offset="0.000" stop-color="#c00000"/><stop offset="0.095" stop-color="#ff0000"/><stop offset="0.107" stop-color="#ff0800"/><stop offset="0.398" stop-color="#ffff00"/><stop offset="0.551" stop-color="#ffffb5"/><stop offset="0.630" stop-color="#ffffcb"/><stop offset="0.699" stop-color="#ffffcc"/><stop offset="0.788" stop-color="#ffffb5"/><stop offset="0.951" stop-color="#ffff00"/><stop offset="1.000" stop-color="#ffd800"/></linearGradient><linearGradient id="g253" x2="0" y2="1"><stop offset="0.000" stop-color="#be0000"/><stop offset="0.097" stop-color="#ff0000"/><stop offset="0.110" stop-color="#ff0800"/><stop offset="0.400" stop-color="#ffff00"/><stop offset="0.553" stop-color="#ffffb4"/><stop offset="0.632" stop-color="#ffffca"/><stop offset="0.701" stop-color="#ffffcc"/><stop offset="0.790" stop-color="#ffffb4"/><stop offset="0.954" stop-color="#ffff00"/><stop offset="1.000" stop-color="#ffda00"/></linearGradient><linearGradient id="g254" x2="0" y2="1"><stop offset="0.000" stop-color="#bc0000"/><stop offset="0.100" stop-color="#ff0000"/><stop offset="0.112" stop-color="#ff0800"/><stop offset="0.403" stop-color="#ffff00"/><stop offset="0.555" stop-color="#ffffb4"/><stop offset="0.634" stop-color="#ffffca"/><stop offset="0.703" stop-color="#ffffcb"/><stop offset="0.793" stop-color="#ffffb4"/><stop offset="0.956" stop-color="#ffff00"/><stop offset="1.000" stop-color="#ffdc00"/></linearGradient><linearGradient id="g255" x2="0" y2="1"><stop offset="0.000" stop-color="#bb0000"/><stop offset="0.103" stop-color="#ff0000"/><stop offset="0.114" stop-color="#ff0800"/><stop offset="0.406" stop-color="#ffff00"/><stop offset="0.558" stop-color="#ffffb3"/><stop offset="0.636" stop-color="#ffffc9"/><stop offset="0.706" stop-color="#ffffca"/><stop offset="0.795" stop-color="#ffffb3"/><stop offset="0.959" stop-color="#ffff00"/><stop offset="1.000" stop-color="#ffde00"/></linearGradient><linearGradient id="g256" x2="0" y2="1"><stop offset="0.000" stop-color="#b90000"/><stop offset="0.105" stop-color="#ff0000"/><stop offset="0.117" stop-color="#ff0800"/><stop offset="0.264" stop-color="#ff8400"/><stop offset="0.408" stop-color="#ffff00"/><stop offset="0.560" stop-color="#ffffb2"/><stop offset="0.638" stop-color="#ffffc8"/><stop offset="0.708" stop-color="#ffffca"/><stop offset="0.798" stop-color="#ffffb2"/><stop offset="0.961" stop-color="#ffff00"/><stop offset="1.000" stop-color="#ffe100"/></linearGradient><linearGradient id="g257" x2="0" y2="1"><stop offset="0.000" stop-color="#b70000"/><stop offset="0.108" stop-color="#ff0000"/><stop offset="0.119" stop-color="#ff0700"/><stop offset="0.411" stop-color="#ffff00"/><stop offset="0.562" stop-color="#ffffb2"/><stop offset="0.640" stop-color="#ffffc8"/><stop offset="0.710" stop-color="#ffffc9"/><stop offset="0.800" stop-color="#ffffb2"/><stop offset="0.964" stop-color="#ffff00"/><stop offset="1.000" stop-color="#ffe300"/></linearGradient><linearGradient id="g258" x2="0" y2="1"><stop offset="0.000" stop-color="#b50000"/><stop offset="0.111" stop-color="#ff0000"/><stop offset="0.121" stop-color="#ff0700"/><stop offset="0.414" stop-color="#ffff00"/><stop offset="0.565" stop-color="#ffffb1"/><stop offset="0.642" stop-color="#ffffc7"/><stop offset="0.712" stop-color="#ffffc8"/><stop offset="0.803" stop-color="#ffffb1"/><stop offset="0.966" stop-color="#ffff00"/><stop offset="1.000" stop-color="#ffe500"/></linearGradient><linearGradient id="g259" x2="0" y2="1"><stop offset="0.000" stop-color="#b40000"/><stop offset="0.113" stop-color="#ff0000"/><stop offset="0.124" stop-color="#ff0700"/><stop offset="0.416" stop-color="#ffff00"/><stop offset="0.567" stop-color="#ffffb1"/><stop offset="0.645" stop-color="#ffffc6"/><stop offset="0.715" stop-color="#ffffc8"/><stop offset="0.805" stop-color="#ffffb0"/><stop offset="0.969" stop-color="#ffff00"/><stop offset="1.000" stop-color="#ffe700"/></linearGradient><linearGradient id="g260" x2="0" y2="1"><stop offset="0.000" stop-color="#b20000"/><stop offset="0.116" stop-color="#ff0000"/><stop offset="0.126" stop-color="#ff0700"/><stop offset="0.419" stop-color="#ffff00"/><stop offset="0.569" stop-color="#ffffb0"/><stop offset="0.647" stop-color="#ffffc6"/><stop offset="0.717" stop-color="#ffffc7"/><stop offset="0.808" stop-color="#ffffb0"/><stop offset="0.972" stop-color="#ffff00"/><stop offset="1.000" stop-color="#ffe900"/></linearGradient><linearGradient id="g261" x2="0" y2="1"><stop offset="0.000" stop-color="#b00000"/><stop offset="0.118" stop-color="#ff0000"/><stop offset="0.129" stop-color="#ff0700"/><stop offset="0.422" stop-color="#ffff00"/><stop offset="0.571" stop-color="#ffffaf"/><stop offset="0.649" stop-color="#ffffc5"/><stop offset="0.719" stop-color="#ffffc7"/><stop offset="0.810" stop-color="#ffffaf"/><stop offset="0.974" stop-color="#ffff00"/><stop offset="1.000" stop-color="#ffeb00"/></linearGradient><linearGradient id="g262" x2="0" y2="1"><stop offset="0.000" stop-color="#ae0000"/><stop offset="0.121" stop-color="#ff0000"/><stop offset="0.131" stop-color="#ff0700"/><stop offset="0.425" stop-color="#ffff00"/><stop offset="0.574" stop-color="#ffffaf"/><stop offset="0.651" stop-color="#ffffc4"/><stop offset="0.721" stop-color="#ffffc6"/><stop offset="0.813" stop-color="#ffffaf"/><stop offset="0.977" stop-color="#ffff00"/><stop offset="1.000" stop-color="#ffed00"/></linearGradient><linearGradient id="g263" x2="0" y2="1"><stop offset="0.000" stop-color="#ad0000"/><stop offset="0.124" stop-color="#ff0000"/><stop offset="0.133" stop-color="#ff0600"/><stop offset="0.429" stop-color="#ffff01"/><stop offset="0.576" stop-color="#ffffae"/><stop offset="0.653" stop-color="#ffffc3"/><stop offset="0.724" stop-color="#ffffc5"/><stop offset="0.815" stop-color="#ffffae"/><stop offset="0.979" stop-color="#ffff00"/><stop offset="1.000" stop-color="#ffef00"/></linearGradient><linearGradient id="g264" x2="0" y2="1"><stop offset="0.000" stop-color="#ab0000"/><stop offset="0.127" stop-color="#ff0000"/><stop offset="0.136" stop-color="#ff0600"/><stop offset="0.431" stop-color="#ffff01"/><stop offset="0.578" stop-color="#ffffad"/><stop offset="0.655" stop-color="#ffffc3"/><stop offset="0.726" stop-color="#ffffc5"/><stop offset="0.818" stop-color="#ffffad"/><stop offset="0.982" stop-color="#ffff00"/><stop offset="1.000" stop-color="#fff100"/></linearGradient><linearGradient id="g265" x2="0" y2="1"><stop offset="0.000" stop-color="#a90000"/><stop offset="0.129" stop-color="#ff0000"/><stop offset="0.138" stop-color="#ff0600"/><stop offset="0.433" stop-color="#ffff00"/><stop offset="0.581" stop-color="#ffffad"/><stop offset="0.657" stop-color="#ffffc2"/><stop offset="0.728" stop-color="#ffffc4"/><stop offset="0.821" stop-color="#ffffad"/><stop offset="0.984" stop-color="#ffff00"/><stop offset="1.000" stop-color="#fff300"/></linearGradient><linearGradient id="g266" x2="0" y2="1"><stop offset="0.000" stop-color="#a70000"/><stop offset="0.132" stop-color="#ff0000"/><stop offset="0.141" stop-color="#ff0600"/><stop offset="0.436" stop-color="#ffff00"/><stop offset="0.583" stop-color="#ffffac"/><stop offset="0.659" stop-color="#ffffc1"/><stop offset="0.730" stop-color="#ffffc3"/><stop offset="0.823" stop-color="#ffffac"/><stop offset="0.987" stop-color="#ffff00"/><stop offset="1.000" stop-color="#fff500"/></linearGradient><linearGradient id="g267" x2="0" y2="1"><stop offset="0.000" stop-color="#a60000"/><stop offset="0.135" stop-color="#ff0000"/><stop offset="0.143" stop-color="#ff0600"/><stop offset="0.291" stop-color="#ff8100"/><stop offset="0.439" stop-color="#ffff00"/><stop offset="0.585" stop-color="#ffffab"/><stop offset="0.662" stop-color="#ffffc1"/><stop offset="0.733" stop-color="#ffffc3"/><stop offset="0.826" stop-color="#ffffab"/><stop offset="0.990" stop-color="#ffff00"/><stop offset="1.000" stop-color="#fff700"/></linearGradient><linearGradient id="g268" x2="0" y2="1"><stop offset="0.000" stop-color="#a40000"/><stop offset="0.138" stop-color="#ff0000"/><stop offset="0.146" stop-color="#ff0500"/><stop offset="0.442" stop-color="#ffff00"/><stop offset="0.588" stop-color="#ffffab"/><stop offset="0.664" stop-color="#ffffc0"/><stop offset="0.735" stop-color="#ffffc2"/><stop offset="0.828" stop-color="#ffffab"/><stop offset="0.992" stop-color="#ffff00"/><stop offset="1.000" stop-color="#fff900"/></linearGradient><linearGradient id="g269" x2="0" y2="1"><stop offset="0.000" stop-color="#a20000"/><stop offset="0.140" stop-color="#ff0000"/><stop offset="0.148" stop-color="#ff0500"/><stop offset="0.444" stop-color="#ffff00"/><stop offset="0.590" stop-color="#ffffaa"/><stop offset="0.666" stop-color="#ffffbf"/><stop offset="0.737" stop-color="#ffffc1"/><stop offset="0.831" stop-color="#ffffaa"/><stop offset="0.994" stop-color="#ffff00"/><stop offset="1.000" stop-color="#fffb00"/></linearGradient><linearGradient id="g270" x2="0" y2="1"><stop offset="0.000" stop-color="#a10000"/><stop offset="0.143" stop-color="#ff0000"/><stop offset="0.151" stop-color="#ff0500"/><stop offset="0.447" stop-color="#ffff00"/><stop offset="0.592" stop-color="#ffffa9"/><stop offset="0.668" stop-color="#ffffbe"/><stop offset="0.740" stop-color="#ffffc1"/><stop offset="0.834" stop-color="#ffffa9"/><stop offset="0.997" stop-color="#ffff00"/><stop offset="1.000" stop-color="#fffd00"/></linearGradient><linearGradient id="g271" x2="0" y2="1"><stop offset="0.000" stop-color="#9f0000"/><stop offset="0.006" stop-color="#a20000"/><stop offset="0.146" stop-color="#ff0000"/><stop offset="0.153" stop-color="#ff0500"/><stop offset="0.301" stop-color="#ff8000"/><stop offset="0.450" stop-color="#ffff00"/><stop offset="0.595" stop-color="#ffffa9"/><stop offset="0.670" stop-color="#ffffbe"/><stop offset="0.742" stop-color="#ffffc0"/><stop offset="0.836" stop-color="#ffffa9"/><stop offset="1.000" stop-color="#ffff00"/></linearGradient><linearGradient id="g272" x2="0" y2="1"><stop offset="0.000" stop-color="#9e0000"/><stop offset="0.009" stop-color="#a20000"/><stop offset="0.149" stop-color="#ff0000"/><stop offset="0.303" stop-color="#ff8000"/><stop offset="0.453" stop-color="#ffff00"/><stop offset="0.597" stop-color="#ffffa8"/><stop offset="0.672" stop-color="#ffffbd"/><stop offset="0.744" stop-color="#ffffbf"/><stop offset="0.839" stop-color="#ffffa8"/><stop offset="1.000" stop-color="#ffff02"/></linearGradient><linearGradient id="g273" x2="0" y2="1"><stop offset="0.000" stop-color="#9d0000"/><stop offset="0.011" stop-color="#a20000"/><stop offset="0.152" stop-color="#ff0000"/><stop offset="0.158" stop-color="#ff0400"/><stop offset="0.456" stop-color="#ffff00"/><stop offset="0.600" stop-color="#ffffa7"/><stop offset="0.675" stop-color="#ffffbc"/><stop offset="0.747" stop-color="#ffffbf"/><stop offset="0.842" stop-color="#ffffa7"/><stop offset="1.000" stop-color="#ffff05"/></linearGradient><linearGradient id="g274" x2="0" y2="1"><stop offset="0.000" stop-color="#9b0000"/><stop offset="0.014" stop-color="#a20000"/><stop offset="0.155" stop-color="#ff0000"/><stop offset="0.161" stop-color="#ff0400"/><stop offset="0.459" stop-color="#ffff00"/><stop offset="0.602" stop-color="#ffffa7"/><stop offset="0.677" stop-color="#ffffbb"/><stop offset="0.749" stop-color="#ffffbe"/><stop offset="0.844" stop-color="#ffffa7"/><stop offset="1.000" stop-color="#ffff07"/></linearGradient><linearGradient id="g275" x2="0" y2="1"><stop offset="0.000" stop-color="#9a0000"/><stop offset="0.017" stop-color="#a20000"/><stop offset="0.157" stop-color="#ff0000"/><stop offset="0.164" stop-color="#ff0400"/><stop offset="0.311" stop-color="#ff7f00"/><stop offset="0.462" stop-color="#ffff00"/><stop offset="0.604" stop-color="#ffffa6"/><stop offset="0.679" stop-color="#ffffbb"/><stop offset="0.751" stop-color="#ffffbd"/><stop offset="0.847" stop-color="#ffffa6"/><stop offset="1.000" stop-color="#ffff0a"/></linearGradient><linearGradient id="g276" x2="0" y2="1"><stop offset="0.000" stop-color="#980000"/><stop offset="0.019" stop-color="#a20000"/><stop offset="0.160" stop-color="#ff0000"/><stop offset="0.465" stop-color="#ffff00"/><stop offset="0.607" stop-color="#ffffa5"/><stop offset="0.681" stop-color="#ffffba"/><stop offset="0.754" stop-color="#ffffbc"/><stop offset="0.849" stop-color="#ffffa5"/><stop offset="1.000" stop-color="#ffff0c"/></linearGradient><linearGradient id="g277" x2="0" y2="1"><stop offset="0.000" stop-color="#970000"/><stop offset="0.022" stop-color="#a20000"/><stop offset="0.163" stop-color="#ff0000"/><stop offset="0.468" stop-color="#ffff00"/><stop offset="0.609" stop-color="#ffffa5"/><stop offset="0.683" stop-color="#ffffb9"/><stop offset="0.756" stop-color="#ffffbc"/><stop offset="0.852" stop-color="#ffffa5"/><stop offset="1.000" stop-color="#ffff0f"/></linearGradient><linearGradient id="g278" x2="0" y2="1"><stop offset="0.000" stop-color="#960000"/><stop offset="0.025" stop-color="#a20000"/><stop offset="0.166" stop-color="#ff0000"/><stop offset="0.318" stop-color="#ff7e00"/><stop offset="0.471" stop-color="#ffff00"/><stop offset="0.612" stop-color="#ffffa4"/><stop offset="0.686" stop-color="#ffffb8"/><stop offset="0.758" stop-color="#ffffbb"/><stop offset="0.855" stop-color="#ffffa4"/><stop offset="1.000" stop-color="#ffff11"/></linearGradient><linearGradient id="g279" x2="0" y2="1"><stop offset="0.000" stop-color="#940000"/><stop offset="0.027" stop-color="#a10000"/><stop offset="0.169" stop-color="#ff0000"/><stop offset="0.174" stop-color="#ff0300"/><stop offset="0.474" stop-color="#ffff00"/><stop offset="0.614" stop-color="#ffffa3"/><stop offset="0.688" stop-color="#ffffb8"/><stop offset="0.761" stop-color="#ffffba"/><stop offset="0.857" stop-color="#ffffa3"/><stop offset="1.000" stop-color="#ffff14"/></linearGradient><linearGradient id="g280" x2="0" y2="1"><stop offset="0.000" stop-color="#930000"/><stop offset="0.030" stop-color="#a10000"/><stop offset="0.172" stop-color="#ff0000"/><stop offset="0.323" stop-color="#ff7e00"/><stop offset="0.477" stop-color="#ffff00"/><stop offset="0.617" stop-color="#ffffa2"/><stop offset="0.690" stop-color="#ffffb7"/><stop offset="0.763" stop-color="#ffffba"/><stop offset="0.860" stop-color="#ffffa2"/><stop offset="1.000" stop-color="#ffff16"/></linearGradient><linearGradient id="g281" x2="0" y2="1"><stop offset="0.000" stop-color="#910000"/><stop offset="0.033" stop-color="#a10000"/><stop offset="0.175" stop-color="#ff0000"/><stop offset="0.326" stop-color="#ff7d00"/><stop offset="0.480" stop-color="#ffff00"/><stop offset="0.619" stop-color="#ffffa2"/><stop offset="0.692" stop-color="#ffffb6"/><stop offset="0.766" stop-color="#ffffb9"/><stop offset="0.863" stop-color="#ffffa2"/><stop offset="1.000" stop-color="#ffff19"/></linearGradient><linearGradient id="g282" x2="0" y2="1"><stop offset="0.000" stop-color="#900000"/><stop offset="0.036" stop-color="#a10000"/><stop offset="0.178" stop-color="#ff0000"/><stop offset="0.329" stop-color="#ff7d00"/><stop offset="0.483" stop-color="#ffff00"/><stop offset="0.622" stop-color="#ffffa1"/><stop offset="0.695" stop-color="#ffffb5"/><stop offset="0.768" stop-color="#ffffb8"/><stop offset="0.866" stop-color="#ffffa1"/><stop offset="1.000" stop-color="#ffff1b"/></linearGradient><linearGradient id="g283" x2="0" y2="1"><stop offset="0.000" stop-color="#8e0000"/><stop offset="0.038" stop-color="#a10000"/><stop offset="0.181" stop-color="#ff0000"/><stop offset="0.331" stop-color="#ff7d00"/><stop offset="0.478" stop-color="#fff900"/><stop offset="0.486" stop-color="#ffff00"/><stop offset="0.624" stop-color="#ffffa0"/><stop offset="0.697" stop-color="#ffffb4"/><stop offset="0.770" stop-color="#ffffb7"/><stop offset="0.868" stop-color="#ffffa0"/><stop offset="1.000" stop-color="#ffff1e"/></linearGradient><linearGradient id="g284" x2="0" y2="1"><stop offset="0.000" stop-color="#8d0000"/><stop offset="0.041" stop-color="#a10000"/><stop offset="0.184" stop-color="#ff0000"/><stop offset="0.489" stop-color="#ffff00"/><stop offset="0.627" stop-color="#ffffa0"/><stop offset="0.699" stop-color="#ffffb4"/><stop offset="0.773" stop-color="#ffffb7"/><stop offset="0.871" stop-color="#ffffa0"/><stop offset="1.000" stop-color="#ffff20"/></linearGradient><linearGradient id="g285" x2="0" y2="1"><stop offset="0.000" stop-color="#8b0000"/><stop offset="0.044" stop-color="#a10000"/><stop offset="0.187" stop-color="#ff0000"/><stop offset="0.336" stop-color="#ff7c00"/><stop offset="0.492" stop-color="#ffff00"/><stop offset="0.629" stop-color="#ffff9f"/><stop offset="0.702" stop-color="#ffffb3"/><stop offset="0.775" stop-color="#ffffb6"/><stop offset="0.874" stop-color="#ffff9f"/><stop offset="1.000" stop-color="#ffff22"/></linearGradient><linearGradient id="g286" x2="0" y2="1"><stop offset="0.000" stop-color="#8a0000"/><stop offset="0.047" stop-color="#a10000"/><stop offset="0.190" stop-color="#ff0000"/><stop offset="0.495" stop-color="#ffff00"/><stop offset="0.632" stop-color="#ffff9e"/><stop offset="0.704" stop-color="#ffffb2"/><stop offset="0.778" stop-color="#ffffb5"/><stop offset="0.877" stop-color="#ffff9e"/><stop offset="1.000" stop-color="#ffff25"/></linearGradient><linearGradient id="g287" x2="0" y2="1"><stop offset="0.000" stop-color="#890000"/><stop offset="0.050" stop-color="#a00000"/><stop offset="0.193" stop-color="#ff0000"/><stop offset="0.498" stop-color="#ffff00"/><stop offset="0.634" stop-color="#ffff9d"/><stop offset="0.706" stop-color="#ffffb1"/><stop offset="0.780" stop-color="#ffffb4"/><stop offset="0.879" stop-color="#ffff9d"/><stop offset="1.000" stop-color="#ffff27"/></linearGradient><linearGradient id="g288" x2="0" y2="1"><stop offset="0.000" stop-color="#870000"/><stop offset="0.052" stop-color="#a00000"/><stop offset="0.196" stop-color="#ff0000"/><stop offset="0.344" stop-color="#ff7b00"/><stop offset="0.490" stop-color="#fff700"/><stop offset="0.501" stop-color="#ffff00"/><stop offset="0.637" stop-color="#ffff9d"/><stop offset="0.708" stop-color="#ffffb0"/><stop offset="0.783" stop-color="#ffffb4"/><stop offset="0.882" stop-color="#ffff9d"/><stop offset="1.000" stop-color="#ffff2a"/></linearGradient><linearGradient id="g289" x2="0" y2="1"><stop offset="0.000" stop-color="#860000"/><stop offset="0.055" stop-color="#a00000"/><stop offset="0.199" stop-color="#ff0000"/><stop offset="0.505" stop-color="#ffff00"/><stop offset="0.639" stop-color="#ffff9c"/><stop offset="0.711" stop-color="#ffffb0"/><stop offset="0.785" stop-color="#ffffb3"/><stop offset="0.885" stop-color="#ffff9c"/><stop offset="1.000" stop-color="#ffff2c"/></linearGradient><linearGradient id="g290" x2="0" y2="1"><stop offset="0.000" stop-color="#840000"/><stop offset="0.058" stop-color="#a00000"/><stop offset="0.202" stop-color="#ff0000"/><stop offset="0.496" stop-color="#fff600"/><stop offset="0.508" stop-color="#ffff00"/><stop offset="0.642" stop-color="#ffff9b"/><stop offset="0.713" stop-color="#ffffaf"/><stop offset="0.788" stop-color="#ffffb2"/><stop offset="0.888" stop-color="#ffff9b"/><stop offset="1.000" stop-color="#ffff2e"/></linearGradient><linearGradient id="g291" x2="0" y2="1"><stop offset="0.000" stop-color="#830000"/><stop offset="0.061" stop-color="#a00000"/><stop offset="0.207" stop-color="#ff0100"/><stop offset="0.353" stop-color="#ff7a00"/><stop offset="0.511" stop-color="#ffff00"/><stop offset="0.644" stop-color="#ffff9a"/><stop offset="0.715" stop-color="#ffffae"/><stop offset="0.790" stop-color="#ffffb1"/><stop offset="0.890" stop-color="#ffff9a"/><stop offset="1.000" stop-color="#ffff31"/></linearGradient><linearGradient id="g292" x2="0" y2="1"><stop offset="0.000" stop-color="#810000"/><stop offset="0.064" stop-color="#a00000"/><stop offset="0.210" stop-color="#ff0100"/><stop offset="0.355" stop-color="#ff7a00"/><stop offset="0.514" stop-color="#ffff00"/><stop offset="0.647" stop-color="#ffff9a"/><stop offset="0.718" stop-color="#ffffad"/><stop offset="0.792" stop-color="#ffffb1"/><stop offset="0.893" stop-color="#ffff9a"/><stop offset="1.000" stop-color="#ffff33"/></linearGradient><linearGradient id="g293" x2="0" y2="1"><stop offset="0.000" stop-color="#7f0000"/><stop offset="0.067" stop-color="#a00000"/><stop offset="0.212" stop-color="#ff0100"/><stop offset="0.504" stop-color="#fff500"/><stop offset="0.517" stop-color="#ffff00"/><stop offset="0.649" stop-color="#ffff99"/><stop offset="0.720" stop-color="#ffffac"/><stop offset="0.795" stop-color="#ffffb0"/><stop offset="0.896" stop-color="#ffff99"/><stop offset="1.000" stop-color="#ffff35"/></linearGradient><linearGradient id="g294" x2="0" y2="1"><stop offset="0.000" stop-color="#7e0000"/><stop offset="0.070" stop-color="#a00000"/><stop offset="0.215" stop-color="#ff0000"/><stop offset="0.520" stop-color="#ffff00"/><stop offset="0.652" stop-color="#ffff98"/><stop offset="0.722" stop-color="#ffffac"/><stop offset="0.797" stop-color="#ffffaf"/><stop offset="0.899" stop-color="#ffff98"/><stop offset="1.000" stop-color="#ffff37"/></linearGradient><linearGradient id="g295" x2="0" y2="1"><stop offset="0.000" stop-color="#7c0000"/><stop offset="0.073" stop-color="#9f0000"/><stop offset="0.218" stop-color="#ff0000"/><stop offset="0.364" stop-color="#ff7900"/><stop offset="0.509" stop-color="#fff400"/><stop offset="0.524" stop-color="#ffff00"/><stop offset="0.654" stop-color="#ffff97"/><stop offset="0.725" stop-color="#ffffab"/><stop offset="0.800" stop-color="#ffffae"/><stop offset="0.902" stop-color="#ffff97"/><stop offset="1.000" stop-color="#ffff3a"/></linearGradient><linearGradient id="g296" x2="0" y2="1"><stop offset="0.000" stop-color="#7b0000"/><stop offset="0.076" stop-color="#9f0000"/><stop offset="0.221" stop-color="#ff0000"/><stop offset="0.527" stop-color="#ffff00"/><stop offset="0.657" stop-color="#ffff97"/><stop offset="0.727" stop-color="#ffffaa"/><stop offset="0.802" stop-color="#ffffae"/><stop offset="0.904" stop-color="#ffff97"/><stop offset="1.000" stop-color="#ffff3c"/></linearGradient><linearGradient id="g297" x2="0" y2="1"><stop offset="0.000" stop-color="#790000"/><stop offset="0.078" stop-color="#9f0000"/><stop offset="0.224" stop-color="#ff0000"/><stop offset="0.514" stop-color="#fff300"/><stop offset="0.530" stop-color="#ffff00"/><stop offset="0.659" stop-color="#ffff96"/><stop offset="0.729" stop-color="#ffffa9"/><stop offset="0.805" stop-color="#ffffad"/><stop offset="0.907" stop-color="#ffff96"/><stop offset="1.000" stop-color="#ffff3e"/></linearGradient><linearGradient id="g298" x2="0" y2="1"><stop offset="0.000" stop-color="#780000"/><stop offset="0.081" stop-color="#9f0000"/><stop offset="0.227" stop-color="#ff0000"/><stop offset="0.533" stop-color="#ffff00"/><stop offset="0.662" stop-color="#ffff95"/><stop offset="0.732" stop-color="#ffffa8"/><stop offset="0.807" stop-color="#ffffac"/><stop offset="0.910" stop-color="#ffff95"/><stop offset="1.000" stop-color="#ffff40"/></linearGradient><linearGradient id="g299" x2="0" y2="1"><stop offset="0.000" stop-color="#770000"/><stop offset="0.084" stop-color="#9f0000"/><stop offset="0.230" stop-color="#ff0000"/><stop offset="0.519" stop-color="#fff200"/><stop offset="0.536" stop-color="#ffff00"/><stop offset="0.664" stop-color="#ffff94"/><stop offset="0.734" stop-color="#ffffa8"/><stop offset="0.809" stop-color="#ffffab"/><stop offset="0.913" stop-color="#ffff94"/><stop offset="1.000" stop-color="#ffff42"/></linearGradient><linearGradient id="g300" x2="0" y2="1"><stop offset="0.000" stop-color="#750000"/><stop offset="0.086" stop-color="#9f0000"/><stop offset="0.233" stop-color="#ff0000"/><stop offset="0.521" stop-color="#fff200"/><stop offset="0.539" stop-color="#ffff00"/><stop offset="0.666" stop-color="#ffff93"/><stop offset="0.736" stop-color="#ffffa7"/><stop offset="0.811" stop-color="#ffffab"/><stop offset="0.915" stop-color="#ffff93"/><stop offset="1.000" stop-color="#ffff44"/></linearGradient><linearGradient id="g301" x2="0" y2="1"><stop offset="0.000" stop-color="#740000"/><stop offset="0.089" stop-color="#9f0000"/><stop offset="0.235" stop-color="#ff0000"/><stop offset="0.542" stop-color="#ffff00"/><stop offset="0.669" stop-color="#ffff93"/><stop offset="0.738" stop-color="#ffffa6"/><stop offset="0.814" stop-color="#ffffaa"/><stop offset="0.918" stop-color="#ffff93"/><stop offset="1.000" stop-color="#ffff47"/></linearGradient><linearGradient id="g302" x2="0" y2="1"><stop offset="0.000" stop-color="#720000"/><stop offset="0.092" stop-color="#9e0000"/><stop offset="0.238" stop-color="#ff0000"/><stop offset="0.526" stop-color="#fff100"/><stop offset="0.545" stop-color="#ffff00"/><stop offset="0.671" stop-color="#ffff92"/><stop offset="0.741" stop-color="#ffffa5"/><stop offset="0.816" stop-color="#ffffa9"/><stop offset="0.921" stop-color="#ffff92"/><stop offset="1.000" stop-color="#ffff49"/></linearGradient><linearGradient id="g303" x2="0" y2="1"><stop offset="0.000" stop-color="#710000"/><stop offset="0.095" stop-color="#9e0000"/><stop offset="0.241" stop-color="#ff0000"/><stop offset="0.548" stop-color="#ffff00"/><stop offset="0.673" stop-color="#ffff91"/><stop offset="0.743" stop-color="#ffffa4"/><stop offset="0.818" stop-color="#ffffa8"/><stop offset="0.924" stop-color="#ffff91"/><stop offset="1.000" stop-color="#ffff4b"/></linearGradient><linearGradient id="g304" x2="0" y2="1"><stop offset="0.000" stop-color="#6f0000"/><stop offset="0.097" stop-color="#9e0000"/><stop offset="0.244" stop-color="#ff0000"/><stop offset="0.386" stop-color="#ff7600"/><stop offset="0.531" stop-color="#fff000"/><stop offset="0.551" stop-color="#ffff00"/><stop offset="0.676" stop-color="#ffff90"/><stop offset="0.745" stop-color="#ffffa4"/><stop offset="0.820" stop-color="#ffffa8"/><stop offset="0.927" stop-color="#ffff90"/><stop offset="1.000" stop-color="#ffff4d"/></linearGradient><linearGradient id="g305" x2="0" y2="1"><stop offset="0.000" stop-color="#6e0000"/><stop offset="0.100" stop-color="#9e0000"/><stop offset="0.247" stop-color="#ff0000"/><stop offset="0.554" stop-color="#ffff00"/><stop offset="0.678" stop-color="#ffff90"/><stop offset="0.748" stop-color="#ffffa3"/><stop offset="0.822" stop-color="#ffffa7"/><stop offset="0.929" stop-color="#ffff90"/><stop offset="1.000" stop-color="#ffff4f"/></linearGradient><linearGradient id="g306" x2="0" y2="1"><stop offset="0.000" stop-color="#6c0000"/><stop offset="0.103" stop-color="#9e0000"/><stop offset="0.250" stop-color="#ff0000"/><stop offset="0.536" stop-color="#ffef00"/><stop offset="0.557" stop-color="#ffff00"/><stop offset="0.680" stop-color="#ffff8f"/><stop offset="0.750" stop-color="#ffffa2"/><stop offset="0.825" stop-color="#ffffa6"/><stop offset="0.932" stop-color="#ffff8f"/><stop offset="1.000" stop-color="#ffff51"/></linearGradient><linearGradient id="g307" x2="0" y2="1"><stop offset="0.000" stop-color="#6b0000"/><stop offset="0.106" stop-color="#9e0000"/><stop offset="0.250" stop-color="#fc0000"/><stop offset="0.253" stop-color="#ff0000"/><stop offset="0.394" stop-color="#ff7500"/><stop offset="0.538" stop-color="#ffef00"/><stop offset="0.560" stop-color="#ffff00"/><stop offset="0.683" stop-color="#ffff8e"/><stop offset="0.752" stop-color="#ffffa1"/><stop offset="0.827" stop-color="#ffffa5"/><stop offset="0.935" stop-color="#ffff8e"/><stop offset="1.000" stop-color="#ffff53"/></linearGradient><linearGradient id="g308" x2="0" y2="1"><stop offset="0.000" stop-color="#690000"/><stop offset="0.108" stop-color="#9e0000"/><stop offset="0.256" stop-color="#ff0000"/><stop offset="0.541" stop-color="#ffee00"/><stop offset="0.563" stop-color="#ffff00"/><stop offset="0.685" stop-color="#ffff8d"/><stop offset="0.755" stop-color="#ffffa0"/><stop offset="0.829" stop-color="#ffffa5"/><stop offset="0.938" stop-color="#ffff8d"/><stop offset="1.000" stop-color="#ffff55"/></linearGradient><linearGradient id="g309" x2="0" y2="1"><stop offset="0.000" stop-color="#680000"/><stop offset="0.111" stop-color="#9e0000"/><stop offset="0.259" stop-color="#ff0000"/><stop offset="0.543" stop-color="#ffee00"/><stop offset="0.566" stop-color="#ffff00"/><stop offset="0.687" stop-color="#ffff8c"/><stop offset="0.757" stop-color="#ffff9f"/><stop offset="0.831" stop-color="#ffffa4"/><stop offset="0.941" stop-color="#ffff8c"/><stop offset="1.000" stop-color="#ffff57"/></linearGradient><linearGradient id="g310" x2="0" y2="1"><stop offset="0.000" stop-color="#660000"/><stop offset="0.114" stop-color="#9d0000"/><stop offset="0.262" stop-color="#ff0000"/><stop offset="0.546" stop-color="#ffed00"/><stop offset="0.569" stop-color="#ffff00"/><stop offset="0.690" stop-color="#ffff8b"/><stop offset="0.759" stop-color="#ffff9f"/><stop offset="0.834" stop-color="#ffffa3"/><stop offset="0.944" stop-color="#ffff8b"/><stop offset="1.000" stop-color="#ffff59"/></linearGradient><linearGradient id="g311" x2="0" y2="1"><stop offset="0.000" stop-color="#650000"/><stop offset="0.117" stop-color="#9d0000"/><stop offset="0.265" stop-color="#ff0000"/><stop offset="0.548" stop-color="#ffed00"/><stop offset="0.572" stop-color="#ffff00"/><stop offset="0.692" stop-color="#ffff8b"/><stop offset="0.762" stop-color="#ffff9e"/><stop offset="0.836" stop-color="#ffffa2"/><stop offset="0.947" stop-color="#ffff8b"/><stop offset="1.000" stop-color="#ffff5b"/></linearGradient><linearGradient id="g312" x2="0" y2="1"><stop offset="0.000" stop-color="#630000"/><stop offset="0.120" stop-color="#9d0000"/><stop offset="0.263" stop-color="#fb0000"/><stop offset="0.268" stop-color="#ff0000"/><stop offset="0.551" stop-color="#ffec00"/><stop offset="0.575" stop-color="#ffff00"/><stop offset="0.695" stop-color="#ffff8a"/><stop offset="0.764" stop-color="#ffff9d"/><stop offset="0.838" stop-color="#ffffa2"/><stop offset="0.949" stop-color="#ffff8a"/><stop offset="1.000" stop-color="#ffff5d"/></linearGradient><linearGradient id="g313" x2="0" y2="1"><stop offset="0.000" stop-color="#620000"/><stop offset="0.123" stop-color="#9d0000"/><stop offset="0.271" stop-color="#ff0000"/><stop offset="0.410" stop-color="#ff7300"/><stop offset="0.553" stop-color="#ffec00"/><stop offset="0.578" stop-color="#ffff00"/><stop offset="0.697" stop-color="#ffff89"/><stop offset="0.767" stop-color="#ffff9c"/><stop offset="0.841" stop-color="#ffffa1"/><stop offset="0.952" stop-color="#ffff89"/><stop offset="1.000" stop-color="#ffff5e"/></linearGradient><linearGradient id="g314" x2="0" y2="1"><stop offset="0.000" stop-color="#600000"/><stop offset="0.126" stop-color="#9d0000"/><stop offset="0.274" stop-color="#ff0000"/><stop offset="0.556" stop-color="#ffeb00"/><stop offset="0.581" stop-color="#ffff00"/><stop offset="0.699" stop-color="#ffff88"/><stop offset="0.769" stop-color="#ffff9b"/><stop offset="0.843" stop-color="#ffffa0"/><stop offset="0.955" stop-color="#ffff88"/><stop offset="1.000" stop-color="#ffff60"/></linearGradient><linearGradient id="g315" x2="0" y2="1"><stop offset="0.000" stop-color="#5f0000"/><stop offset="0.128" stop-color="#9d0000"/><stop offset="0.277" stop-color="#ff0000"/><stop offset="0.558" stop-color="#ffeb00"/><stop offset="0.585" stop-color="#ffff00"/><stop offset="0.702" stop-color="#ffff87"/><stop offset="0.771" stop-color="#ffff9a"/><stop offset="0.845" stop-color="#ffff9f"/><stop offset="0.958" stop-color="#ffff87"/><stop offset="1.000" stop-color="#ffff62"/></linearGradient><linearGradient id="g316" x2="0" y2="1"><stop offset="0.000" stop-color="#5d0000"/><stop offset="0.131" stop-color="#9c0000"/><stop offset="0.275" stop-color="#fa0000"/><stop offset="0.280" stop-color="#ff0000"/><stop offset="0.418" stop-color="#ff7200"/><stop offset="0.561" stop-color="#ffeb00"/><stop offset="0.588" stop-color="#ffff00"/><stop offset="0.704" stop-color="#ffff86"/><stop offset="0.774" stop-color="#ffff9a"/><stop offset="0.848" stop-color="#ffff9e"/><stop offset="0.961" stop-color="#ffff86"/><stop offset="1.000" stop-color="#ffff64"/></linearGradient><linearGradient id="g317" x2="0" y2="1"><stop offset="0.000" stop-color="#5c0000"/><stop offset="0.134" stop-color="#9c0000"/><stop offset="0.277" stop-color="#fa0000"/><stop offset="0.283" stop-color="#ff0000"/><stop offset="0.564" stop-color="#ffea00"/><stop offset="0.591" stop-color="#ffff00"/><stop offset="0.707" stop-color="#ffff86"/><stop offset="0.776" stop-color="#ffff99"/><stop offset="0.850" stop-color="#ffff9e"/><stop offset="0.964" stop-color="#ffff86"/><stop offset="1.000" stop-color="#ffff66"/></linearGradient><linearGradient id="g318" x2="0" y2="1"><stop offset="0.000" stop-color="#5a0000"/><stop offset="0.137" stop-color="#9c0000"/><stop offset="0.286" stop-color="#ff0000"/><stop offset="0.566" stop-color="#ffea00"/><stop offset="0.594" stop-color="#ffff00"/><stop offset="0.709" stop-color="#ffff85"/><stop offset="0.779" stop-color="#ffff98"/><stop offset="0.852" stop-color="#ffff9d"/><stop offset="0.967" stop-color="#ffff85"/><stop offset="1.000" stop-color="#ffff68"/></linearGradient><linearGradient id="g319" x2="0" y2="1"><stop offset="0.000" stop-color="#590000"/><stop offset="0.140" stop-color="#9c0000"/><stop offset="0.290" stop-color="#ff0000"/><stop offset="0.569" stop-color="#ffe900"/><stop offset="0.597" stop-color="#ffff00"/><stop offset="0.712" stop-color="#ffff84"/><stop offset="0.781" stop-color="#ffff97"/><stop offset="0.855" stop-color="#ffff9c"/><stop offset="0.970" stop-color="#ffff84"/><stop offset="1.000" stop-color="#ffff6a"/></linearGradient><linearGradient id="g320" x2="0" y2="1"><stop offset="0.000" stop-color="#570000"/><stop offset="0.143" stop-color="#9c0000"/><stop offset="0.286" stop-color="#f90000"/><stop offset="0.293" stop-color="#ff0000"/><stop offset="0.571" stop-color="#ffe900"/><stop offset="0.600" stop-color="#ffff00"/><stop offset="0.714" stop-color="#ffff83"/><stop offset="0.783" stop-color="#ffff96"/><stop offset="0.857" stop-color="#ffff9b"/><stop offset="0.973" stop-color="#ffff83"/><stop offset="1.000" stop-color="#ffff6b"/></linearGradient><linearGradient id="g321" x2="0" y2="1"><stop offset="0.000" stop-color="#560000"/><stop offset="0.146" stop-color="#9c0000"/><stop offset="0.289" stop-color="#f90000"/><stop offset="0.296" stop-color="#ff0000"/><stop offset="0.574" stop-color="#ffe800"/><stop offset="0.604" stop-color="#ffff00"/><stop offset="0.717" stop-color="#ffff82"/><stop offset="0.786" stop-color="#ffff95"/><stop offset="0.859" stop-color="#ffff9a"/><stop offset="0.976" stop-color="#ffff82"/><stop offset="1.000" stop-color="#ffff6d"/></linearGradient><linearGradient id="g322" x2="0" y2="1"><stop offset="0.000" stop-color="#550000"/><stop offset="0.007" stop-color="#570000"/><stop offset="0.149" stop-color="#9c0000"/><stop offset="0.292" stop-color="#f90000"/><stop offset="0.299" stop-color="#ff0000"/><stop offset="0.577" stop-color="#ffe800"/><stop offset="0.607" stop-color="#ffff00"/><stop offset="0.719" stop-color="#ffff81"/><stop offset="0.788" stop-color="#ffff94"/><stop offset="0.862" stop-color="#ffff9a"/><stop offset="0.979" stop-color="#ffff81"/><stop offset="1.000" stop-color="#ffff6f"/></linearGradient><linearGradient id="g323" x2="0" y2="1"><stop offset="0.000" stop-color="#540000"/><stop offset="0.010" stop-color="#570000"/><stop offset="0.152" stop-color="#9b0000"/><stop offset="0.302" stop-color="#ff0000"/><stop offset="0.579" stop-color="#ffe700"/><stop offset="0.610" stop-color="#ffff00"/><stop offset="0.722" stop-color="#ffff81"/><stop offset="0.791" stop-color="#ffff94"/><stop offset="0.864" stop-color="#ffff99"/><stop offset="0.982" stop-color="#ffff81"/><stop offset="1.000" stop-color="#ffff71"/></linearGradient><linearGradient id="g324" x2="0" y2="1"><stop offset="0.000" stop-color="#520000"/><stop offset="0.013" stop-color="#570000"/><stop offset="0.155" stop-color="#9b0000"/><stop offset="0.298" stop-color="#f80000"/><stop offset="0.305" stop-color="#ff0000"/><stop offset="0.582" stop-color="#ffe700"/><stop offset="0.614" stop-color="#ffff00"/><stop offset="0.724" stop-color="#ffff80"/><stop offset="0.793" stop-color="#ffff93"/><stop offset="0.866" stop-color="#ffff98"/><stop offset="0.985" stop-color="#ffff80"/><stop offset="1.000" stop-color="#ffff73"/></linearGradient><linearGradient id="g325" x2="0" y2="1"><stop offset="0.000" stop-color="#510000"/><stop offset="0.016" stop-color="#570000"/><stop offset="0.158" stop-color="#9b0000"/><stop offset="0.301" stop-color="#f80000"/><stop offset="0.309" stop-color="#ff0000"/><stop offset="0.585" stop-color="#ffe600"/><stop offset="0.617" stop-color="#ffff00"/><stop offset="0.727" stop-color="#ffff7f"/><stop offset="0.796" stop-color="#ffff92"/><stop offset="0.869" stop-color="#ffff97"/><stop offset="0.988" stop-color="#ffff7f"/><stop offset="1.000" stop-color="#ffff74"/></linearGradient><linearGradient id="g326" x2="0" y2="1"><stop offset="0.000" stop-color="#500000"/><stop offset="0.020" stop-color="#570000"/><stop offset="0.162" stop-color="#9b0000"/><stop offset="0.303" stop-color="#f80000"/><stop offset="0.312" stop-color="#ff0000"/><stop offset="0.587" stop-color="#ffe600"/><stop offset="0.620" stop-color="#ffff00"/><stop offset="0.729" stop-color="#ffff7e"/><stop offset="0.798" stop-color="#ffff91"/><stop offset="0.871" stop-color="#ffff96"/><stop offset="0.991" stop-color="#ffff7e"/><stop offset="1.000" stop-color="#ffff76"/></linearGradient><linearGradient id="g327" x2="0" y2="1"><stop offset="0.000" stop-color="#4f0000"/><stop offset="0.023" stop-color="#570000"/><stop offset="0.165" stop-color="#9b0000"/><stop offset="0.306" stop-color="#f80000"/><stop offset="0.315" stop-color="#ff0000"/><stop offset="0.590" stop-color="#ffe500"/><stop offset="0.623" stop-color="#ffff00"/><stop offset="0.732" stop-color="#ffff7d"/><stop offset="0.801" stop-color="#ffff90"/><stop offset="0.874" stop-color="#ffff95"/><stop offset="0.994" stop-color="#ffff7d"/><stop offset="1.000" stop-color="#ffff78"/></linearGradient><linearGradient id="g328" x2="0" y2="1"><stop offset="0.000" stop-color="#4e0000"/><stop offset="0.026" stop-color="#570000"/><stop offset="0.168" stop-color="#9b0000"/><stop offset="0.309" stop-color="#f80000"/><stop offset="0.318" stop-color="#ff0000"/><stop offset="0.593" stop-color="#ffe500"/><stop offset="0.627" stop-color="#ffff00"/><stop offset="0.734" stop-color="#ffff7c"/><stop offset="0.803" stop-color="#ffff8f"/><stop offset="0.876" stop-color="#ffff94"/><stop offset="0.997" stop-color="#ffff7c"/><stop offset="1.000" stop-color="#ffff79"/></linearGradient><linearGradient id="g329" x2="0" y2="1"><stop offset="0.000" stop-color="#4c0000"/><stop offset="0.029" stop-color="#570000"/><stop offset="0.171" stop-color="#9b0000"/><stop offset="0.312" stop-color="#f70000"/><stop offset="0.322" stop-color="#ff0000"/><stop offset="0.595" stop-color="#ffe400"/><stop offset="0.630" stop-color="#ffff00"/><stop offset="0.737" stop-color="#ffff7b"/><stop offset="0.806" stop-color="#ffff8e"/><stop offset="0.878" stop-color="#ffff94"/><stop offset="1.000" stop-color="#ffff7b"/></linearGradient><linearGradient id="g330" x2="0" y2="1"><stop offset="0.000" stop-color="#4b0000"/><stop offset="0.033" stop-color="#560000"/><stop offset="0.174" stop-color="#9a0000"/><stop offset="0.315" stop-color="#f70000"/><stop offset="0.325" stop-color="#ff0000"/><stop offset="0.598" stop-color="#ffe400"/><stop offset="0.633" stop-color="#ffff00"/><stop offset="0.740" stop-color="#ffff7a"/><stop offset="0.808" stop-color="#ffff8d"/><stop offset="0.881" stop-color="#ffff93"/><stop offset="1.000" stop-color="#ffff7b"/></linearGradient><linearGradient id="g331" x2="0" y2="1"><stop offset="0.000" stop-color="#4a0000"/><stop offset="0.036" stop-color="#560000"/><stop offset="0.177" stop-color="#9a0000"/><stop offset="0.318" stop-color="#f70000"/><stop offset="0.328" stop-color="#ff0000"/><stop offset="0.601" stop-color="#ffe300"/><stop offset="0.637" stop-color="#ffff00"/><stop offset="0.742" stop-color="#ffff79"/><stop offset="0.811" stop-color="#ffff8c"/><stop offset="0.883" stop-color="#ffff92"/><stop offset="1.000" stop-color="#ffff7b"/></linearGradient><linearGradient id="g332" x2="0" y2="1"><stop offset="0.000" stop-color="#490000"/><stop offset="0.039" stop-color="#560000"/><stop offset="0.180" stop-color="#9a0000"/><stop offset="0.322" stop-color="#f70000"/><stop offset="0.332" stop-color="#ff0000"/><stop offset="0.604" stop-color="#ffe300"/><stop offset="0.640" stop-color="#ffff00"/><stop offset="0.745" stop-color="#ffff79"/><stop offset="0.813" stop-color="#ffff8b"/><stop offset="0.886" stop-color="#ffff91"/><stop offset="1.000" stop-color="#ffff7a"/></linearGradient><linearGradient id="g333" x2="0" y2="1"><stop offset="0.000" stop-color="#470000"/><stop offset="0.043" stop-color="#560000"/><stop offset="0.184" stop-color="#9a0000"/><stop offset="0.325" stop-color="#f60000"/><stop offset="0.335" stop-color="#ff0000"/><stop offset="0.606" stop-color="#ffe200"/><stop offset="0.644" stop-color="#ffff00"/><stop offset="0.747" stop-color="#ffff78"/><stop offset="0.816" stop-color="#ffff8b"/><stop offset="0.888" stop-color="#ffff90"/><stop offset="1.000" stop-color="#ffff7a"/></linearGradient><linearGradient id="g334" x2="0" y2="1"><stop offset="0.000" stop-color="#460000"/><stop offset="0.046" stop-color="#560000"/><stop offset="0.187" stop-color="#9a0000"/><stop offset="0.328" stop-color="#f60000"/><stop offset="0.338" stop-color="#ff0000"/><stop offset="0.609" stop-color="#ffe200"/><stop offset="0.647" stop-color="#ffff00"/><stop offset="0.750" stop-color="#ffff77"/><stop offset="0.819" stop-color="#ffff8a"/><stop offset="0.891" stop-color="#ffff8f"/><stop offset="1.000" stop-color="#ffff7a"/></linearGradient><linearGradient id="g335" x2="0" y2="1"><stop offset="0.000" stop-color="#450000"/><stop offset="0.049" stop-color="#560000"/><stop offset="0.190" stop-color="#9a0000"/><stop offset="0.331" stop-color="#f60000"/><stop offset="0.342" stop-color="#ff0000"/><stop offset="0.612" stop-color="#ffe100"/><stop offset="0.650" stop-color="#ffff00"/><stop offset="0.753" stop-color="#ffff76"/><stop offset="0.821" stop-color="#ffff89"/><stop offset="0.893" stop-color="#ffff8e"/><stop offset="1.000" stop-color="#ffff79"/></linearGradient><linearGradient id="g336" x2="0" y2="1"><stop offset="0.000" stop-color="#430000"/><stop offset="0.053" stop-color="#560000"/><stop offset="0.193" stop-color="#990000"/><stop offset="0.334" stop-color="#f50000"/><stop offset="0.345" stop-color="#ff0000"/><stop offset="0.615" stop-color="#ffe100"/><stop offset="0.654" stop-color="#ffff00"/><stop offset="0.755" stop-color="#ffff75"/><stop offset="0.824" stop-color="#ffff88"/><stop offset="0.896" stop-color="#ffff8e"/><stop offset="1.000" stop-color="#ffff79"/></linearGradient><linearGradient id="g337" x2="0" y2="1"><stop offset="0.000" stop-color="#420000"/><stop offset="0.056" stop-color="#560000"/><stop offset="0.197" stop-color="#990000"/><stop offset="0.337" stop-color="#f50000"/><stop offset="0.349" stop-color="#ff0000"/><stop offset="0.618" stop-color="#ffe000"/><stop offset="0.657" stop-color="#ffff00"/><stop offset="0.758" stop-color="#ffff74"/><stop offset="0.826" stop-color="#ffff87"/><stop offset="0.898" stop-color="#ffff8d"/><stop offset="1.000" stop-color="#ffff79"/></linearGradient><linearGradient id="g338" x2="0" y2="1"><stop offset="0.000" stop-color="#410000"/><stop offset="0.060" stop-color="#560000"/><stop offset="0.200" stop-color="#990000"/><stop offset="0.340" stop-color="#f50000"/><stop offset="0.352" stop-color="#ff0000"/><stop offset="0.620" stop-color="#ffe000"/><stop offset="0.661" stop-color="#ffff00"/><stop offset="0.761" stop-color="#ffff73"/><stop offset="0.829" stop-color="#ffff86"/><stop offset="0.901" stop-color="#ffff8c"/><stop offset="1.000" stop-color="#ffff79"/></linearGradient><linearGradient id="g339" x2="0" y2="1"><stop offset="0.000" stop-color="#400000"/><stop offset="0.063" stop-color="#560000"/><stop offset="0.203" stop-color="#990000"/><stop offset="0.343" stop-color="#f50000"/><stop offset="0.356" stop-color="#ff0000"/><stop offset="0.623" stop-color="#ffdf00"/><stop offset="0.664" stop-color="#ffff00"/><stop offset="0.763" stop-color="#ffff72"/><stop offset="0.831" stop-color="#ffff85"/><stop offset="0.903" stop-color="#ffff8b"/><stop offset="1.000" stop-color="#ffff78"/></linearGradient><linearGradient id="g340" x2="0" y2="1"><stop offset="0.000" stop-color="#3e0000"/><stop offset="0.067" stop-color="#560000"/><stop offset="0.206" stop-color="#990000"/><stop offset="0.346" stop-color="#f40000"/><stop offset="0.359" stop-color="#ff0000"/><stop offset="0.626" stop-color="#ffdf00"/><stop offset="0.668" stop-color="#ffff00"/><stop offset="0.766" stop-color="#ffff71"/><stop offset="0.834" stop-color="#ffff84"/><stop offset="0.906" stop-color="#ffff8a"/><stop offset="1.000" stop-color="#ffff78"/></linearGradient><linearGradient id="g341" x2="0" y2="1"><stop offset="0.000" stop-color="#3d0000"/><stop offset="0.070" stop-color="#550000"/><stop offset="0.210" stop-color="#990000"/><stop offset="0.350" stop-color="#f40000"/><stop offset="0.363" stop-color="#ff0000"/><stop offset="0.629" stop-color="#ffde00"/><stop offset="0.671" stop-color="#ffff00"/><stop offset="0.769" stop-color="#ffff70"/><stop offset="0.837" stop-color="#ffff83"/><stop offset="0.908" stop-color="#ffff89"/><stop offset="1.000" stop-color="#ffff77"/></linearGradient><linearGradient id="g342" x2="0" y2="1"><stop offset="0.000" stop-color="#3c0000"/><stop offset="0.074" stop-color="#550000"/><stop offset="0.213" stop-color="#980000"/><stop offset="0.353" stop-color="#f40000"/><stop offset="0.366" stop-color="#ff0000"/><stop offset="0.632" stop-color="#ffde00"/><stop offset="0.675" stop-color="#ffff00"/><stop offset="0.771" stop-color="#ffff6f"/><stop offset="0.839" stop-color="#ffff82"/><stop offset="0.911" stop-color="#ffff88"/><stop offset="1.000" stop-color="#ffff77"/></linearGradient><linearGradient id="g343" x2="0" y2="1"><stop offset="0.000" stop-color="#3a0000"/><stop offset="0.077" stop-color="#550000"/><stop offset="0.217" stop-color="#980000"/><stop offset="0.356" stop-color="#f40000"/><stop offset="0.370" stop-color="#ff0000"/><stop offset="0.635" stop-color="#ffdd00"/><stop offset="0.678" stop-color="#ffff00"/><stop offset="0.774" stop-color="#ffff6e"/><stop offset="0.842" stop-color="#ffff81"/><stop offset="0.913" stop-color="#ffff87"/><stop offset="1.000" stop-color="#ffff77"/></linearGradient><linearGradient id="g344" x2="0" y2="1"><stop offset="0.000" stop-color="#390000"/><stop offset="0.081" stop-color="#550000"/><stop offset="0.220" stop-color="#980000"/><stop offset="0.359" stop-color="#f30000"/><stop offset="0.373" stop-color="#ff0000"/><stop offset="0.638" stop-color="#ffdd00"/><stop offset="0.682" stop-color="#ffff00"/><stop offset="0.777" stop-color="#ffff6e"/><stop offset="0.845" stop-color="#ffff80"/><stop offset="0.916" stop-color="#ffff86"/><stop offset="1.000" stop-color="#ffff76"/></linearGradient><linearGradient id="g345" x2="0" y2="1"><stop offset="0.000" stop-color="#380000"/><stop offset="0.084" stop-color="#550000"/><stop offset="0.223" stop-color="#980000"/><stop offset="0.362" stop-color="#f30000"/><stop offset="0.377" stop-color="#ff0000"/><stop offset="0.640" stop-color="#ffdc00"/><stop offset="0.685" stop-color="#ffff00"/><stop offset="0.780" stop-color="#ffff6d"/><stop offset="0.847" stop-color="#ffff7f"/><stop offset="0.919" stop-color="#ffff85"/><stop offset="1.000" stop-color="#ffff76"/></linearGradient><linearGradient id="g346" x2="0" y2="1"><stop offset="0.000" stop-color="#360000"/><stop offset="0.088" stop-color="#550000"/><stop offset="0.227" stop-color="#980000"/><stop offset="0.366" stop-color="#f30000"/><stop offset="0.380" stop-color="#ff0000"/><stop offset="0.643" stop-color="#ffdc00"/><stop offset="0.689" stop-color="#ffff00"/><stop offset="0.782" stop-color="#ffff6c"/><stop offset="0.850" stop-color="#ffff7e"/><stop offset="0.921" stop-color="#ffff85"/><stop offset="1.000" stop-color="#ffff76"/></linearGradient><linearGradient id="g347" x2="0" y2="1"><stop offset="0.000" stop-color="#350000"/><stop offset="0.091" stop-color="#550000"/><stop offset="0.230" stop-color="#980000"/><stop offset="0.369" stop-color="#f30000"/><stop offset="0.384" stop-color="#ff0000"/><stop offset="0.646" stop-color="#ffdb00"/><stop offset="0.693" stop-color="#ffff00"/><stop offset="0.785" stop-color="#ffff6b"/><stop offset="0.853" stop-color="#ffff7d"/><stop offset="0.924" stop-color="#ffff84"/><stop offset="1.000" stop-color="#ffff75"/></linearGradient><linearGradient id="g348" x2="0" y2="1"><stop offset="0.000" stop-color="#340000"/><stop offset="0.095" stop-color="#550000"/><stop offset="0.234" stop-color="#970000"/><stop offset="0.372" stop-color="#f20000"/><stop offset="0.387" stop-color="#ff0000"/><stop offset="0.649" stop-color="#ffdb00"/><stop offset="0.696" stop-color="#ffff00"/><stop offset="0.788" stop-color="#ffff6a"/><stop offset="0.855" stop-color="#ffff7c"/><stop offset="0.926" stop-color="#ffff83"/><stop offset="1.000" stop-color="#ffff75"/></linearGradient><linearGradient id="g349" x2="0" y2="1"><stop offset="0.000" stop-color="#320000"/><stop offset="0.099" stop-color="#550000"/><stop offset="0.237" stop-color="#970000"/><stop offset="0.376" stop-color="#f20000"/><stop offset="0.391" stop-color="#ff0000"/><stop offset="0.652" stop-color="#ffda00"/><stop offset="0.700" stop-color="#ffff00"/><stop offset="0.791" stop-color="#ffff69"/><stop offset="0.858" stop-color="#ffff7b"/><stop offset="0.929" stop-color="#ffff82"/><stop offset="1.000" stop-color="#ffff74"/></linearGradient><linearGradient id="g350" x2="0" y2="1"><stop offset="0.000" stop-color="#310000"/><stop offset="0.102" stop-color="#550000"/><stop offset="0.241" stop-color="#970000"/><stop offset="0.379" stop-color="#f20000"/><stop offset="0.395" stop-color="#ff0000"/><stop offset="0.655" stop-color="#ffda00"/><stop offset="0.704" stop-color="#ffff00"/><stop offset="0.793" stop-color="#ffff68"/><stop offset="0.861" stop-color="#ffff7a"/><stop offset="0.932" stop-color="#ffff81"/><stop offset="1.000" stop-color="#ffff74"/></linearGradient><linearGradient id="g351" x2="0" y2="1"><stop offset="0.000" stop-color="#2f0000"/><stop offset="0.106" stop-color="#550000"/><stop offset="0.244" stop-color="#970000"/><stop offset="0.382" stop-color="#f20000"/><stop offset="0.398" stop-color="#ff0000"/><stop offset="0.658" stop-color="#ffd900"/><stop offset="0.707" stop-color="#ffff00"/><stop offset="0.796" stop-color="#ffff67"/><stop offset="0.863" stop-color="#ffff79"/><stop offset="0.934" stop-color="#ffff80"/><stop offset="1.000" stop-color="#ffff74"/></linearGradient><linearGradient id="g352" x2="0" y2="1"><stop offset="0.000" stop-color="#2e0000"/><stop offset="0.110" stop-color="#540000"/><stop offset="0.248" stop-color="#970000"/><stop offset="0.385" stop-color="#f10000"/><stop offset="0.402" stop-color="#ff0000"/><stop offset="0.661" stop-color="#ffd900"/><stop offset="0.711" stop-color="#ffff00"/><stop offset="0.799" stop-color="#ffff66"/><stop offset="0.866" stop-color="#ffff78"/><stop offset="0.937" stop-color="#ffff7f"/><stop offset="1.000" stop-color="#ffff73"/></linearGradient><linearGradient id="g353" x2="0" y2="1"><stop offset="0.000" stop-color="#2d0000"/><stop offset="0.113" stop-color="#540000"/><stop offset="0.251" stop-color="#970000"/><stop offset="0.389" stop-color="#f10000"/><stop offset="0.406" stop-color="#ff0000"/><stop offset="0.664" stop-color="#ffd800"/><stop offset="0.715" stop-color="#ffff00"/><stop offset="0.802" stop-color="#ffff65"/><stop offset="0.869" stop-color="#ffff77"/><stop offset="0.940" stop-color="#ffff7e"/><stop offset="1.000" stop-color="#ffff73"/></linearGradient><linearGradient id="g354" x2="0" y2="1"><stop offset="0.000" stop-color="#2b0000"/><stop offset="0.117" stop-color="#540000"/><stop offset="0.255" stop-color="#960000"/><stop offset="0.392" stop-color="#f10000"/><stop offset="0.409" stop-color="#ff0000"/><stop offset="0.667" stop-color="#ffd800"/><stop offset="0.718" stop-color="#ffff00"/><stop offset="0.805" stop-color="#ffff64"/><stop offset="0.872" stop-color="#ffff76"/><stop offset="0.942" stop-color="#ffff7d"/><stop offset="1.000" stop-color="#ffff72"/></linearGradient><linearGradient id="g355" x2="0" y2="1"><stop offset="0.000" stop-color="#2a0000"/><stop offset="0.121" stop-color="#540000"/><stop offset="0.258" stop-color="#960000"/><stop offset="0.396" stop-color="#f10000"/><stop offset="0.413" stop-color="#ff0000"/><stop offset="0.670" stop-color="#ffd700"/><stop offset="0.722" stop-color="#ffff00"/><stop offset="0.808" stop-color="#ffff63"/><stop offset="0.874" stop-color="#ffff75"/><stop offset="0.945" stop-color="#ffff7c"/><stop offset="1.000" stop-color="#ffff72"/></linearGradient><linearGradient id="g356" x2="0" y2="1"><stop offset="0.000" stop-color="#280000"/><stop offset="0.125" stop-color="#540000"/><stop offset="0.262" stop-color="#960000"/><stop offset="0.399" stop-color="#f00000"/><stop offset="0.417" stop-color="#ff0000"/><stop offset="0.536" stop-color="#ff6300"/><stop offset="0.673" stop-color="#ffd700"/><stop offset="0.726" stop-color="#ffff00"/><stop offset="0.810" stop-color="#ffff62"/><stop offset="0.877" stop-color="#ffff74"/><stop offset="0.948" stop-color="#ffff7b"/><stop offset="1.000" stop-color="#ffff72"/></linearGradient><linearGradient id="g357" x2="0" y2="1"><stop offset="0.000" stop-color="#270000"/><stop offset="0.129" stop-color="#540000"/><stop offset="0.265" stop-color="#960000"/><stop offset="0.402" stop-color="#f00000"/><stop offset="0.421" stop-color="#ff0000"/><stop offset="0.676" stop-color="#ffd600"/><stop offset="0.729" stop-color="#ffff00"/><stop offset="0.813" stop-color="#ffff61"/><stop offset="0.880" stop-color="#ffff73"/><stop offset="0.950" stop-color="#ffff7a"/><stop offset="1.000" stop-color="#ffff71"/></linearGradient><linearGradient id="g358" x2="0" y2="1"><stop offset="0.000" stop-color="#260000"/><stop offset="0.132" stop-color="#540000"/><stop offset="0.269" stop-color="#960000"/><stop offset="0.406" stop-color="#f00000"/><stop offset="0.424" stop-color="#ff0000"/><stop offset="0.679" stop-color="#ffd600"/><stop offset="0.733" stop-color="#ffff00"/><stop offset="0.816" stop-color="#ffff60"/><stop offset="0.883" stop-color="#ffff72"/><stop offset="0.953" stop-color="#ffff79"/><stop offset="1.000" stop-color="#ffff71"/></linearGradient><linearGradient id="g359" x2="0" y2="1"><stop offset="0.000" stop-color="#240000"/><stop offset="0.136" stop-color="#540000"/><stop offset="0.273" stop-color="#960000"/><stop offset="0.409" stop-color="#ef0000"/><stop offset="0.428" stop-color="#ff0000"/><stop offset="0.682" stop-color="#ffd500"/><stop offset="0.737" stop-color="#ffff00"/><stop offset="0.819" stop-color="#ffff5f"/><stop offset="0.885" stop-color="#ffff71"/><stop offset="0.956" stop-color="#ffff78"/><stop offset="1.000" stop-color="#ffff70"/></linearGradient><linearGradient id="g360" x2="0" y2="1"><stop offset="0.000" stop-color="#230000"/><stop offset="0.140" stop-color="#540000"/><stop offset="0.276" stop-color="#950000"/><stop offset="0.413" stop-color="#ef0000"/><stop offset="0.432" stop-color="#ff0000"/><stop offset="0.686" stop-color="#ffd400"/><stop offset="0.741" stop-color="#ffff00"/><stop offset="0.822" stop-color="#ffff5e"/><stop offset="0.888" stop-color="#ffff70"/><stop offset="0.958" stop-color="#ffff77"/><stop offset="1.000" stop-color="#ffff70"/></linearGradient><linearGradient id="g361" x2="0" y2="1"><stop offset="0.000" stop-color="#220000"/><stop offset="0.144" stop-color="#540000"/><stop offset="0.280" stop-color="#950000"/><stop offset="0.416" stop-color="#ef0000"/><stop offset="0.436" stop-color="#ff0000"/><stop offset="0.689" stop-color="#ffd400"/><stop offset="0.744" stop-color="#ffff00"/><stop offset="0.825" stop-color="#ffff5d"/><stop offset="0.891" stop-color="#ffff6f"/><stop offset="0.961" stop-color="#ffff76"/><stop offset="1.000" stop-color="#ffff6f"/></linearGradient><linearGradient id="g362" x2="0" y2="1"><stop offset="0.000" stop-color="#220000"/><stop offset="0.012" stop-color="#240000"/><stop offset="0.148" stop-color="#530000"/><stop offset="0.284" stop-color="#950000"/><stop offset="0.420" stop-color="#ef0000"/><stop offset="0.440" stop-color="#ff0000"/><stop offset="0.692" stop-color="#ffd300"/><stop offset="0.748" stop-color="#ffff00"/><stop offset="0.828" stop-color="#ffff5c"/><stop offset="0.894" stop-color="#ffff6e"/><stop offset="0.964" stop-color="#ffff75"/><stop offset="1.000" stop-color="#ffff6f"/></linearGradient><linearGradient id="g363" x2="0" y2="1"><stop offset="0.000" stop-color="#210000"/><stop offset="0.016" stop-color="#240000"/><stop offset="0.152" stop-color="#530000"/><stop offset="0.287" stop-color="#950000"/><stop offset="0.423" stop-color="#ee0000"/><stop offset="0.443" stop-color="#ff0000"/><stop offset="0.559" stop-color="#ff6000"/><stop offset="0.695" stop-color="#ffd300"/><stop offset="0.752" stop-color="#ffff00"/><stop offset="0.831" stop-color="#ffff5b"/><stop offset="0.897" stop-color="#ffff6d"/><stop offset="0.967" stop-color="#ffff74"/><stop offset="1.000" stop-color="#ffff6e"/></linearGradient><linearGradient id="g364" x2="0" y2="1"><stop offset="0.000" stop-color="#200000"/><stop offset="0.020" stop-color="#240000"/><stop offset="0.156" stop-color="#530000"/><stop offset="0.291" stop-color="#950000"/><stop offset="0.427" stop-color="#ee0000"/><stop offset="0.447" stop-color="#ff0000"/><stop offset="0.698" stop-color="#ffd200"/><stop offset="0.756" stop-color="#ffff00"/><stop offset="0.834" stop-color="#ffff5a"/><stop offset="0.900" stop-color="#ffff6c"/><stop offset="0.969" stop-color="#ffff73"/><stop offset="1.000" stop-color="#ffff6e"/></linearGradient><linearGradient id="g365" x2="0" y2="1"><stop offset="0.000" stop-color="#1f0000"/><stop offset="0.024" stop-color="#240000"/><stop offset="0.160" stop-color="#530000"/><stop offset="0.295" stop-color="#950000"/><stop offset="0.430" stop-color="#ee0000"/><stop offset="0.451" stop-color="#ff0000"/><stop offset="0.701" stop-color="#ffd200"/><stop offset="0.760" stop-color="#ffff00"/><stop offset="0.837" stop-color="#ffff59"/><stop offset="0.902" stop-color="#ffff6b"/><stop offset="0.972" stop-color="#ffff72"/><stop offset="1.000" stop-color="#ffff6d"/></linearGradient><linearGradient id="g366" x2="0" y2="1"><stop offset="0.000" stop-color="#1f0000"/><stop offset="0.028" stop-color="#240000"/><stop offset="0.163" stop-color="#530000"/><stop offset="0.299" stop-color="#940000"/><stop offset="0.434" stop-color="#ed0000"/><stop offset="0.455" stop-color="#ff0000"/><stop offset="0.704" stop-color="#ffd100"/><stop offset="0.764" stop-color="#ffff00"/><stop offset="0.840" stop-color="#ffff58"/><stop offset="0.905" stop-color="#ffff6a"/><stop offset="0.975" stop-color="#ffff71"/><stop offset="1.000" stop-color="#ffff6d"/></linearGradient><linearGradient id="g367" x2="0" y2="1"><stop offset="0.000" stop-color="#1e0000"/><stop offset="0.032" stop-color="#240000"/><stop offset="0.167" stop-color="#530000"/><stop offset="0.302" stop-color="#940000"/><stop offset="0.438" stop-color="#ed0000"/><stop offset="0.459" stop-color="#ff0000"/><stop offset="0.708" stop-color="#ffd100"/><stop offset="0.768" stop-color="#ffff00"/><stop offset="0.843" stop-color="#ffff57"/><stop offset="0.908" stop-color="#ffff69"/><stop offset="0.978" stop-color="#ffff70"/><stop offset="1.000" stop-color="#ffff6c"/></linearGradient><linearGradient id="g368" x2="0" y2="1"><stop offset="0.000" stop-color="#1d0000"/><stop offset="0.037" stop-color="#240000"/><stop offset="0.171" stop-color="#530000"/><stop offset="0.306" stop-color="#940000"/><stop offset="0.441" stop-color="#ed0000"/><stop offset="0.463" stop-color="#ff0000"/><stop offset="0.711" stop-color="#ffd000"/><stop offset="0.772" stop-color="#ffff00"/><stop offset="0.846" stop-color="#ffff56"/><stop offset="0.911" stop-color="#ffff68"/><stop offset="0.980" stop-color="#ffff6f"/><stop offset="1.000" stop-color="#ffff6c"/></linearGradient><linearGradient id="g369" x2="0" y2="1"><stop offset="0.000" stop-color="#1c0000"/><stop offset="0.041" stop-color="#230000"/><stop offset="0.175" stop-color="#530000"/><stop offset="0.310" stop-color="#940000"/><stop offset="0.445" stop-color="#ed0000"/><stop offset="0.467" stop-color="#ff0000"/><stop offset="0.714" stop-color="#ffcf00"/><stop offset="0.775" stop-color="#ffff00"/><stop offset="0.849" stop-color="#ffff55"/><stop offset="0.914" stop-color="#ffff67"/><stop offset="0.983" stop-color="#ffff6e"/><stop offset="1.000" stop-color="#ffff6b"/></linearGradient><linearGradient id="g370" x2="0" y2="1"><stop offset="0.000" stop-color="#1c0000"/><stop offset="0.045" stop-color="#230000"/><stop offset="0.179" stop-color="#530000"/><stop offset="0.314" stop-color="#940000"/><stop offset="0.448" stop-color="#ec0000"/><stop offset="0.471" stop-color="#ff0000"/><stop offset="0.717" stop-color="#ffcf00"/><stop offset="0.779" stop-color="#ffff00"/><stop offset="0.852" stop-color="#ffff54"/><stop offset="0.917" stop-color="#ffff66"/><stop offset="0.986" stop-color="#ffff6d"/><stop offset="1.000" stop-color="#ffff6b"/></linearGradient><linearGradient id="g371" x2="0" y2="1"><stop offset="0.000" stop-color="#1b0000"/><stop offset="0.049" stop-color="#230000"/><stop offset="0.184" stop-color="#530000"/><stop offset="0.318" stop-color="#930000"/><stop offset="0.452" stop-color="#ec0000"/><stop offset="0.475" stop-color="#ff0000"/><stop offset="0.720" stop-color="#ffce00"/><stop offset="0.783" stop-color="#ffff00"/><stop offset="0.855" stop-color="#ffff53"/><stop offset="0.920" stop-color="#ffff65"/><stop offset="0.989" stop-color="#ffff6c"/><stop offset="1.000" stop-color="#ffff6a"/></linearGradient><linearGradient id="g372" x2="0" y2="1"><stop offset="0.000" stop-color="#1a0000"/><stop offset="0.054" stop-color="#230000"/><stop offset="0.188" stop-color="#530000"/><stop offset="0.322" stop-color="#930000"/><stop offset="0.456" stop-color="#ec0000"/><stop offset="0.479" stop-color="#ff0000"/><stop offset="0.724" stop-color="#ffce00"/><stop offset="0.787" stop-color="#ffff00"/><stop offset="0.858" stop-color="#ffff52"/><stop offset="0.923" stop-color="#ffff64"/><stop offset="0.992" stop-color="#ffff6b"/><stop offset="1.000" stop-color="#ffff6a"/></linearGradient><linearGradient id="g373" x2="0" y2="1"><stop offset="0.000" stop-color="#190000"/><stop offset="0.058" stop-color="#230000"/><stop offset="0.192" stop-color="#520000"/><stop offset="0.325" stop-color="#930000"/><stop offset="0.459" stop-color="#eb0000"/><stop offset="0.483" stop-color="#ff0000"/><stop offset="0.727" stop-color="#ffcd00"/><stop offset="0.791" stop-color="#ffff00"/><stop offset="0.861" stop-color="#ffff51"/><stop offset="0.926" stop-color="#ffff63"/><stop offset="0.995" stop-color="#ffff6a"/><stop offset="1.000" stop-color="#ffff69"/></linearGradient><linearGradient id="g374" x2="0" y2="1"><stop offset="0.000" stop-color="#180000"/><stop offset="0.062" stop-color="#230000"/><stop offset="0.196" stop-color="#520000"/><stop offset="0.329" stop-color="#930000"/><stop offset="0.463" stop-color="#eb0000"/><stop offset="0.487" stop-color="#ff0000"/><stop offset="0.730" stop-color="#ffcd00"/><stop offset="0.795" stop-color="#ffff00"/><stop offset="0.864" stop-color="#ffff50"/><stop offset="0.929" stop-color="#ffff62"/><stop offset="1.000" stop-color="#ffff69"/></linearGradient><linearGradient id="g375" x2="0" y2="1"><stop offset="0.000" stop-color="#180000"/><stop offset="0.067" stop-color="#230000"/><stop offset="0.200" stop-color="#520000"/><stop offset="0.333" stop-color="#930000"/><stop offset="0.467" stop-color="#eb0000"/><stop offset="0.491" stop-color="#ff0000"/><stop offset="0.734" stop-color="#ffcc00"/><stop offset="0.799" stop-color="#ffff00"/><stop offset="0.867" stop-color="#ffff4f"/><stop offset="0.931" stop-color="#ffff61"/><stop offset="1.000" stop-color="#ffff68"/></linearGradient><linearGradient id="g376" x2="0" y2="1"><stop offset="0.000" stop-color="#170000"/><stop offset="0.071" stop-color="#230000"/><stop offset="0.204" stop-color="#520000"/><stop offset="0.337" stop-color="#930000"/><stop offset="0.470" stop-color="#eb0000"/><stop offset="0.495" stop-color="#ff0000"/><stop offset="0.737" stop-color="#ffcc00"/><stop offset="0.803" stop-color="#ffff00"/><stop offset="0.870" stop-color="#ffff4e"/><stop offset="0.934" stop-color="#ffff5f"/><stop offset="1.000" stop-color="#ffff67"/></linearGradient><linearGradient id="g377" x2="0" y2="1"><stop offset="0.000" stop-color="#160000"/><stop offset="0.075" stop-color="#230000"/><stop offset="0.208" stop-color="#520000"/><stop offset="0.341" stop-color="#920000"/><stop offset="0.474" stop-color="#ea0000"/><stop offset="0.499" stop-color="#ff0000"/><stop offset="0.607" stop-color="#ff5a00"/><stop offset="0.740" stop-color="#ffcb00"/><stop offset="0.807" stop-color="#ffff00"/><stop offset="0.873" stop-color="#ffff4c"/><stop offset="0.937" stop-color="#ffff5e"/><stop offset="1.000" stop-color="#ffff67"/></linearGradient><linearGradient id="cb" x1="0" y1="1" x2="0" y2="0"><stop offset="0.000" stop-color="rgb(0,0,0)"/><stop offset="0.375" stop-color="rgb(255,0,0)"/><stop offset="0.750" stop-color="rgb(255,255,0)"/><stop offset="1.000" stop-color="rgb(255,255,255)"/></linearGradient></defs>
<g shape-rendering="crispEdges"><rect x="83" y="254.8" width="1" height="145.75" fill="url(#g0)"/><rect x="84" y="254.8" width="1" height="145.75" fill="url(#g1)"/><rect x="85" y="254.8" width="1" height="145.75" fill="url(#g2)"/><rect x="86" y="254.8" width="1" height="145.75" fill="url(#g3)"/><rect x="87" y="254.8" width="1" height="145.75" fill="url(#g4)"/><rect x="88" y="254.8" width="1" height="145.75" fill="url(#g5)"/><rect x="89" y="254.8" width="1" height="145.75" fill="url(#g6)"/><rect x="90" y="254.8" width="1" height="145.75" fill="url(#g7)"/><rect x="91" y="254.8" width="1" height="145.75" fill="url(#g8)"/><rect x="92" y="254.8" width="1" height="145.75" fill="url(#g9)"/><rect x="93" y="254.8" width="1" height="145.75" fill="url(#g10)"/><rect x="94" y="254.8" width="1" height="145.75" fill="url(#g11)"/><rect x="95" y="254.8" width="1" height="145.75" fill="url(#g12)"/><rect x="96" y="254.8" width="1" height="145.75" fill="url(#g13)"/><rect x="97" y="254.8" width="1" height="145.75" fill="url(#g14)"/><rect x="98" y="254.8" width="1" height="145.75" fill="url(#g15)"/><rect x="99" y="254.8" width="1" height="145.75" fill="url(#g16)"/><rect x="100" y="254.8" width="1" height="145.75" fill="url(#g17)"/><rect x="101" y="254.8" width="1" height="145.75" fill="url(#g18)"/><rect x="102" y="254.8" width="1" height="145.75" fill="url(#g19)"/><rect x="103" y="254.8" width="1" height="145.75" fill="url(#g20)"/><rect x="104" y="254.8" width="1" height="145.75" fill="url(#g21)"/><rect x="105" y="254.8" width="1" height="145.75" fill="url(#g22)"/><rect x="106" y="254.8" width="1" height="145.75" fill="url(#g23)"/><rect x="107" y="254.8" width="1" height="145.75" fill="url(#g24)"/><rect x="108" y="254.8" width="1" height="145.75" fill="url(#g25)"/><rect x="109" y="254.8" width="1" height="145.75" fill="url(#g26)"/><rect x="110" y="254.8" width="1" height="145.75" fill="url(#g27)"/><rect x="111" y="254.8" width="1" height="145.75" fill="url(#g28)"/><rect x="112" y="254.8" width="1" height="145.75" fill="url(#g29)"/><rect x="113" y="254.8" width="1" height="145.75" fill="url(#g30)"/><rect x="114" y="254.8" width="1" height="145.75" fill="url(#g31)"/><rect x="115" y="254.8" width="1" height="145.75" fill="url(#g32)"/><rect x="116" y="254.8" width="1" height="145.75" fill="url(#g33)"/><rect x="117" y="254.8" width="1" height="145.75" fill="url(#g34)"/><rect x="118" y="254.8" width="1" height="145.75" fill="url(#g35)"/><rect x="119" y="254.8" width="1" height="145.75" fill="url(#g36)"/><rect x="120" y="254.8" width="1" height="145.75" fill="url(#g37)"/><rect x="121" y="254.8" width="1" height="145.75" fill="url(#g38)"/><rect x="122" y="254.8" width="1" height="145.75" fill="url(#g39)"/><rect x="123" y="254.8" width="1" height="145.75" fill="url(#g40)"/><rect x="124" y="254.8" width="1" height="145.75" fill="url(#g41)"/><rect x="125" y="254.8" width="1" height="145.75" fill="url(#g42)"/><rect x="126" y="254.8" width="1" height="145.75" fill="url(#g43)"/><rect x="127" y="254.8" width="1" height="145.75" fill="url(#g44)"/><rect x="128" y="254.8" width="1" height="145.75" fill="url(#g45)"/><rect x="129" y="254.8" width="1" height="145.75" fill="url(#g46)"/><rect x="130" y="254.8" width="1" height="145.75" fill="url(#g47)"/><rect x="131" y="254.8" width="1" height="145.75" fill="url(#g48)"/><rect x="132" y="254.8" width="1" height="145.75" fill="url(#g49)"/><rect x="133" y="254.8" width="1" height="145.75" fill="url(#g50)"/><rect x="134" y="254.8" width="1" height="145.75" fill="url(#g51)"/><rect x="135" y="254.8" width="1" height="145.75" fill="url(#g52)"/><rect x="136" y="254.8" width="1" height="145.75" fill="url(#g53)"/><rect x="137" y="254.8" width="1" height="145.75" fill="url(#g54)"/><rect x="138" y="254.8" width="1" height="145.75" fill="url(#g55)"/><rect x="139" y="254.8" width="1" height="145.75" fill="url(#g56)"/><rect x="140" y="254.8" width="1" height="145.75" fill="url(#g57)"/><rect x="141" y="254.8" width="1" height="145.75" fill="url(#g58)"/><rect x="142" y="254.8" width="1" height="145.75" fill="url(#g59)"/><rect x="143" y="254.8" width="1" height="145.75" fill="url(#g60)"/><rect x="144" y="254.8" width="1" height="145.75" fill="url(#g61)"/><rect x="145" y="254.8" width="1" height="145.75" fill="url(#g62)"/><rect x="146" y="254.8" width="1" height="145.75" fill="url(#g63)"/><rect x="147" y="254.8" width="1" height="145.75" fill="url(#g64)"/><rect x="148" y="254.8" width="1" height="145.75" fill="url(#g65)"/><rect x="149" y="254.8" width="1" height="145.75" fill="url(#g66)"/><rect x="150" y="254.8" width="1" height="145.75" fill="url(#g67)"/><rect x="151" y="254.8" width="1" height="145.75" fill="url(#g68)"/><rect x="152" y="254.8" width="1" height="145.75" fill="url(#g69)"/><rect x="153" y="254.8" width="1" height="145.75" fill="url(#g70)"/><rect x="154" y="254.8" width="1" height="145.75" fill="url(#g71)"/><rect x="155" y="254.8" width="1" height="145.75" fill="url(#g72)"/><rect x="156" y="254.8" width="1" height="145.75" fill="url(#g73)"/><rect x="157" y="254.8" width="1" height="145.75" fill="url(#g74)"/><rect x="158" y="254.8" width="1" height="145.75" fill="url(#g75)"/><rect x="159" y="254.8" width="1" height="145.75" fill="url(#g76)"/><rect x="160" y="254.8" width="1" height="145.75" fill="url(#g77)"/><rect x="161" y="254.8" width="1" height="145.75" fill="url(#g78)"/><rect x="162" y="254.8" width="1" height="145.75" fill="url(#g79)"/><rect x="163" y="254.8" width="1" height="145.75" fill="url(#g80)"/><rect x="164" y="254.8" width="1" height="145.75" fill="url(#g81)"/><rect x="165" y="254.8" width="1" height="145.75" fill="url(#g82)"/><rect x="166" y="254.8" width="1" height="145.75" fill="url(#g83)"/><rect x="167" y="254.8" width="1" height="145.75" fill="url(#g84)"/><rect x="168" y="254.8" width="1" height="145.75" fill="url(#g85)"/><rect x="169" y="254.8" width="1" height="145.75" fill="url(#g86)"/><rect x="170" y="254.8" width="1" height="145.75" fill="url(#g87)"/><rect x="171" y="254.8" width="1" height="145.75" fill="url(#g88)"/><rect x="172" y="254.8" width="1" height="145.75" fill="url(#g89)"/><rect x="173" y="254.8" width="1" height="145.75" fill="url(#g90)"/><rect x="174" y="254.8" width="1" height="145.75" fill="url(#g91)"/><rect x="175" y="254.8" width="1" height="145.75" fill="url(#g92)"/><rect x="176" y="254.8" width="1" height="145.75" fill="url(#g93)"/><rect x="177" y="254.8" width="1" height="145.75" fill="url(#g94)"/><rect x="178" y="254.8" width="1" height="145.75" fill="url(#g95)"/><rect x="179" y="254.8" width="1" height="145.75" fill="url(#g96)"/><rect x="180" y="254.8" width="1" height="145.75" fill="url(#g97)"/><rect x="181" y="254.8" width="1" height="145.75" fill="url(#g98)"/><rect x="182" y="254.8" width="1" height="145.75" fill="url(#g99)"/><rect x="183" y="254.8" width="1" height="145.75" fill="url(#g100)"/><rect x="184" y="254.8" width="1" height="145.75" fill="url(#g101)"/><rect x="185" y="254.8" width="1" height="145.75" fill="url(#g102)"/><rect x="186" y="254.8" width="1" height="145.75" fill="url(#g103)"/><rect x="187" y="254.8" width="1" height="145.75" fill="url(#g104)"/><rect x="188" y="254.8" width="1" height="145.75" fill="url(#g105)"/><rect x="189" y="254.8" width="1" height="145.75" fill="url(#g106)"/><rect x="190" y="254.8" width="1" height="145.75" fill="url(#g107)"/><rect x="191" y="254.8" width="1" height="145.75" fill="url(#g108)"/><rect x="192" y="254.8" width="1" height="145.75" fill="url(#g109)"/><rect x="193" y="254.8" width="1" height="145.75" fill="url(#g110)"/><rect x="194" y="254.8" width="1" height="145.75" fill="url(#g111)"/><rect x="195" y="254.8" width="1" height="145.75" fill="url(#g112)"/><rect x="196" y="254.8" width="1" height="145.75" fill="url(#g113)"/><rect x="197" y="254.8" width="1" height="145.75" fill="url(#g114)"/><rect x="198" y="254.8" width="1" height="145.75" fill="url(#g115)"/><rect x="199" y="254.8" width="1" height="145.75" fill="url(#g116)"/><rect x="200" y="254.8" width="1" height="145.75" fill="url(#g117)"/><rect x="201" y="254.8" width="1" height="145.75" fill="url(#g118)"/><rect x="202" y="254.8" width="1" height="145.75" fill="url(#g119)"/><rect x="203" y="254.8" width="1" height="145.75" fill="url(#g120)"/><rect x="204" y="254.8" width="1" height="145.75" fill="url(#g121)"/><rect x="205" y="254.8" width="1" height="145.75" fill="url(#g122)"/><rect x="206" y="254.8" width="1" height="145.75" fill="url(#g123)"/><rect x="207" y="254.8" width="1" height="145.75" fill="url(#g124)"/><rect x="208" y="254.8" width="1" height="145.75" fill="url(#g125)"/><rect x="209" y="254.8" width="1" height="145.75" fill="url(#g126)"/><rect x="210" y="254.8" width="1" height="145.75" fill="url(#g127)"/><rect x="211" y="254.8" width="1" height="145.75" fill="url(#g128)"/><rect x="212" y="254.8" width="1" height="145.75" fill="url(#g129)"/><rect x="213" y="254.8" width="1" height="145.75" fill="url(#g130)"/><rect x="214" y="254.8" width="1" height="145.75" fill="url(#g131)"/><rect x="215" y="254.8" width="1" height="145.75" fill="url(#g132)"/><rect x="216" y="254.8" width="1" height="145.75" fill="url(#g133)"/><rect x="217" y="254.8" width="1" height="145.75" fill="url(#g134)"/><rect x="218" y="254.8" width="1" height="145.75" fill="url(#g135)"/><rect x="219" y="254.8" width="1" height="145.75" fill="url(#g136)"/><rect x="220" y="254.8" width="1" height="145.75" fill="url(#g137)"/><rect x="221" y="254.8" width="1" height="145.75" fill="url(#g138)"/><rect x="222" y="254.8" width="1" height="145.75" fill="url(#g139)"/><rect x="223" y="254.8" width="1" height="145.75" fill="url(#g140)"/><rect x="224" y="254.8" width="1" height="145.75" fill="url(#g141)"/><rect x="225" y="254.8" width="1" height="145.75" fill="url(#g142)"/><rect x="226" y="254.8" width="1" height="145.75" fill="url(#g143)"/><rect x="227" y="254.8" width="1" height="145.75" fill="url(#g144)"/><rect x="228" y="254.8" width="1" height="145.75" fill="url(#g145)"/><rect x="229" y="254.8" width="1" height="145.75" fill="url(#g146)"/><rect x="230" y="254.8" width="1" height="145.75" fill="url(#g147)"/><rect x="231" y="254.8" width="1" height="145.75" fill="url(#g148)"/><rect x="232" y="254.8" width="1" height="145.75" fill="url(#g149)"/><rect x="233" y="254.8" width="1" height="145.75" fill="url(#g150)"/><rect x="234" y="254.8" width="1" height="145.75" fill="url(#g151)"/><rect x="235" y="254.8" width="1" height="145.75" fill="url(#g152)"/><rect x="236" y="254.8" width="1" height="145.75" fill="url(#g153)"/><rect x="237" y="254.8" width="1" height="145.75" fill="url(#g154)"/><rect x="238" y="254.8" width="1" height="145.75" fill="url(#g155)"/><rect x="239" y="254.8" width="1" height="145.75" fill="url(#g156)"/><rect x="240" y="254.8" width="1" height="145.75" fill="url(#g157)"/><rect x="241" y="254.8" width="1" height="145.75" fill="url(#g158)"/><rect x="242" y="254.8" width="1" height="145.75" fill="url(#g159)"/><rect x="243" y="254.8" width="1" height="145.75" fill="url(#g160)"/><rect x="244" y="254.8" width="1" height="145.75" fill="url(#g161)"/><rect x="245" y="254.8" width="1" height="145.75" fill="url(#g162)"/><rect x="246" y="254.8" width="1" height="145.75" fill="url(#g163)"/><rect x="247" y="254.8" width="1" height="145.75" fill="url(#g164)"/><rect x="248" y="254.8" width="1" height="145.75" fill="url(#g165)"/><rect x="249" y="254.8" width="1" height="145.75" fill="url(#g166)"/><rect x="250" y="254.8" width="1" height="145.75" fill="url(#g167)"/><rect x="251" y="254.8" width="1" height="145.75" fill="url(#g168)"/><rect x="252" y="254.8" width="1" height="145.75" fill="url(#g169)"/><rect x="253" y="254.8" width="1" height="145.75" fill="url(#g170)"/><rect x="254" y="254.8" width="1" height="145.75" fill="url(#g171)"/><rect x="255" y="254.8" width="1" height="145.75" fill="url(#g172)"/><rect x="256" y="254.8" width="1" height="145.75" fill="url(#g173)"/><rect x="257" y="254.8" width="1" height="145.75" fill="url(#g174)"/><rect x="258" y="254.8" width="1" height="145.75" fill="url(#g175)"/><rect x="259" y="254.8" width="1" height="145.75" fill="url(#g176)"/><rect x="260" y="254.8" width="1" height="145.75" fill="url(#g177)"/><rect x="261" y="254.8" width="1" height="145.75" fill="url(#g178)"/><rect x="262" y="254.8" width="1" height="145.75" fill="url(#g179)"/><rect x="263" y="254.8" width="1" height="145.75" fill="url(#g180)"/><rect x="264" y="254.8" width="1" height="145.75" fill="url(#g181)"/><rect x="265" y="254.8" width="1" height="145.75" fill="url(#g182)"/><rect x="266" y="254.8" width="1" height="145.75" fill="url(#g183)"/><rect x="267" y="254.8" width="1" height="145.75" fill="url(#g184)"/><rect x="268" y="254.8" width="1" height="145.75" fill="url(#g185)"/><rect x="269" y="254.8" width="1" height="145.75" fill="url(#g186)"/><rect x="270" y="254.8" width="1" height="145.75" fill="url(#g187)"/><rect x="271" y="254.8" width="1" height="145.75" fill="url(#g188)"/><rect x="272" y="254.8" width="1" height="145.75" fill="url(#g189)"/><rect x="273" y="254.8" width="1" height="145.75" fill="url(#g190)"/><rect x="274" y="254.8" width="1" height="145.75" fill="url(#g191)"/><rect x="275" y="254.8" width="1" height="145.75" fill="url(#g192)"/><rect x="276" y="254.8" width="1" height="145.75" fill="url(#g193)"/><rect x="277" y="254.8" width="1" height="145.75" fill="url(#g194)"/><rect x="278" y="254.8" width="1" height="145.75" fill="url(#g195)"/><rect x="279" y="254.8" width="1" height="145.75" fill="url(#g196)"/><rect x="280" y="254.8" width="1" height="145.75" fill="url(#g197)"/><rect x="281" y="254.8" width="1" height="145.75" fill="url(#g198)"/><rect x="282" y="254.8" width="1" height="145.75" fill="url(#g199)"/><rect x="283" y="254.8" width="1" height="145.75" fill="url(#g200)"/><rect x="284" y="254.8" width="1" height="145.75" fill="url(#g201)"/><rect x="285" y="254.8" width="1" height="145.75" fill="url(#g202)"/><rect x="286" y="254.8" width="1" height="145.75" fill="url(#g203)"/><rect x="287" y="254.8" width="1" height="145.75" fill="url(#g204)"/><rect x="288" y="254.8" width="1" height="145.75" fill="url(#g205)"/><rect x="289" y="254.8" width="1" height="145.75" fill="url(#g206)"/><rect x="290" y="254.8" width="1" height="145.75" fill="url(#g207)"/><rect x="291" y="254.8" width="1" height="145.75" fill="url(#g208)"/><rect x="292" y="254.8" width="1" height="145.75" fill="url(#g209)"/><rect x="293" y="254.8" width="1" height="145.75" fill="url(#g210)"/><rect x="294" y="254.8" width="1" height="145.75" fill="url(#g211)"/><rect x="295" y="254.8" width="1" height="145.75" fill="url(#g212)"/><rect x="296" y="254.8" width="1" height="145.75" fill="url(#g213)"/><rect x="297" y="254.8" width="1" height="145.75" fill="url(#g214)"/><rect x="298" y="254.8" width="1" height="145.75" fill="url(#g215)"/><rect x="299" y="254.8" width="1" height="145.75" fill="url(#g216)"/><rect x="300" y="254.8" width="1" height="145.75" fill="url(#g217)"/><rect x="301" y="254.8" width="1" height="145.75" fill="url(#g218)"/><rect x="302" y="254.8" width="1" height="145.75" fill="url(#g219)"/><rect x="303" y="254.8" width="1" height="145.75" fill="url(#g220)"/><rect x="304" y="254.8" width="1" height="145.75" fill="url(#g221)"/><rect x="305" y="254.8" width="1" height="145.75" fill="url(#g222)"/><rect x="306" y="254.8" width="1" height="145.75" fill="url(#g223)"/><rect x="307" y="254.8" width="1" height="145.75" fill="url(#g224)"/><rect x="308" y="254.8" width="1" height="145.75" fill="url(#g225)"/><rect x="309" y="254.8" width="1" height="145.75" fill="url(#g226)"/><rect x="310" y="254.8" width="1" height="145.75" fill="url(#g227)"/><rect x="311" y="254.8" width="1" height="145.75" fill="url(#g228)"/><rect x="312" y="254.8" width="1" height="145.75" fill="url(#g229)"/><rect x="313" y="254.8" width="1" height="145.75" fill="url(#g230)"/><rect x="314" y="254.8" width="1" height="145.75" fill="url(#g231)"/><rect x="315" y="254.8" width="1" height="145.75" fill="url(#g232)"/><rect x="316" y="254.8" width="1" height="145.75" fill="url(#g233)"/><rect x="317" y="254.8" width="1" height="145.75" fill="url(#g234)"/><rect x="318" y="254.8" width="1" height="145.75" fill="url(#g235)"/><rect x="319" y="254.8" width="1" height="145.75" fill="url(#g236)"/><rect x="320" y="254.8" width="1" height="145.75" fill="url(#g237)"/><rect x="321" y="254.8" width="1" height="145.75" fill="url(#g238)"/><rect x="322" y="254.8" width="1" height="145.75" fill="url(#g239)"/><rect x="323" y="254.8" width="1" height="145.75" fill="url(#g240)"/><rect x="324" y="254.8" width="1" height="145.75" fill="url(#g241)"/><rect x="325" y="254.8" width="1" height="145.75" fill="url(#g242)"/><rect x="326" y="254.8" width="1" height="145.75" fill="url(#g243)"/><rect x="327" y="254.8" width="1" height="145.75" fill="url(#g244)"/><rect x="328" y="254.8" width="1" height="145.75" fill="url(#g245)"/><rect x="329" y="254.8" width="1" height="145.75" fill="url(#g246)"/><rect x="330" y="254.8" width="1" height="145.75" fill="url(#g247)"/><rect x="331" y="254.8" width="1" height="145.75" fill="url(#g248)"/><rect x="332" y="254.8" width="1" height="145.75" fill="url(#g249)"/><rect x="333" y="254.8" width="1" height="145.75" fill="url(#g250)"/><rect x="334" y="254.8" width="1" height="145.75" fill="url(#g251)"/><rect x="335" y="254.8" width="1" height="145.75" fill="url(#g252)"/><rect x="336" y="254.8" width="1" height="145.75" fill="url(#g253)"/><rect x="337" y="254.8" width="1" height="145.75" fill="url(#g254)"/><rect x="338" y="254.8" width="1" height="145.75" fill="url(#g255)"/><rect x="339" y="254.8" width="1" height="145.75" fill="url(#g256)"/><rect x="340" y="254.8" width="1" height="145.75" fill="url(#g257)"/><rect x="341" y="254.8" width="1" height="145.75" fill="url(#g258)"/><rect x="342" y="254.8" width="1" height="145.75" fill="url(#g259)"/><rect x="343" y="254.8" width="1" height="145.75" fill="url(#g260)"/><rect x="344" y="254.8" width="1" height="145.75" fill="url(#g261)"/><rect x="345" y="254.8" width="1" height="145.75" fill="url(#g262)"/><rect x="346" y="254.8" width="1" height="145.75" fill="url(#g263)"/><rect x="347" y="254.8" width="1" height="145.75" fill="url(#g264)"/><rect x="348" y="254.8" width="1" height="145.75" fill="url(#g265)"/><rect x="349" y="254.8" width="1" height="145.75" fill="url(#g266)"/><rect x="350" y="254.8" width="1" height="145.75" fill="url(#g267)"/><rect x="351" y="254.8" width="1" height="145.75" fill="url(#g268)"/><rect x="352" y="254.8" width="1" height="145.75" fill="url(#g269)"/><rect x="353" y="254.8" width="1" height="145.75" fill="url(#g270)"/><rect x="354" y="254.8" width="1" height="145.75" fill="url(#g271)"/><rect x="355" y="254.8" width="1" height="145.75" fill="url(#g272)"/><rect x="356" y="254.8" width="1" height="145.75" fill="url(#g273)"/><rect x="357" y="254.8" width="1" height="145.75" fill="url(#g274)"/><rect x="358" y="254.8" width="1" height="145.75" fill="url(#g275)"/><rect x="359" y="254.8" width="1" height="145.75" fill="url(#g276)"/><rect x="360" y="254.8" width="1" height="145.75" fill="url(#g277)"/><rect x="361" y="254.8" width="1" height="145.75" fill="url(#g278)"/><rect x="362" y="254.8" width="1" height="145.75" fill="url(#g279)"/><rect x="363" y="254.8" width="1" height="145.75" fill="url(#g280)"/><rect x="364" y="254.8" width="1" height="145.75" fill="url(#g281)"/><rect x="365" y="254.8" width="1" height="145.75" fill="url(#g282)"/><rect x="366" y="254.8" width="1" height="145.75" fill="url(#g283)"/><rect x="367" y="254.8" width="1" height="145.75" fill="url(#g284)"/><rect x="368" y="254.8" width="1" height="145.75" fill="url(#g285)"/><rect x="369" y="254.8" width="1" height="145.75" fill="url(#g286)"/><rect x="370" y="254.8" width="1" height="145.75" fill="url(#g287)"/><rect x="371" y="254.8" width="1" height="145.75" fill="url(#g288)"/><rect x="372" y="254.8" width="1" height="145.75" fill="url(#g289)"/><rect x="373" y="254.8" width="1" height="145.75" fill="url(#g290)"/><rect x="374" y="254.8" width="1" height="145.75" fill="url(#g291)"/><rect x="375" y="254.8" width="1" height="145.75" fill="url(#g292)"/><rect x="376" y="254.8" width="1" height="145.75" fill="url(#g293)"/><rect x="377" y="254.8" width="1" height="145.75" fill="url(#g294)"/><rect x="378" y="254.8" width="1" height="145.75" fill="url(#g295)"/><rect x="379" y="254.8" width="1" height="145.75" fill="url(#g296)"/><rect x="380" y="254.8" width="1" height="145.75" fill="url(#g297)"/><rect x="381" y="254.8" width="1" height="145.75" fill="url(#g298)"/><rect x="382" y="254.8" width="1" height="145.75" fill="url(#g299)"/><rect x="383" y="254.8" width="1" height="145.75" fill="url(#g300)"/><rect x="384" y="254.8" width="1" height="145.75" fill="url(#g301)"/><rect x="385" y="254.8" width="1" height="145.75" fill="url(#g302)"/><rect x="386" y="254.8" width="1" height="145.75" fill="url(#g303)"/><rect x="387" y="254.8" width="1" height="145.75" fill="url(#g304)"/><rect x="388" y="254.8" width="1" height="145.75" fill="url(#g305)"/><rect x="389" y="254.8" width="1" height="145.75" fill="url(#g306)"/><rect x="390" y="254.8" width="1" height="145.75" fill="url(#g307)"/><rect x="391" y="254.8" width="1" height="145.75" fill="url(#g308)"/><rect x="392" y="254.8" width="1" height="145.75" fill="url(#g309)"/><rect x="393" y="254.8" width="1" height="145.75" fill="url(#g310)"/><rect x="394" y="254.8" width="1" height="145.75" fill="url(#g311)"/><rect x="395" y="254.8" width="1" height="145.75" fill="url(#g312)"/><rect x="396" y="254.8" width="1" height="145.75" fill="url(#g313)"/><rect x="397" y="254.8" width="1" height="145.75" fill="url(#g314)"/><rect x="398" y="254.8" width="1" height="145.75" fill="url(#g315)"/><rect x="399" y="254.8" width="1" height="145.75" fill="url(#g316)"/><rect x="400" y="254.8" width="1" height="145.75" fill="url(#g317)"/><rect x="401" y="254.8" width="1" height="145.75" fill="url(#g318)"/><rect x="402" y="254.8" width="1" height="145.75" fill="url(#g319)"/><rect x="403" y="254.8" width="1" height="145.75" fill="url(#g320)"/><rect x="404" y="254.8" width="1" height="145.75" fill="url(#g321)"/><rect x="405" y="254.8" width="1" height="145.75" fill="url(#g322)"/><rect x="406" y="254.8" width="1" height="145.75" fill="url(#g323)"/><rect x="407" y="254.8" width="1" height="145.75" fill="url(#g324)"/><rect x="408" y="254.8" width="1" height="145.75" fill="url(#g325)"/><rect x="409" y="254.8" width="1" height="145.75" fill="url(#g326)"/><rect x="410" y="254.8" width="1" height="145.75" fill="url(#g327)"/><rect x="411" y="254.8" width="1" height="145.75" fill="url(#g328)"/><rect x="412" y="254.8" width="1" height="145.75" fill="url(#g329)"/><rect x="413" y="254.8" width="1" height="145.75" fill="url(#g330)"/><rect x="414" y="254.8" width="1" height="145.75" fill="url(#g331)"/><rect x="415" y="254.8" width="1" height="145.75" fill="url(#g332)"/><rect x="416" y="254.8" width="1" height="145.75" fill="url(#g333)"/><rect x="417" y="254.8" width="1" height="145.75" fill="url(#g334)"/><rect x="418" y="254.8" width="1" height="145.75" fill="url(#g335)"/><rect x="419" y="254.8" width="1" height="145.75" fill="url(#g336)"/><rect x="420" y="254.8" width="1" height="145.75" fill="url(#g337)"/><rect x="421" y="254.8" width="1" height="145.75" fill="url(#g338)"/><rect x="422" y="254.8" width="1" height="145.75" fill="url(#g339)"/><rect x="423" y="254.8" width="1" height="145.75" fill="url(#g340)"/><rect x="424" y="254.8" width="1" height="145.75" fill="url(#g341)"/><rect x="425" y="254.8" width="1" height="145.75" fill="url(#g342)"/><rect x="426" y="254.8" width="1" height="145.75" fill="url(#g343)"/><rect x="427" y="254.8" width="1" height="145.75" fill="url(#g344)"/><rect x="428" y="254.8" width="1" height="145.75" fill="url(#g345)"/><rect x="429" y="254.8" width="1" height="145.75" fill="url(#g346)"/><rect x="430" y="254.8" width="1" height="145.75" fill="url(#g347)"/><rect x="431" y="254.8" width="1" height="145.75" fill="url(#g348)"/><rect x="432" y="254.8" width="1" height="145.75" fill="url(#g349)"/><rect x="433" y="254.8" width="1" height="145.75" fill="url(#g350)"/><rect x="434" y="254.8" width="1" height="145.75" fill="url(#g351)"/><rect x="435" y="254.8" width="1" height="145.75" fill="url(#g352)"/><rect x="436" y="254.8" width="1" height="145.75" fill="url(#g353)"/><rect x="437" y="254.8" width="1" height="145.75" fill="url(#g354)"/><rect x="438" y="254.8" width="1" height="145.75" fill="url(#g355)"/><rect x="439" y="254.8" width="1" height="145.75" fill="url(#g356)"/><rect x="440" y="254.8" width="1" height="145.75" fill="url(#g357)"/><rect x="441" y="254.8" width="1" height="145.75" fill="url(#g358)"/><rect x="442" y="254.8" width="1" height="145.75" fill="url(#g359)"/><rect x="443" y="254.8" width="1" height="145.75" fill="url(#g360)"/><rect x="444" y="254.8" width="1" height="145.75" fill="url(#g361)"/><rect x="445" y="254.8" width="1" height="145.75" fill="url(#g362)"/><rect x="446" y="254.8" width="1" height="145.75" fill="url(#g363)"/><rect x="447" y="254.8" width="1" height="145.75" fill="url(#g364)"/><rect x="448" y="254.8" width="1" height="145.75" fill="url(#g365)"/><rect x="449" y="254.8" width="1" height="145.75" fill="url(#g366)"/><rect x="450" y="254.8" width="1" height="145.75" fill="url(#g367)"/><rect x="451" y="254.8" width="1" height="145.75" fill="url(#g368)"/><rect x="452" y="254.8" width="1" height="145.75" fill="url(#g369)"/><rect x="453" y="254.8" width="1" height="145.75" fill="url(#g370)"/><rect x="454" y="254.8" width="1" height="145.75" fill="url(#g371)"/><rect x="455" y="254.8" width="1" height="145.75" fill="url(#g372)"/><rect x="456" y="254.8" width="1" height="145.75" fill="url(#g373)"/><rect x="457" y="254.8" width="1" height="145.75" fill="url(#g374)"/><rect x="458" y="254.8" width="1" height="145.75" fill="url(#g375)"/><rect x="459" y="254.8" width="1" height="145.75" fill="url(#g376)"/><rect x="460" y="254.8" width="1" height="145.75" fill="url(#g377)"/></g>
<text x="83.00" y="417.20" font-size="12" font-weight="bold" text-anchor="middle" fill="#1a1a1a" stroke="#1a1a1a" stroke-width="0.25">0.2</text>
<text x="146.03" y="417.20" font-size="12" font-weight="bold" text-anchor="middle" fill="#1a1a1a" stroke="#1a1a1a" stroke-width="0.25">0.25</text>
<text x="209.07" y="417.20" font-size="12" font-weight="bold" text-anchor="middle" fill="#1a1a1a" stroke="#1a1a1a" stroke-width="0.25">0.3</text>
<text x="272.10" y="417.20" font-size="12" font-weight="bold" text-anchor="middle" fill="#1a1a1a" stroke="#1a1a1a" stroke-width="0.25">0.35</text>
<text x="335.13" y="417.20" font-size="12" font-weight="bold" text-anchor="middle" fill="#1a1a1a" stroke="#1a1a1a" stroke-width="0.25">0.4</text>
<text x="398.17" y="417.20" font-size="12" font-weight="bold" text-anchor="middle" fill="#1a1a1a" stroke="#1a1a1a" stroke-width="0.25">0.45</text>
<text x="461.20" y="417.20" font-size="12" font-weight="bold" text-anchor="middle" fill="#1a1a1a" stroke="#1a1a1a" stroke-width="0.25">0.5</text>
<text x="78.80" y="405.45" font-size="12" font-weight="bold" text-anchor="end" fill="#1a1a1a" stroke="#1a1a1a" stroke-width="0.25">0.85</text>
<text x="78.80" y="369.01" font-size="12" font-weight="bold" text-anchor="end" fill="#1a1a1a" stroke="#1a1a1a" stroke-width="0.25">0.875</text>
<text x="78.80" y="332.57" font-size="12" font-weight="bold" text-anchor="end" fill="#1a1a1a" stroke="#1a1a1a" stroke-width="0.25">0.9</text>
<text x="78.80" y="296.14" font-size="12" font-weight="bold" text-anchor="end" fill="#1a1a1a" stroke="#1a1a1a" stroke-width="0.25">0.925</text>
<text x="78.80" y="259.70" font-size="12" font-weight="bold" text-anchor="end" fill="#1a1a1a" stroke="#1a1a1a" stroke-width="0.25">0.95</text>
<text x="272.00" y="433.50" font-size="13.75" font-weight="bold" text-anchor="middle" fill="#1a1a1a" stroke="#1a1a1a" stroke-width="0.25">Filling Factor</text>
<text x="42.20" y="327.40" font-size="13.75" font-weight="bold" text-anchor="middle" fill="#1a1a1a" stroke="#1a1a1a" stroke-width="0.25" transform="rotate(-90 42.2 327.4)">Period (μm)</text>
<rect x="478.6" y="254.8" width="9.8" height="145.6" fill="url(#cb)" stroke="#999" stroke-width="0.8"/>
<text x="492.00" y="259.70" font-size="11" font-weight="bold" text-anchor="start" fill="#1a1a1a" stroke="#1a1a1a" stroke-width="0.25">0.572</text>
<text x="492.60" y="405.20" font-size="11" font-weight="bold" text-anchor="start" fill="#1a1a1a" stroke="#1a1a1a" stroke-width="0.25">0</text>
<text x="472.50" y="328.25" font-size="12.5" font-weight="bold" text-anchor="middle" fill="#1a1a1a" stroke="#1a1a1a" stroke-width="0.25" transform="rotate(-90 472.5 328.25)">Coupling Efficiency</text></svg>
</body></html>
